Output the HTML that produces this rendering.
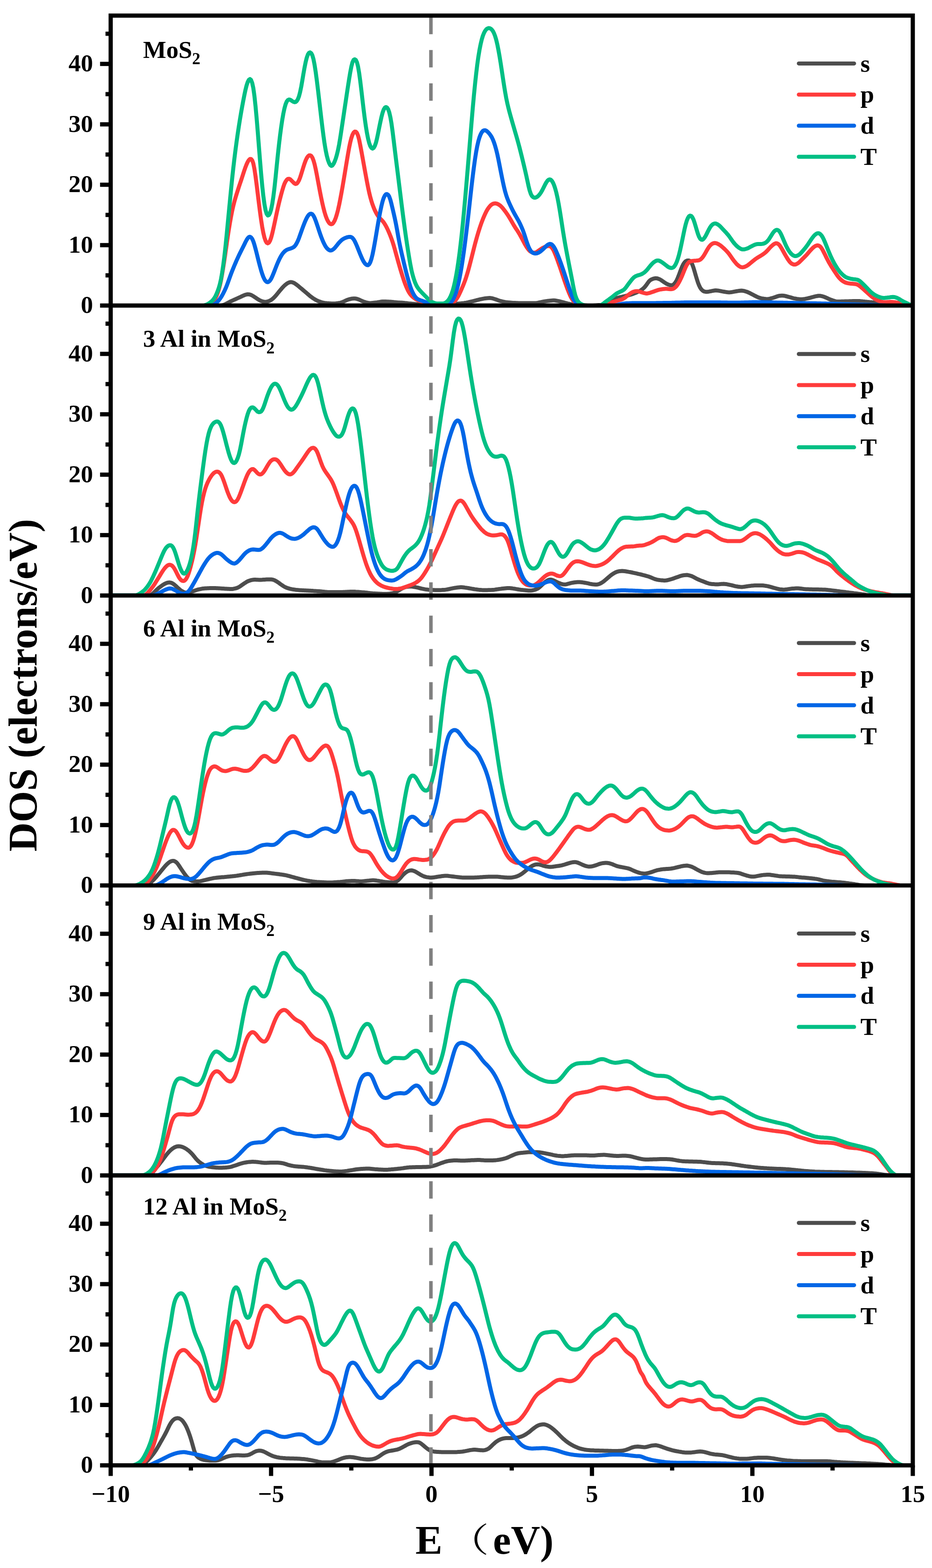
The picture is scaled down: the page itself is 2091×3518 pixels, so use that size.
<!DOCTYPE html>
<html lang="en">
<head>
<meta charset="utf-8">
<title>DOS of Al-intercalated MoS2</title>
<style>
html,body{margin:0;padding:0;background:#fff;}
body{width:2091px;height:3518px;}
svg{display:block;}
text{font-family:"Liberation Serif","Noto Serif CJK SC",serif;font-weight:bold;fill:#000;}
.tk{font-size:55px;}
.lb{font-size:55px;}
.sub{font-size:37px;}
.ax{font-size:90.7px;}
.cjk{font-family:"Noto Serif CJK SC","Liberation Serif",serif;font-weight:normal;}
.c{fill:none;stroke-linejoin:round;stroke-linecap:round;}
</style>
</head>
<body>
<svg width="2091" height="3518" viewBox="0 0 2091 3518">
<rect x="0" y="0" width="2091" height="3518" fill="#fff"/>
<defs>
<clipPath id="cp0"><rect x="248.3" y="35.0" width="1799.6" height="650.5"/></clipPath>
<clipPath id="cp1"><rect x="248.3" y="685.5" width="1799.6" height="650.5"/></clipPath>
<clipPath id="cp2"><rect x="248.3" y="1336.1" width="1799.6" height="650.5"/></clipPath>
<clipPath id="cp3"><rect x="248.3" y="1986.6" width="1799.6" height="650.5"/></clipPath>
<clipPath id="cp4"><rect x="248.3" y="2637.2" width="1799.6" height="650.5"/></clipPath>
</defs>
<g clip-path="url(#cp0)">
<path class="c" stroke="#4d4d4d" stroke-width="9.0" d="M243.3,685.5 245.8,685.5 248.3,685.5 250.8,685.5 253.3,685.5 255.8,685.5 258.3,685.5 260.8,685.5 263.3,685.5 265.8,685.5 268.3,685.5 270.8,685.5 273.3,685.5 275.8,685.5 278.3,685.5 280.8,685.5 283.3,685.5 285.8,685.5 288.3,685.5 290.8,685.5 293.3,685.5 295.8,685.5 298.3,685.5 300.8,685.5 303.3,685.5 305.8,685.5 308.3,685.5 310.8,685.5 313.3,685.5 315.8,685.5 318.3,685.5 320.8,685.5 323.3,685.5 325.8,685.5 328.3,685.5 330.8,685.5 333.3,685.5 335.8,685.5 338.3,685.5 340.8,685.5 343.3,685.5 345.8,685.5 348.3,685.5 350.8,685.5 353.3,685.5 355.8,685.5 358.3,685.5 360.8,685.5 363.3,685.5 365.8,685.5 368.3,685.5 370.8,685.5 373.3,685.5 375.8,685.5 378.3,685.5 380.8,685.5 383.3,685.5 385.8,685.5 388.3,685.5 390.8,685.5 393.3,685.5 395.8,685.5 398.3,685.5 400.8,685.5 403.3,685.5 405.8,685.5 408.3,685.5 410.8,685.5 413.3,685.5 415.8,685.5 418.3,685.5 420.8,685.5 423.3,685.5 425.8,685.5 428.3,685.5 430.8,685.5 433.3,685.5 435.8,685.5 438.3,685.5 440.8,685.5 443.3,685.5 445.8,685.5 448.3,685.5 450.8,685.5 453.3,685.5 455.8,685.5 458.3,685.5 460.8,685.5 463.3,685.5 465.8,685.5 468.3,685.5 470.8,685.5 473.3,685.5 475.8,685.5 478.3,685.5 480.8,685.5 483.3,685.5 485.8,685.5 488.3,685.5 490.8,685.5 493.3,685.5 495.8,685.3 498.3,685.0 500.8,684.4 503.3,683.5 505.8,682.4 508.3,681.1 510.8,679.8 513.3,678.4 515.8,677.1 518.3,675.8 520.8,674.7 523.3,673.5 525.8,672.4 528.3,671.3 530.8,670.2 533.3,669.0 535.8,667.9 538.3,666.8 540.8,665.6 543.3,664.4 545.8,663.2 548.3,662.2 550.8,661.3 553.3,660.7 555.8,660.3 558.3,660.4 560.8,660.9 563.3,661.8 565.8,663.0 568.3,664.5 570.8,666.1 573.3,667.8 575.8,669.5 578.3,671.2 580.8,672.7 583.3,674.1 585.8,675.2 588.3,676.1 590.8,676.8 593.3,677.2 595.8,677.3 598.3,677.0 600.8,676.4 603.3,675.5 605.8,674.4 608.3,673.0 610.8,671.1 613.3,669.0 615.8,666.6 618.3,663.8 620.8,660.8 623.3,657.7 625.8,654.6 628.3,651.6 630.8,648.7 633.3,645.8 635.8,643.1 638.3,640.6 640.8,638.5 643.3,636.6 645.8,635.0 648.3,633.8 650.8,633.1 653.3,632.9 655.8,633.4 658.3,634.3 660.8,635.6 663.3,637.2 665.8,639.1 668.3,641.1 670.8,643.1 673.3,645.2 675.8,647.2 678.3,649.3 680.8,651.5 683.3,653.6 685.8,655.7 688.3,657.9 690.8,660.0 693.3,662.2 695.8,664.3 698.3,666.2 700.8,668.0 703.3,669.7 705.8,671.3 708.3,672.7 710.8,674.1 713.3,675.2 715.8,676.2 718.3,677.1 720.8,678.0 723.3,678.7 725.8,679.3 728.3,679.7 730.8,680.0 733.3,680.3 735.8,680.4 738.3,680.6 740.8,680.7 743.3,680.9 745.8,680.9 748.3,681.0 750.8,680.9 753.3,680.8 755.8,680.6 758.3,680.2 760.8,679.8 763.3,679.3 765.8,678.7 768.3,677.8 770.8,676.7 773.3,675.5 775.8,674.3 778.3,673.2 780.8,672.3 783.3,671.5 785.8,670.9 788.3,670.3 790.8,669.9 793.3,669.7 795.8,669.7 798.3,670.0 800.8,670.6 803.3,671.4 805.8,672.3 808.3,673.5 810.8,674.7 813.3,675.8 815.8,676.7 818.3,677.5 820.8,678.3 823.3,679.0 825.8,679.5 828.3,679.8 830.8,679.9 833.3,679.8 835.8,679.6 838.3,679.3 840.8,679.0 843.3,678.7 845.8,678.4 848.3,678.0 850.8,677.6 853.3,677.2 855.8,676.8 858.3,676.6 860.8,676.5 863.3,676.6 865.8,676.6 868.3,676.7 870.8,676.8 873.3,676.9 875.8,677.1 878.3,677.3 880.8,677.5 883.3,677.8 885.8,678.1 888.3,678.3 890.8,678.5 893.3,678.7 895.8,678.8 898.3,678.9 900.8,679.1 903.3,679.3 905.8,679.5 908.3,679.8 910.8,680.0 913.3,680.3 915.8,680.6 918.3,680.9 920.8,681.1 923.3,681.3 925.8,681.6 928.3,681.8 930.8,682.0 933.3,682.2 935.8,682.4 938.3,682.5 940.8,682.7 943.3,682.8 945.8,682.9 948.3,683.0 950.8,683.0 953.3,683.0 955.8,683.0 958.3,683.0 960.8,683.0 963.3,683.0 965.8,683.0 968.3,683.0 970.8,683.0 973.3,683.0 975.8,683.0 978.3,683.0 980.8,683.0 983.3,683.0 985.8,683.0 988.3,683.0 990.8,683.0 993.3,683.0 995.8,683.0 998.3,683.0 1000.8,683.0 1003.3,683.0 1005.8,682.9 1008.3,682.8 1010.8,682.7 1013.3,682.6 1015.8,682.4 1018.3,682.2 1020.8,682.0 1023.3,681.8 1025.8,681.5 1028.3,681.3 1030.8,681.0 1033.3,680.8 1035.8,680.5 1038.3,680.2 1040.8,679.9 1043.3,679.5 1045.8,679.1 1048.3,678.6 1050.8,678.1 1053.3,677.5 1055.8,677.0 1058.3,676.4 1060.8,675.8 1063.3,675.2 1065.8,674.5 1068.3,673.9 1070.8,673.2 1073.3,672.6 1075.8,671.9 1078.3,671.4 1080.8,670.9 1083.3,670.4 1085.8,669.9 1088.3,669.5 1090.8,669.2 1093.3,668.9 1095.8,668.7 1098.3,668.6 1100.8,668.7 1103.3,669.1 1105.8,669.7 1108.3,670.5 1110.8,671.3 1113.3,672.1 1115.8,673.0 1118.3,673.9 1120.8,674.8 1123.3,675.5 1125.8,676.1 1128.3,676.7 1130.8,677.1 1133.3,677.6 1135.8,678.0 1138.3,678.3 1140.8,678.6 1143.3,678.8 1145.8,679.0 1148.3,679.2 1150.8,679.4 1153.3,679.5 1155.8,679.6 1158.3,679.7 1160.8,679.8 1163.3,679.9 1165.8,680.0 1168.3,680.0 1170.8,680.0 1173.3,680.0 1175.8,680.0 1178.3,680.0 1180.8,680.0 1183.3,680.0 1185.8,680.0 1188.3,680.0 1190.8,680.0 1193.3,680.0 1195.8,680.0 1198.3,680.0 1200.8,679.9 1203.3,679.7 1205.8,679.4 1208.3,679.0 1210.8,678.4 1213.3,677.9 1215.8,677.3 1218.3,676.8 1220.8,676.4 1223.3,676.0 1225.8,675.6 1228.3,675.3 1230.8,675.0 1233.3,674.7 1235.8,674.4 1238.3,674.2 1240.8,674.1 1243.3,674.1 1245.8,674.3 1248.3,674.7 1250.8,675.1 1253.3,675.6 1255.8,676.2 1258.3,676.8 1260.8,677.5 1263.3,678.2 1265.8,678.9 1268.3,679.6 1270.8,680.2 1273.3,680.8 1275.8,681.3 1278.3,681.9 1280.8,682.4 1283.3,682.7 1285.8,683.1 1288.3,683.3 1290.8,683.6 1293.3,683.8 1295.8,684.0 1298.3,684.3 1300.8,684.5 1303.3,684.6 1305.8,684.8 1308.3,685.0 1310.8,685.1 1313.3,685.2 1315.8,685.3 1318.3,685.4 1320.8,685.5 1323.3,685.5 1325.8,685.5 1328.3,685.5 1330.8,685.4 1333.3,685.3 1335.8,685.2 1338.3,685.0 1340.8,684.8 1343.3,684.6 1345.8,684.4 1348.3,684.2 1350.8,683.8 1353.3,683.4 1355.8,682.9 1358.3,682.2 1360.8,681.5 1363.3,680.6 1365.8,679.5 1368.3,678.0 1370.8,676.3 1373.3,674.4 1375.8,672.6 1378.3,671.0 1380.8,669.8 1383.3,668.9 1385.8,668.2 1388.3,667.6 1390.8,667.0 1393.3,666.4 1395.8,665.8 1398.3,665.2 1400.8,664.7 1403.3,664.1 1405.8,663.5 1408.3,662.9 1410.8,662.3 1413.3,661.5 1415.8,660.8 1418.3,659.9 1420.8,659.1 1423.3,658.1 1425.8,657.2 1428.3,656.1 1430.8,655.0 1433.3,653.8 1435.8,652.5 1438.3,651.0 1440.8,649.2 1443.3,647.1 1445.8,644.7 1448.3,641.8 1450.8,638.5 1453.3,634.8 1455.8,631.4 1458.3,629.0 1460.8,627.4 1463.3,626.2 1465.8,625.3 1468.3,624.6 1470.8,624.3 1473.3,624.4 1475.8,625.0 1478.3,625.9 1480.8,627.0 1483.3,628.5 1485.8,630.3 1488.3,632.0 1490.8,633.7 1493.3,635.3 1495.8,636.8 1498.3,638.1 1500.8,639.0 1503.3,639.7 1505.8,640.1 1508.3,639.9 1510.8,638.7 1513.3,636.3 1515.8,633.0 1518.3,628.6 1520.8,623.0 1523.3,616.7 1525.8,609.9 1528.3,603.2 1530.8,597.2 1533.3,592.3 1535.8,588.7 1538.3,586.3 1540.8,585.0 1543.3,584.4 1545.8,584.6 1548.3,585.7 1550.8,588.5 1553.3,593.5 1555.8,600.5 1558.3,608.8 1560.8,617.4 1563.3,625.8 1565.8,633.6 1568.3,640.1 1570.8,645.2 1573.3,648.9 1575.8,651.5 1578.3,653.2 1580.8,654.2 1583.3,654.7 1585.8,654.8 1588.3,654.5 1590.8,654.1 1593.3,653.6 1595.8,653.2 1598.3,652.7 1600.8,652.2 1603.3,651.8 1605.8,651.6 1608.3,651.7 1610.8,651.9 1613.3,652.4 1615.8,652.9 1618.3,653.4 1620.8,653.9 1623.3,654.3 1625.8,654.7 1628.3,655.1 1630.8,655.5 1633.3,655.8 1635.8,655.9 1638.3,655.8 1640.8,655.5 1643.3,655.1 1645.8,654.6 1648.3,654.1 1650.8,653.7 1653.3,653.3 1655.8,652.9 1658.3,652.5 1660.8,652.2 1663.3,652.1 1665.8,652.2 1668.3,652.6 1670.8,653.2 1673.3,654.0 1675.8,654.8 1678.3,655.8 1680.8,656.9 1683.3,658.1 1685.8,659.5 1688.3,660.8 1690.8,662.1 1693.3,663.4 1695.8,664.6 1698.3,665.9 1700.8,667.0 1703.3,668.0 1705.8,668.7 1708.3,669.3 1710.8,669.8 1713.3,670.2 1715.8,670.6 1718.3,670.8 1720.8,670.9 1723.3,670.8 1725.8,670.4 1728.3,669.9 1730.8,669.2 1733.3,668.5 1735.8,667.7 1738.3,666.9 1740.8,666.0 1743.3,665.1 1745.8,664.3 1748.3,663.7 1750.8,663.4 1753.3,663.2 1755.8,663.2 1758.3,663.4 1760.8,663.9 1763.3,664.5 1765.8,665.1 1768.3,665.8 1770.8,666.5 1773.3,667.2 1775.8,667.9 1778.3,668.7 1780.8,669.3 1783.3,669.8 1785.8,670.2 1788.3,670.6 1790.8,670.9 1793.3,671.2 1795.8,671.4 1798.3,671.4 1800.8,671.3 1803.3,671.1 1805.8,670.7 1808.3,670.2 1810.8,669.7 1813.3,669.1 1815.8,668.5 1818.3,667.9 1820.8,667.2 1823.3,666.5 1825.8,665.8 1828.3,665.2 1830.8,664.7 1833.3,664.2 1835.8,663.8 1838.3,663.7 1840.8,663.8 1843.3,664.3 1845.8,665.0 1848.3,665.8 1850.8,666.7 1853.3,667.7 1855.8,668.9 1858.3,670.1 1860.8,671.2 1863.3,672.2 1865.8,673.1 1868.3,674.0 1870.8,674.8 1873.3,675.6 1875.8,676.1 1878.3,676.4 1880.8,676.5 1883.3,676.4 1885.8,676.4 1888.3,676.3 1890.8,676.2 1893.3,676.2 1895.8,676.1 1898.3,676.0 1900.8,676.0 1903.3,675.9 1905.8,675.8 1908.3,675.8 1910.8,675.7 1913.3,675.6 1915.8,675.6 1918.3,675.6 1920.8,675.5 1923.3,675.5 1925.8,675.5 1928.3,675.6 1930.8,675.8 1933.3,675.9 1935.8,676.2 1938.3,676.4 1940.8,676.7 1943.3,676.9 1945.8,677.2 1948.3,677.4 1950.8,677.7 1953.3,677.9 1955.8,678.1 1958.3,678.4 1960.8,678.6 1963.3,678.9 1965.8,679.2 1968.3,679.4 1970.8,679.7 1973.3,679.9 1975.8,680.2 1978.3,680.4 1980.8,680.7 1983.3,681.0 1985.8,681.2 1988.3,681.5 1990.8,681.7 1993.3,682.0 1995.8,682.2 1998.3,682.4 2000.8,682.7 2003.3,682.9 2005.8,683.1 2008.3,683.4 2010.8,683.6 2013.3,683.9 2015.8,684.1 2018.3,684.3 2020.8,684.6 2023.3,684.8 2025.8,685.0 2028.3,685.1 2030.8,685.3 2033.3,685.4 2035.8,685.4 2038.3,685.5 2040.8,685.5 2043.3,685.5 2045.8,685.5 2048.3,685.5 2050.8,685.5 2053.3,685.5 2055.8,685.5"/>
<path class="c" stroke="#ff3b3b" stroke-width="9.0" d="M243.3,685.5 245.8,685.5 248.3,685.5 250.8,685.5 253.3,685.5 255.8,685.5 258.3,685.5 260.8,685.5 263.3,685.5 265.8,685.5 268.3,685.5 270.8,685.5 273.3,685.5 275.8,685.5 278.3,685.5 280.8,685.5 283.3,685.5 285.8,685.5 288.3,685.5 290.8,685.5 293.3,685.5 295.8,685.5 298.3,685.5 300.8,685.5 303.3,685.5 305.8,685.5 308.3,685.5 310.8,685.5 313.3,685.5 315.8,685.5 318.3,685.5 320.8,685.5 323.3,685.5 325.8,685.5 328.3,685.5 330.8,685.5 333.3,685.5 335.8,685.5 338.3,685.5 340.8,685.5 343.3,685.5 345.8,685.5 348.3,685.5 350.8,685.5 353.3,685.5 355.8,685.5 358.3,685.5 360.8,685.5 363.3,685.5 365.8,685.5 368.3,685.5 370.8,685.5 373.3,685.5 375.8,685.5 378.3,685.5 380.8,685.5 383.3,685.5 385.8,685.5 388.3,685.5 390.8,685.5 393.3,685.5 395.8,685.5 398.3,685.5 400.8,685.5 403.3,685.5 405.8,685.5 408.3,685.5 410.8,685.5 413.3,685.5 415.8,685.5 418.3,685.5 420.8,685.5 423.3,685.5 425.8,685.5 428.3,685.5 430.8,685.5 433.3,685.5 435.8,685.5 438.3,685.5 440.8,685.5 443.3,685.5 445.8,685.5 448.3,685.5 450.8,685.5 453.3,685.5 455.8,685.5 458.3,685.5 460.8,685.5 463.3,685.4 465.8,685.2 468.3,684.5 470.8,683.2 473.3,681.5 475.8,679.2 478.3,676.7 480.8,673.5 483.3,669.4 485.8,664.1 488.3,657.6 490.8,650.0 493.3,640.7 495.8,629.2 498.3,615.5 500.8,600.4 503.3,584.2 505.8,567.1 508.3,549.3 510.8,531.9 513.3,515.6 515.8,500.4 518.3,486.4 520.8,473.6 523.3,462.4 525.8,452.6 528.3,443.8 530.8,435.5 533.3,427.6 535.8,419.9 538.3,412.4 540.8,405.0 543.3,397.4 545.8,389.6 548.3,381.9 550.8,374.8 553.3,368.5 555.8,363.2 558.3,359.2 560.8,356.8 563.3,356.7 565.8,359.6 568.3,366.6 570.8,378.9 573.3,395.5 575.8,414.7 578.3,435.2 580.8,455.8 583.3,475.3 585.8,493.3 588.3,509.3 590.8,522.6 593.3,533.1 595.8,540.4 598.3,544.6 600.8,545.9 603.3,544.4 605.8,540.2 608.3,533.4 610.8,524.0 613.3,513.1 615.8,501.6 618.3,489.8 620.8,478.1 623.3,466.8 625.8,456.1 628.3,445.9 630.8,436.4 633.3,427.4 635.8,419.1 638.3,412.1 640.8,407.0 643.3,403.5 645.8,401.4 648.3,401.1 650.8,402.2 653.3,404.4 655.8,406.9 658.3,409.5 660.8,411.7 663.3,412.8 665.8,412.0 668.3,409.1 670.8,404.6 673.3,398.4 675.8,390.7 678.3,382.5 680.8,374.3 683.3,366.6 685.8,359.9 688.3,354.6 690.8,350.9 693.3,348.8 695.8,348.4 698.3,349.9 700.8,353.5 703.3,359.8 705.8,368.6 708.3,379.5 710.8,392.1 713.3,405.5 715.8,419.0 718.3,432.2 720.8,444.7 723.3,456.4 725.8,467.0 728.3,476.5 730.8,484.6 733.3,491.2 735.8,496.3 738.3,500.1 740.8,502.3 743.3,503.1 745.8,502.2 748.3,499.4 750.8,495.0 753.3,488.7 755.8,480.6 758.3,471.1 760.8,460.0 763.3,447.5 765.8,434.2 768.3,420.2 770.8,405.5 773.3,390.4 775.8,375.3 778.3,360.2 780.8,345.4 783.3,331.5 785.8,319.5 788.3,309.7 790.8,302.3 793.3,297.5 795.8,295.2 798.3,295.4 800.8,298.3 803.3,304.2 805.8,313.7 808.3,326.0 810.8,339.2 813.3,352.9 815.8,366.8 818.3,380.6 820.8,394.2 823.3,407.6 825.8,420.4 828.3,432.1 830.8,442.3 833.3,451.1 835.8,458.8 838.3,465.5 840.8,471.4 843.3,476.5 845.8,481.0 848.3,484.9 850.8,488.1 853.3,490.8 855.8,493.2 858.3,495.8 860.8,498.9 863.3,502.7 865.8,507.0 868.3,511.9 870.8,517.2 873.3,523.0 875.8,529.1 878.3,535.7 880.8,542.8 883.3,550.9 885.8,559.6 888.3,568.7 890.8,577.8 893.3,586.7 895.8,595.6 898.3,604.2 900.8,612.5 903.3,620.5 905.8,628.2 908.3,635.3 910.8,641.7 913.3,647.5 915.8,652.7 918.3,657.1 920.8,660.6 923.3,663.5 925.8,666.0 928.3,668.1 930.8,669.9 933.3,671.5 935.8,672.8 938.3,673.8 940.8,674.8 943.3,675.6 945.8,676.3 948.3,677.0 950.8,677.7 953.3,678.4 955.8,679.1 958.3,679.7 960.8,680.2 963.3,680.7 965.8,681.1 968.3,681.4 970.8,681.8 973.3,682.1 975.8,682.4 978.3,682.6 980.8,682.9 983.3,683.1 985.8,683.4 988.3,683.6 990.8,683.7 993.3,683.8 995.8,683.9 998.3,684.0 1000.8,683.9 1003.3,683.6 1005.8,683.2 1008.3,682.5 1010.8,681.6 1013.3,680.6 1015.8,679.3 1018.3,677.4 1020.8,675.0 1023.3,672.0 1025.8,668.4 1028.3,664.2 1030.8,659.2 1033.3,653.8 1035.8,648.1 1038.3,642.3 1040.8,636.1 1043.3,629.5 1045.8,622.2 1048.3,614.1 1050.8,605.4 1053.3,596.2 1055.8,586.7 1058.3,576.9 1060.8,566.8 1063.3,556.8 1065.8,547.2 1068.3,538.0 1070.8,529.1 1073.3,520.7 1075.8,512.8 1078.3,505.3 1080.8,498.3 1083.3,491.8 1085.8,485.8 1088.3,480.2 1090.8,475.0 1093.3,470.5 1095.8,466.7 1098.3,463.5 1100.8,460.8 1103.3,458.8 1105.8,457.4 1108.3,456.6 1110.8,456.3 1113.3,456.6 1115.8,457.4 1118.3,458.6 1120.8,460.2 1123.3,462.1 1125.8,464.6 1128.3,467.5 1130.8,470.7 1133.3,473.9 1135.8,477.4 1138.3,481.1 1140.8,484.9 1143.3,489.0 1145.8,493.1 1148.3,497.5 1150.8,501.9 1153.3,506.2 1155.8,510.2 1158.3,513.9 1160.8,517.6 1163.3,521.6 1165.8,525.8 1168.3,530.3 1170.8,535.0 1173.3,539.7 1175.8,544.4 1178.3,549.0 1180.8,553.2 1183.3,556.9 1185.8,560.2 1188.3,562.8 1190.8,564.7 1193.3,565.9 1195.8,566.7 1198.3,567.1 1200.8,566.9 1203.3,565.9 1205.8,564.2 1208.3,562.4 1210.8,560.6 1213.3,559.0 1215.8,557.4 1218.3,556.0 1220.8,554.8 1223.3,553.8 1225.8,552.9 1228.3,552.2 1230.8,551.9 1233.3,552.3 1235.8,553.6 1238.3,556.1 1240.8,559.7 1243.3,564.7 1245.8,570.7 1248.3,577.2 1250.8,583.9 1253.3,590.9 1255.8,598.0 1258.3,605.4 1260.8,612.9 1263.3,620.4 1265.8,627.9 1268.3,635.1 1270.8,642.1 1273.3,648.9 1275.8,655.2 1278.3,661.1 1280.8,666.5 1283.3,670.9 1285.8,674.4 1288.3,677.1 1290.8,679.2 1293.3,680.9 1295.8,682.4 1298.3,683.6 1300.8,684.5 1303.3,685.1 1305.8,685.4 1308.3,685.5 1310.8,685.5 1313.3,685.5 1315.8,685.5 1318.3,685.5 1320.8,685.5 1323.3,685.5 1325.8,685.5 1328.3,685.5 1330.8,685.5 1333.3,685.5 1335.8,685.5 1338.3,685.5 1340.8,685.5 1343.3,685.5 1345.8,685.5 1348.3,685.5 1350.8,685.3 1353.3,684.9 1355.8,684.3 1358.3,683.4 1360.8,682.4 1363.3,681.3 1365.8,680.4 1368.3,679.6 1370.8,678.8 1373.3,678.1 1375.8,677.4 1378.3,676.7 1380.8,676.0 1383.3,675.2 1385.8,674.5 1388.3,673.7 1390.8,673.0 1393.3,672.2 1395.8,671.3 1398.3,670.2 1400.8,668.7 1403.3,667.0 1405.8,664.9 1408.3,662.8 1410.8,660.8 1413.3,659.0 1415.8,657.4 1418.3,655.9 1420.8,654.7 1423.3,654.0 1425.8,653.5 1428.3,653.2 1430.8,653.3 1433.3,653.7 1435.8,654.5 1438.3,655.4 1440.8,656.2 1443.3,657.0 1445.8,657.7 1448.3,658.2 1450.8,658.4 1453.3,658.2 1455.8,657.7 1458.3,657.0 1460.8,656.1 1463.3,655.2 1465.8,654.4 1468.3,653.5 1470.8,652.6 1473.3,651.7 1475.8,650.9 1478.3,650.2 1480.8,649.7 1483.3,649.2 1485.8,648.8 1488.3,648.4 1490.8,648.2 1493.3,648.1 1495.8,648.1 1498.3,648.3 1500.8,648.6 1503.3,648.8 1505.8,648.8 1508.3,648.4 1510.8,647.6 1513.3,646.1 1515.8,644.1 1518.3,641.2 1520.8,637.6 1523.3,633.5 1525.8,628.7 1528.3,623.4 1530.8,617.6 1533.3,611.6 1535.8,605.4 1538.3,599.4 1540.8,594.4 1543.3,590.8 1545.8,588.2 1548.3,586.7 1550.8,585.9 1553.3,585.5 1555.8,585.3 1558.3,585.1 1560.8,584.9 1563.3,584.6 1565.8,584.4 1568.3,583.8 1570.8,582.7 1573.3,580.7 1575.8,578.0 1578.3,574.6 1580.8,570.6 1583.3,566.2 1585.8,561.8 1588.3,557.6 1590.8,553.8 1593.3,550.7 1595.8,548.4 1598.3,546.7 1600.8,545.7 1603.3,545.3 1605.8,545.5 1608.3,546.2 1610.8,547.3 1613.3,548.7 1615.8,550.3 1618.3,552.3 1620.8,554.4 1623.3,556.6 1625.8,558.9 1628.3,561.4 1630.8,564.0 1633.3,566.8 1635.8,569.9 1638.3,573.4 1640.8,577.0 1643.3,580.6 1645.8,584.0 1648.3,587.2 1650.8,590.2 1653.3,593.0 1655.8,595.2 1658.3,597.1 1660.8,598.5 1663.3,599.4 1665.8,599.7 1668.3,599.4 1670.8,598.6 1673.3,597.6 1675.8,596.3 1678.3,594.6 1680.8,592.7 1683.3,590.6 1685.8,588.5 1688.3,586.5 1690.8,584.4 1693.3,582.4 1695.8,580.6 1698.3,578.9 1700.8,577.4 1703.3,575.9 1705.8,574.4 1708.3,572.9 1710.8,571.2 1713.3,569.5 1715.8,567.6 1718.3,565.5 1720.8,563.0 1723.3,560.4 1725.8,557.5 1728.3,554.8 1730.8,552.3 1733.3,550.1 1735.8,548.2 1738.3,546.7 1740.8,545.8 1743.3,545.9 1745.8,547.2 1748.3,549.6 1750.8,552.8 1753.3,556.8 1755.8,561.2 1758.3,565.7 1760.8,570.2 1763.3,574.6 1765.8,578.8 1768.3,582.7 1770.8,586.2 1773.3,589.1 1775.8,591.2 1778.3,592.6 1780.8,593.4 1783.3,593.5 1785.8,593.0 1788.3,591.8 1790.8,590.2 1793.3,588.2 1795.8,585.8 1798.3,583.3 1800.8,580.8 1803.3,578.3 1805.8,575.8 1808.3,573.2 1810.8,570.4 1813.3,567.5 1815.8,564.6 1818.3,561.8 1820.8,559.1 1823.3,556.5 1825.8,554.3 1828.3,552.6 1830.8,551.3 1833.3,550.6 1835.8,550.7 1838.3,551.8 1840.8,553.8 1843.3,557.0 1845.8,561.2 1848.3,566.1 1850.8,571.1 1853.3,576.2 1855.8,581.2 1858.3,586.0 1860.8,590.5 1863.3,594.7 1865.8,598.8 1868.3,602.6 1870.8,606.5 1873.3,610.3 1875.8,614.1 1878.3,617.8 1880.8,621.1 1883.3,624.1 1885.8,626.6 1888.3,628.8 1890.8,630.7 1893.3,632.3 1895.8,633.6 1898.3,634.4 1900.8,635.1 1903.3,635.6 1905.8,636.0 1908.3,636.4 1910.8,636.6 1913.3,636.8 1915.8,637.0 1918.3,637.2 1920.8,637.6 1923.3,638.4 1925.8,639.7 1928.3,641.5 1930.8,643.4 1933.3,645.5 1935.8,647.6 1938.3,649.8 1940.8,652.1 1943.3,654.4 1945.8,656.6 1948.3,658.9 1950.8,661.2 1953.3,663.4 1955.8,665.4 1958.3,667.3 1960.8,669.1 1963.3,670.8 1965.8,672.3 1968.3,673.6 1970.8,674.7 1973.3,675.6 1975.8,676.4 1978.3,677.1 1980.8,677.6 1983.3,677.9 1985.8,677.9 1988.3,677.9 1990.8,677.8 1993.3,677.7 1995.8,677.6 1998.3,677.5 2000.8,677.6 2003.3,677.7 2005.8,677.9 2008.3,678.2 2010.8,678.6 2013.3,678.9 2015.8,679.3 2018.3,679.9 2020.8,680.4 2023.3,681.1 2025.8,681.7 2028.3,682.3 2030.8,682.9 2033.3,683.6 2035.8,684.2 2038.3,684.7 2040.8,685.2 2043.3,685.4 2045.8,685.5 2048.3,685.5 2050.8,685.5 2053.3,685.5 2055.8,685.5"/>
<path class="c" stroke="#0066e6" stroke-width="9.0" d="M243.3,685.5 245.8,685.5 248.3,685.5 250.8,685.5 253.3,685.5 255.8,685.5 258.3,685.5 260.8,685.5 263.3,685.5 265.8,685.5 268.3,685.5 270.8,685.5 273.3,685.5 275.8,685.5 278.3,685.5 280.8,685.5 283.3,685.5 285.8,685.5 288.3,685.5 290.8,685.5 293.3,685.5 295.8,685.5 298.3,685.5 300.8,685.5 303.3,685.5 305.8,685.5 308.3,685.5 310.8,685.5 313.3,685.5 315.8,685.5 318.3,685.5 320.8,685.5 323.3,685.5 325.8,685.5 328.3,685.5 330.8,685.5 333.3,685.5 335.8,685.5 338.3,685.5 340.8,685.5 343.3,685.5 345.8,685.5 348.3,685.5 350.8,685.5 353.3,685.5 355.8,685.5 358.3,685.5 360.8,685.5 363.3,685.5 365.8,685.5 368.3,685.5 370.8,685.5 373.3,685.5 375.8,685.5 378.3,685.5 380.8,685.5 383.3,685.5 385.8,685.5 388.3,685.5 390.8,685.5 393.3,685.5 395.8,685.5 398.3,685.5 400.8,685.5 403.3,685.5 405.8,685.5 408.3,685.5 410.8,685.5 413.3,685.5 415.8,685.5 418.3,685.5 420.8,685.5 423.3,685.5 425.8,685.5 428.3,685.5 430.8,685.5 433.3,685.5 435.8,685.5 438.3,685.5 440.8,685.5 443.3,685.5 445.8,685.5 448.3,685.5 450.8,685.5 453.3,685.5 455.8,685.5 458.3,685.5 460.8,685.5 463.3,685.5 465.8,685.5 468.3,685.5 470.8,685.5 473.3,685.4 475.8,685.2 478.3,684.4 480.8,683.1 483.3,681.3 485.8,679.1 488.3,676.6 490.8,673.9 493.3,670.8 495.8,667.1 498.3,662.9 500.8,658.3 503.3,653.3 505.8,647.9 508.3,642.0 510.8,635.4 513.3,628.5 515.8,621.5 518.3,614.6 520.8,608.1 523.3,602.0 525.8,595.9 528.3,590.1 530.8,584.3 533.3,578.8 535.8,573.4 538.3,568.2 540.8,563.2 543.3,558.3 545.8,553.3 548.3,548.2 550.8,543.0 553.3,538.3 555.8,534.4 558.3,531.9 560.8,531.2 563.3,532.6 565.8,535.9 568.3,541.5 570.8,549.2 573.3,558.2 575.8,568.0 578.3,578.1 580.8,588.1 583.3,597.7 585.8,606.6 588.3,614.6 590.8,621.4 593.3,626.7 595.8,630.4 598.3,632.5 600.8,633.1 603.3,632.0 605.8,629.4 608.3,625.5 610.8,620.3 613.3,614.3 615.8,608.0 618.3,601.5 620.8,595.2 623.3,589.1 625.8,583.6 628.3,578.5 630.8,574.0 633.3,570.1 635.8,566.9 638.3,564.3 640.8,562.2 643.3,560.6 645.8,559.5 648.3,558.7 650.8,558.0 653.3,557.1 655.8,556.1 658.3,554.8 660.8,552.7 663.3,549.6 665.8,545.4 668.3,540.2 670.8,534.1 673.3,527.1 675.8,519.9 678.3,513.0 680.8,506.2 683.3,499.8 685.8,493.9 688.3,488.8 690.8,484.5 693.3,481.4 695.8,479.7 698.3,479.4 700.8,480.8 703.3,484.0 705.8,488.9 708.3,495.3 710.8,502.4 713.3,509.9 715.8,517.6 718.3,525.0 720.8,531.9 723.3,538.2 725.8,544.1 728.3,549.1 730.8,553.4 733.3,556.8 735.8,559.3 738.3,561.0 740.8,561.9 743.3,561.8 745.8,560.7 748.3,558.9 750.8,556.5 753.3,553.6 755.8,550.4 758.3,547.2 760.8,544.3 763.3,541.7 765.8,539.3 768.3,537.3 770.8,535.7 773.3,534.4 775.8,533.4 778.3,532.5 780.8,531.9 783.3,531.5 785.8,531.4 788.3,532.1 790.8,533.8 793.3,536.8 795.8,541.0 798.3,546.2 800.8,552.0 803.3,558.2 805.8,564.5 808.3,570.8 810.8,576.6 813.3,582.1 815.8,586.8 818.3,590.6 820.8,593.2 823.3,594.8 825.8,594.9 828.3,593.0 830.8,588.3 833.3,581.0 835.8,571.0 838.3,558.7 840.8,545.0 843.3,530.4 845.8,515.4 848.3,500.7 850.8,486.7 853.3,473.7 855.8,462.0 858.3,451.9 860.8,444.1 863.3,438.9 865.8,436.0 868.3,435.4 870.8,437.1 873.3,441.2 875.8,448.2 878.3,457.7 880.8,468.2 883.3,479.0 885.8,490.1 888.3,502.1 890.8,515.4 893.3,529.6 895.8,543.2 898.3,555.6 900.8,567.0 903.3,577.8 905.8,588.4 908.3,598.8 910.8,609.0 913.3,618.6 915.8,627.5 918.3,636.0 920.8,643.7 923.3,650.5 925.8,656.2 928.3,661.0 930.8,664.9 933.3,668.0 935.8,670.2 938.3,671.7 940.8,672.8 943.3,673.8 945.8,674.6 948.3,675.4 950.8,676.3 953.3,677.3 955.8,678.2 958.3,679.1 960.8,679.9 963.3,680.6 965.8,681.1 968.3,681.6 970.8,682.0 973.3,682.4 975.8,682.8 978.3,683.2 980.8,683.4 983.3,683.7 985.8,683.8 988.3,683.9 990.8,683.9 993.3,683.8 995.8,683.6 998.3,683.2 1000.8,682.7 1003.3,682.1 1005.8,681.4 1008.3,680.4 1010.8,679.0 1013.3,676.5 1015.8,672.8 1018.3,668.1 1020.8,662.4 1023.3,655.4 1025.8,646.8 1028.3,636.8 1030.8,625.3 1033.3,612.2 1035.8,597.4 1038.3,581.1 1040.8,563.7 1043.3,545.0 1045.8,525.0 1048.3,504.1 1050.8,482.5 1053.3,460.0 1055.8,437.2 1058.3,415.0 1060.8,394.1 1063.3,374.6 1065.8,356.5 1068.3,340.6 1070.8,327.4 1073.3,316.6 1075.8,308.0 1078.3,301.6 1080.8,296.9 1083.3,293.8 1085.8,292.4 1088.3,292.2 1090.8,293.2 1093.3,295.1 1095.8,297.5 1098.3,300.4 1100.8,303.8 1103.3,307.9 1105.8,313.1 1108.3,319.5 1110.8,327.2 1113.3,336.1 1115.8,346.3 1118.3,358.1 1120.8,370.8 1123.3,383.7 1125.8,396.2 1128.3,408.3 1130.8,419.7 1133.3,429.8 1135.8,438.3 1138.3,445.4 1140.8,451.6 1143.3,457.3 1145.8,462.7 1148.3,467.9 1150.8,472.9 1153.3,477.7 1155.8,482.2 1158.3,486.6 1160.8,490.9 1163.3,495.4 1165.8,500.3 1168.3,505.5 1170.8,511.1 1173.3,517.3 1175.8,524.2 1178.3,531.9 1180.8,539.8 1183.3,547.2 1185.8,553.7 1188.3,559.0 1190.8,563.0 1193.3,565.8 1195.8,567.4 1198.3,568.3 1200.8,568.7 1203.3,568.6 1205.8,567.9 1208.3,566.8 1210.8,565.3 1213.3,563.5 1215.8,561.4 1218.3,559.1 1220.8,556.7 1223.3,554.2 1225.8,551.8 1228.3,549.7 1230.8,548.2 1233.3,547.3 1235.8,547.4 1238.3,548.8 1240.8,551.4 1243.3,554.9 1245.8,559.5 1248.3,564.9 1250.8,570.8 1253.3,577.0 1255.8,583.5 1258.3,590.3 1260.8,597.4 1263.3,604.7 1265.8,612.2 1268.3,619.8 1270.8,627.4 1273.3,635.0 1275.8,642.5 1278.3,649.9 1280.8,657.1 1283.3,663.8 1285.8,669.6 1288.3,674.0 1290.8,677.3 1293.3,679.8 1295.8,681.8 1298.3,683.2 1300.8,684.3 1303.3,685.1 1305.8,685.4 1308.3,685.5 1310.8,685.5 1313.3,685.5 1315.8,685.5 1318.3,685.5 1320.8,685.5 1323.3,685.5 1325.8,685.5 1328.3,685.5 1330.8,685.5 1333.3,685.5 1335.8,685.5 1338.3,685.5 1340.8,685.5 1343.3,685.5 1345.8,685.5 1348.3,685.5 1350.8,685.5 1353.3,685.5 1355.8,685.5 1358.3,685.5 1360.8,685.5 1363.3,685.5 1365.8,685.5 1368.3,685.5 1370.8,685.5 1373.3,685.5 1375.8,685.4 1378.3,685.2 1380.8,684.9 1383.3,684.4 1385.8,683.9 1388.3,683.2 1390.8,682.6 1393.3,682.1 1395.8,681.6 1398.3,681.2 1400.8,681.0 1403.3,680.8 1405.8,680.6 1408.3,680.5 1410.8,680.4 1413.3,680.3 1415.8,680.2 1418.3,680.1 1420.8,680.0 1423.3,680.0 1425.8,680.0 1428.3,680.0 1430.8,680.0 1433.3,680.0 1435.8,680.0 1438.3,680.0 1440.8,680.0 1443.3,680.0 1445.8,680.0 1448.3,680.0 1450.8,680.0 1453.3,680.0 1455.8,680.0 1458.3,680.0 1460.8,680.0 1463.3,679.9 1465.8,679.9 1468.3,679.9 1470.8,679.9 1473.3,679.8 1475.8,679.8 1478.3,679.8 1480.8,679.7 1483.3,679.7 1485.8,679.7 1488.3,679.6 1490.8,679.6 1493.3,679.6 1495.8,679.5 1498.3,679.5 1500.8,679.5 1503.3,679.4 1505.8,679.4 1508.3,679.3 1510.8,679.3 1513.3,679.2 1515.8,679.1 1518.3,679.1 1520.8,679.0 1523.3,678.9 1525.8,678.9 1528.3,678.8 1530.8,678.7 1533.3,678.7 1535.8,678.6 1538.3,678.6 1540.8,678.6 1543.3,678.5 1545.8,678.5 1548.3,678.5 1550.8,678.5 1553.3,678.5 1555.8,678.5 1558.3,678.5 1560.8,678.5 1563.3,678.5 1565.8,678.5 1568.3,678.5 1570.8,678.5 1573.3,678.5 1575.8,678.5 1578.3,678.5 1580.8,678.5 1583.3,678.5 1585.8,678.5 1588.3,678.5 1590.8,678.5 1593.3,678.5 1595.8,678.5 1598.3,678.5 1600.8,678.5 1603.3,678.5 1605.8,678.5 1608.3,678.5 1610.8,678.6 1613.3,678.6 1615.8,678.6 1618.3,678.7 1620.8,678.7 1623.3,678.7 1625.8,678.8 1628.3,678.8 1630.8,678.8 1633.3,678.9 1635.8,678.9 1638.3,678.9 1640.8,679.0 1643.3,679.0 1645.8,679.0 1648.3,679.0 1650.8,679.0 1653.3,679.0 1655.8,678.9 1658.3,678.9 1660.8,678.9 1663.3,678.8 1665.8,678.7 1668.3,678.7 1670.8,678.6 1673.3,678.5 1675.8,678.4 1678.3,678.4 1680.8,678.3 1683.3,678.2 1685.8,678.2 1688.3,678.1 1690.8,678.1 1693.3,678.0 1695.8,678.0 1698.3,678.0 1700.8,678.0 1703.3,678.0 1705.8,678.0 1708.3,678.1 1710.8,678.1 1713.3,678.1 1715.8,678.2 1718.3,678.2 1720.8,678.3 1723.3,678.4 1725.8,678.4 1728.3,678.5 1730.8,678.6 1733.3,678.6 1735.8,678.7 1738.3,678.7 1740.8,678.8 1743.3,678.9 1745.8,678.9 1748.3,679.0 1750.8,679.0 1753.3,679.1 1755.8,679.1 1758.3,679.2 1760.8,679.2 1763.3,679.3 1765.8,679.3 1768.3,679.4 1770.8,679.4 1773.3,679.5 1775.8,679.5 1778.3,679.6 1780.8,679.6 1783.3,679.7 1785.8,679.7 1788.3,679.8 1790.8,679.8 1793.3,679.9 1795.8,679.9 1798.3,680.0 1800.8,680.0 1803.3,680.1 1805.8,680.1 1808.3,680.2 1810.8,680.2 1813.3,680.3 1815.8,680.3 1818.3,680.4 1820.8,680.4 1823.3,680.5 1825.8,680.5 1828.3,680.6 1830.8,680.6 1833.3,680.7 1835.8,680.7 1838.3,680.8 1840.8,680.8 1843.3,680.9 1845.8,680.9 1848.3,681.0 1850.8,681.0 1853.3,681.1 1855.8,681.2 1858.3,681.2 1860.8,681.3 1863.3,681.4 1865.8,681.5 1868.3,681.5 1870.8,681.6 1873.3,681.7 1875.8,681.8 1878.3,681.8 1880.8,681.9 1883.3,682.0 1885.8,682.1 1888.3,682.2 1890.8,682.2 1893.3,682.3 1895.8,682.4 1898.3,682.5 1900.8,682.6 1903.3,682.6 1905.8,682.7 1908.3,682.8 1910.8,682.9 1913.3,682.9 1915.8,683.0 1918.3,683.1 1920.8,683.2 1923.3,683.2 1925.8,683.3 1928.3,683.4 1930.8,683.5 1933.3,683.5 1935.8,683.6 1938.3,683.7 1940.8,683.8 1943.3,683.8 1945.8,683.9 1948.3,684.0 1950.8,684.1 1953.3,684.1 1955.8,684.2 1958.3,684.3 1960.8,684.4 1963.3,684.5 1965.8,684.6 1968.3,684.7 1970.8,684.8 1973.3,684.9 1975.8,685.0 1978.3,685.1 1980.8,685.2 1983.3,685.2 1985.8,685.3 1988.3,685.4 1990.8,685.4 1993.3,685.4 1995.8,685.5 1998.3,685.5 2000.8,685.5 2003.3,685.5 2005.8,685.5 2008.3,685.5 2010.8,685.5 2013.3,685.5 2015.8,685.5 2018.3,685.5 2020.8,685.5 2023.3,685.5 2025.8,685.5 2028.3,685.5 2030.8,685.5 2033.3,685.5 2035.8,685.5 2038.3,685.5 2040.8,685.5 2043.3,685.5 2045.8,685.5 2048.3,685.5 2050.8,685.5"/>
<path class="c" stroke="#00bf84" stroke-width="9.0" d="M243.3,685.5 245.8,685.5 248.3,685.5 250.8,685.5 253.3,685.5 255.8,685.5 258.3,685.5 260.8,685.5 263.3,685.5 265.8,685.5 268.3,685.5 270.8,685.5 273.3,685.5 275.8,685.5 278.3,685.5 280.8,685.5 283.3,685.5 285.8,685.5 288.3,685.5 290.8,685.5 293.3,685.5 295.8,685.5 298.3,685.5 300.8,685.5 303.3,685.5 305.8,685.5 308.3,685.5 310.8,685.5 313.3,685.5 315.8,685.5 318.3,685.5 320.8,685.5 323.3,685.5 325.8,685.5 328.3,685.5 330.8,685.5 333.3,685.5 335.8,685.5 338.3,685.5 340.8,685.5 343.3,685.5 345.8,685.5 348.3,685.5 350.8,685.5 353.3,685.5 355.8,685.5 358.3,685.5 360.8,685.5 363.3,685.5 365.8,685.5 368.3,685.5 370.8,685.5 373.3,685.5 375.8,685.5 378.3,685.5 380.8,685.5 383.3,685.5 385.8,685.5 388.3,685.5 390.8,685.5 393.3,685.5 395.8,685.5 398.3,685.5 400.8,685.5 403.3,685.5 405.8,685.5 408.3,685.5 410.8,685.5 413.3,685.5 415.8,685.5 418.3,685.5 420.8,685.5 423.3,685.5 425.8,685.5 428.3,685.5 430.8,685.5 433.3,685.5 435.8,685.5 438.3,685.5 440.8,685.5 443.3,685.5 445.8,685.5 448.3,685.5 450.8,685.5 453.3,685.5 455.8,685.4 458.3,685.1 460.8,684.5 463.3,683.5 465.8,682.3 468.3,680.8 470.8,679.1 473.3,677.2 475.8,675.1 478.3,672.4 480.8,669.0 483.3,664.7 485.8,659.4 488.3,653.3 490.8,646.2 493.3,637.5 495.8,626.4 498.3,612.2 500.8,595.3 503.3,576.1 505.8,554.0 508.3,529.3 510.8,503.2 513.3,477.1 515.8,451.3 518.3,425.8 520.8,401.3 523.3,378.2 525.8,356.8 528.3,336.8 530.8,318.0 533.3,300.4 535.8,283.8 538.3,268.1 540.8,253.3 543.3,239.3 545.8,225.9 548.3,213.1 550.8,201.3 553.3,191.4 555.8,184.0 558.3,179.1 560.8,177.3 563.3,179.5 565.8,186.0 568.3,197.5 570.8,215.2 573.3,238.4 575.8,265.7 578.3,295.9 580.8,327.8 583.3,359.3 585.8,389.3 588.3,416.5 590.8,439.7 593.3,458.2 595.8,471.6 598.3,479.9 600.8,483.4 603.3,482.5 605.8,478.0 608.3,469.9 610.8,457.7 613.3,441.3 615.8,421.3 618.3,397.9 620.8,372.8 623.3,348.3 625.8,325.3 628.3,304.2 630.8,285.3 633.3,268.6 635.8,254.4 638.3,242.7 640.8,233.7 643.3,227.7 645.8,224.5 648.3,223.3 650.8,223.6 653.3,225.1 655.8,227.0 658.3,228.5 660.8,229.2 663.3,228.8 665.8,226.7 668.3,222.6 670.8,216.1 673.3,206.7 675.8,194.6 678.3,180.4 680.8,165.5 683.3,151.5 685.8,139.1 688.3,129.2 690.8,122.3 693.3,118.5 695.8,117.6 698.3,119.4 700.8,124.2 703.3,132.8 705.8,145.6 708.3,161.7 710.8,180.3 713.3,200.7 715.8,222.1 718.3,243.8 720.8,265.3 723.3,286.1 725.8,305.6 728.3,323.1 730.8,337.8 733.3,349.7 735.8,359.0 738.3,365.8 740.8,370.3 743.3,372.2 745.8,371.2 748.3,367.7 750.8,362.5 753.3,355.8 755.8,347.3 758.3,336.9 760.8,324.3 763.3,309.4 765.8,293.1 768.3,276.5 770.8,259.8 773.3,243.0 775.8,226.3 778.3,209.7 780.8,193.2 783.3,177.2 785.8,162.3 788.3,149.3 790.8,139.7 793.3,134.4 795.8,133.0 798.3,134.6 800.8,139.7 803.3,149.4 805.8,164.1 808.3,182.4 810.8,203.0 813.3,224.7 815.8,245.8 818.3,265.5 820.8,283.1 823.3,298.4 825.8,311.1 828.3,321.0 830.8,327.9 833.3,331.9 835.8,333.4 838.3,331.9 840.8,327.7 843.3,320.8 845.8,310.8 848.3,298.8 850.8,286.2 853.3,274.0 855.8,262.7 858.3,253.1 860.8,245.9 863.3,241.7 865.8,240.2 868.3,241.3 870.8,245.1 873.3,252.1 875.8,262.7 878.3,277.1 880.8,295.1 883.3,315.4 885.8,336.1 888.3,356.4 890.8,376.4 893.3,396.4 895.8,416.6 898.3,436.8 900.8,456.9 903.3,476.6 905.8,495.7 908.3,514.1 910.8,531.8 913.3,548.7 915.8,564.7 918.3,580.0 920.8,594.2 923.3,606.7 925.8,617.0 928.3,625.6 930.8,632.7 933.3,638.6 935.8,643.3 938.3,647.1 940.8,650.3 943.3,653.1 945.8,655.8 948.3,658.4 950.8,660.9 953.3,663.4 955.8,665.9 958.3,668.6 960.8,671.2 963.3,673.5 965.8,675.3 968.3,676.9 970.8,678.2 973.3,679.3 975.8,680.2 978.3,680.7 980.8,680.9 983.3,681.0 985.8,681.0 988.3,681.0 990.8,681.0 993.3,680.9 995.8,680.6 998.3,679.8 1000.8,678.3 1003.3,676.3 1005.8,673.6 1008.3,669.9 1010.8,665.0 1013.3,659.0 1015.8,651.6 1018.3,642.5 1020.8,631.4 1023.3,618.7 1025.8,604.2 1028.3,587.8 1030.8,569.3 1033.3,548.9 1035.8,526.7 1038.3,502.4 1040.8,476.3 1043.3,448.8 1045.8,420.3 1048.3,390.9 1050.8,360.8 1053.3,330.5 1055.8,300.4 1058.3,270.4 1060.8,241.1 1063.3,213.6 1065.8,188.4 1068.3,165.5 1070.8,144.8 1073.3,126.9 1075.8,111.9 1078.3,99.3 1080.8,88.8 1083.3,80.4 1085.8,74.1 1088.3,69.4 1090.8,66.1 1093.3,64.1 1095.8,63.1 1098.3,63.2 1100.8,64.3 1103.3,66.4 1105.8,69.7 1108.3,74.5 1110.8,81.0 1113.3,89.4 1115.8,99.9 1118.3,112.5 1120.8,126.5 1123.3,141.9 1125.8,158.3 1128.3,175.0 1130.8,191.2 1133.3,206.5 1135.8,220.4 1138.3,232.3 1140.8,242.7 1143.3,252.3 1145.8,261.4 1148.3,270.3 1150.8,279.0 1153.3,287.6 1155.8,296.2 1158.3,304.8 1160.8,313.6 1163.3,322.6 1165.8,332.0 1168.3,341.8 1170.8,351.9 1173.3,362.2 1175.8,372.6 1178.3,383.3 1180.8,394.2 1183.3,405.7 1185.8,417.3 1188.3,427.4 1190.8,434.8 1193.3,439.6 1195.8,442.2 1198.3,443.4 1200.8,443.4 1203.3,442.6 1205.8,441.1 1208.3,438.9 1210.8,436.0 1213.3,432.5 1215.8,428.3 1218.3,423.5 1220.8,418.5 1223.3,413.5 1225.8,409.0 1228.3,405.5 1230.8,403.3 1233.3,402.4 1235.8,403.3 1238.3,405.9 1240.8,410.1 1243.3,416.0 1245.8,423.6 1248.3,432.9 1250.8,444.0 1253.3,457.0 1255.8,471.4 1258.3,487.1 1260.8,503.5 1263.3,519.8 1265.8,535.1 1268.3,549.4 1270.8,563.0 1273.3,576.2 1275.8,589.2 1278.3,601.8 1280.8,614.4 1283.3,627.2 1285.8,640.5 1288.3,653.0 1290.8,663.0 1293.3,669.9 1295.8,674.6 1298.3,678.0 1300.8,680.2 1303.3,681.8 1305.8,683.1 1308.3,684.1 1310.8,684.8 1313.3,685.3 1315.8,685.4 1318.3,685.5 1320.8,685.5 1323.3,685.5 1325.8,685.5 1328.3,685.5 1330.8,685.5 1333.3,685.5 1335.8,685.5 1338.3,685.5 1340.8,685.5 1343.3,685.5 1345.8,685.2 1348.3,684.5 1350.8,683.2 1353.3,681.4 1355.8,679.4 1358.3,677.5 1360.8,675.7 1363.3,673.9 1365.8,672.1 1368.3,670.2 1370.8,668.4 1373.3,666.4 1375.8,664.4 1378.3,662.4 1380.8,660.5 1383.3,658.7 1385.8,657.2 1388.3,655.9 1390.8,654.7 1393.3,653.6 1395.8,652.4 1398.3,650.9 1400.8,648.9 1403.3,646.2 1405.8,642.9 1408.3,639.4 1410.8,636.0 1413.3,632.7 1415.8,629.5 1418.3,626.4 1420.8,623.7 1423.3,621.5 1425.8,619.9 1428.3,618.7 1430.8,617.9 1433.3,617.2 1435.8,616.5 1438.3,615.6 1440.8,614.4 1443.3,612.9 1445.8,611.1 1448.3,608.9 1450.8,606.4 1453.3,603.5 1455.8,600.3 1458.3,597.2 1460.8,594.3 1463.3,591.6 1465.8,589.2 1468.3,587.3 1470.8,585.8 1473.3,584.8 1475.8,584.4 1478.3,584.8 1480.8,585.8 1483.3,587.2 1485.8,588.8 1488.3,590.6 1490.8,592.5 1493.3,594.5 1495.8,596.4 1498.3,598.3 1500.8,599.8 1503.3,600.8 1505.8,601.2 1508.3,601.0 1510.8,599.8 1513.3,597.2 1515.8,593.1 1518.3,587.7 1520.8,580.6 1523.3,571.9 1525.8,561.8 1528.3,550.4 1530.8,538.3 1533.3,526.1 1535.8,514.2 1538.3,503.7 1540.8,495.2 1543.3,489.1 1545.8,485.2 1548.3,483.8 1550.8,484.5 1553.3,487.5 1555.8,492.6 1558.3,499.7 1560.8,508.0 1563.3,516.6 1565.8,524.6 1568.3,531.1 1570.8,535.5 1573.3,537.7 1575.8,537.9 1578.3,536.3 1580.8,533.1 1583.3,529.0 1585.8,524.1 1588.3,519.0 1590.8,514.2 1593.3,509.8 1595.8,506.3 1598.3,503.9 1600.8,502.3 1603.3,501.5 1605.8,501.6 1608.3,502.5 1610.8,503.8 1613.3,505.6 1615.8,507.8 1618.3,510.5 1620.8,513.2 1623.3,515.8 1625.8,518.5 1628.3,521.1 1630.8,523.9 1633.3,526.8 1635.8,530.0 1638.3,533.5 1640.8,537.1 1643.3,540.7 1645.8,544.0 1648.3,547.0 1650.8,549.7 1653.3,552.2 1655.8,554.3 1658.3,556.2 1660.8,557.7 1663.3,558.9 1665.8,559.6 1668.3,559.6 1670.8,559.2 1673.3,558.5 1675.8,557.7 1678.3,556.7 1680.8,555.4 1683.3,554.0 1685.8,552.7 1688.3,551.4 1690.8,550.2 1693.3,549.1 1695.8,548.3 1698.3,547.7 1700.8,547.5 1703.3,547.5 1705.8,547.5 1708.3,547.4 1710.8,547.1 1713.3,546.5 1715.8,545.5 1718.3,544.1 1720.8,542.1 1723.3,539.3 1725.8,535.8 1728.3,531.9 1730.8,527.8 1733.3,523.8 1735.8,520.4 1738.3,517.8 1740.8,516.2 1743.3,515.7 1745.8,516.5 1748.3,518.8 1750.8,522.6 1753.3,527.6 1755.8,533.3 1758.3,539.2 1760.8,545.1 1763.3,550.8 1765.8,555.8 1768.3,560.3 1770.8,564.1 1773.3,567.4 1775.8,570.1 1778.3,572.2 1780.8,573.7 1783.3,574.5 1785.8,574.5 1788.3,573.8 1790.8,572.6 1793.3,571.0 1795.8,568.8 1798.3,566.1 1800.8,563.3 1803.3,560.4 1805.8,557.4 1808.3,554.2 1810.8,550.8 1813.3,547.3 1815.8,543.5 1818.3,539.7 1820.8,536.1 1823.3,532.7 1825.8,529.5 1828.3,526.9 1830.8,524.9 1833.3,523.6 1835.8,523.2 1838.3,523.9 1840.8,525.7 1843.3,528.5 1845.8,532.5 1848.3,537.6 1850.8,543.4 1853.3,549.5 1855.8,555.7 1858.3,562.1 1860.8,568.1 1863.3,573.9 1865.8,579.2 1868.3,584.4 1870.8,589.2 1873.3,593.7 1875.8,597.8 1878.3,601.7 1880.8,605.3 1883.3,608.6 1885.8,611.6 1888.3,614.2 1890.8,616.6 1893.3,618.7 1895.8,620.6 1898.3,622.0 1900.8,623.1 1903.3,624.0 1905.8,624.7 1908.3,625.3 1910.8,625.8 1913.3,626.2 1915.8,626.5 1918.3,626.7 1920.8,627.1 1923.3,627.6 1925.8,628.5 1928.3,630.1 1930.8,632.1 1933.3,634.4 1935.8,636.7 1938.3,639.2 1940.8,641.7 1943.3,644.3 1945.8,646.9 1948.3,649.5 1950.8,652.1 1953.3,654.6 1955.8,656.8 1958.3,658.7 1960.8,660.5 1963.3,662.1 1965.8,663.4 1968.3,664.6 1970.8,665.7 1973.3,666.6 1975.8,667.4 1978.3,668.0 1980.8,668.3 1983.3,668.4 1985.8,668.3 1988.3,668.1 1990.8,667.8 1993.3,667.5 1995.8,667.2 1998.3,666.8 2000.8,666.4 2003.3,666.2 2005.8,666.4 2008.3,666.9 2010.8,667.8 2013.3,668.8 2015.8,670.0 2018.3,671.4 2020.8,673.0 2023.3,674.5 2025.8,675.9 2028.3,677.2 2030.8,678.4 2033.3,679.5 2035.8,680.7 2038.3,682.0 2040.8,683.3 2043.3,684.5 2045.8,685.2 2048.3,685.4 2050.8,685.5 2053.3,685.5 2055.8,685.5"/>
</g>
<g clip-path="url(#cp1)">
<path class="c" stroke="#4d4d4d" stroke-width="9.0" d="M243.3,1336.1 245.8,1336.1 248.3,1336.1 250.8,1336.1 253.3,1336.1 255.8,1336.1 258.3,1336.1 260.8,1336.1 263.3,1336.1 265.8,1336.1 268.3,1336.1 270.8,1336.1 273.3,1336.1 275.8,1336.1 278.3,1336.1 280.8,1336.1 283.3,1336.1 285.8,1336.1 288.3,1336.1 290.8,1336.1 293.3,1336.1 295.8,1336.1 298.3,1336.1 300.8,1336.1 303.3,1336.1 305.8,1336.1 308.3,1336.1 310.8,1336.1 313.3,1336.1 315.8,1336.1 318.3,1336.1 320.8,1336.1 323.3,1336.1 325.8,1336.0 328.3,1336.0 330.8,1336.0 333.3,1335.9 335.8,1335.6 338.3,1334.8 340.8,1333.3 343.3,1331.3 345.8,1329.0 348.3,1326.4 350.8,1323.9 353.3,1321.6 355.8,1319.4 358.3,1317.5 360.8,1315.6 363.3,1313.8 365.8,1312.1 368.3,1310.6 370.8,1309.3 373.3,1308.2 375.8,1307.4 378.3,1306.9 380.8,1306.8 383.3,1307.3 385.8,1308.3 388.3,1309.7 390.8,1311.5 393.3,1313.6 395.8,1315.9 398.3,1318.2 400.8,1320.5 403.3,1322.7 405.8,1324.7 408.3,1326.3 410.8,1327.7 413.3,1328.8 415.8,1329.5 418.3,1329.8 420.8,1329.6 423.3,1329.2 425.8,1328.6 428.3,1327.9 430.8,1327.2 433.3,1326.5 435.8,1325.6 438.3,1324.7 440.8,1323.8 443.3,1323.0 445.8,1322.4 448.3,1321.8 450.8,1321.3 453.3,1320.8 455.8,1320.4 458.3,1320.2 460.8,1320.0 463.3,1319.9 465.8,1319.8 468.3,1319.7 470.8,1319.6 473.3,1319.6 475.8,1319.5 478.3,1319.5 480.8,1319.5 483.3,1319.6 485.8,1319.7 488.3,1319.8 490.8,1319.9 493.3,1320.1 495.8,1320.2 498.3,1320.4 500.8,1320.5 503.3,1320.7 505.8,1320.9 508.3,1321.0 510.8,1321.2 513.3,1321.3 515.8,1321.4 518.3,1321.4 520.8,1321.4 523.3,1321.2 525.8,1320.7 528.3,1320.2 530.8,1319.4 533.3,1318.5 535.8,1317.3 538.3,1315.7 540.8,1314.0 543.3,1312.2 545.8,1310.5 548.3,1308.8 550.8,1307.2 553.3,1305.6 555.8,1304.3 558.3,1303.3 560.8,1302.4 563.3,1301.7 565.8,1301.1 568.3,1300.7 570.8,1300.6 573.3,1300.6 575.8,1300.7 578.3,1300.8 580.8,1300.9 583.3,1300.9 585.8,1300.9 588.3,1300.8 590.8,1300.6 593.3,1300.4 595.8,1300.2 598.3,1300.1 600.8,1300.0 603.3,1300.0 605.8,1300.0 608.3,1300.1 610.8,1300.3 613.3,1300.9 615.8,1301.9 618.3,1303.1 620.8,1304.6 623.3,1306.2 625.8,1307.9 628.3,1309.8 630.8,1311.6 633.3,1313.3 635.8,1315.0 638.3,1316.5 640.8,1317.7 643.3,1318.8 645.8,1319.7 648.3,1320.4 650.8,1321.1 653.3,1321.6 655.8,1322.1 658.3,1322.5 660.8,1322.9 663.3,1323.3 665.8,1323.6 668.3,1323.8 670.8,1324.0 673.3,1324.2 675.8,1324.3 678.3,1324.5 680.8,1324.6 683.3,1324.7 685.8,1324.8 688.3,1324.9 690.8,1325.0 693.3,1325.2 695.8,1325.3 698.3,1325.5 700.8,1325.6 703.3,1325.8 705.8,1325.9 708.3,1326.1 710.8,1326.2 713.3,1326.4 715.8,1326.6 718.3,1326.8 720.8,1327.0 723.3,1327.3 725.8,1327.5 728.3,1327.8 730.8,1328.0 733.3,1328.2 735.8,1328.4 738.3,1328.4 740.8,1328.5 743.3,1328.5 745.8,1328.5 748.3,1328.5 750.8,1328.5 753.3,1328.5 755.8,1328.5 758.3,1328.5 760.8,1328.5 763.3,1328.5 765.8,1328.5 768.3,1328.4 770.8,1328.3 773.3,1328.2 775.8,1328.1 778.3,1328.0 780.8,1327.8 783.3,1327.7 785.8,1327.6 788.3,1327.5 790.8,1327.5 793.3,1327.6 795.8,1327.6 798.3,1327.8 800.8,1327.9 803.3,1328.1 805.8,1328.3 808.3,1328.5 810.8,1328.7 813.3,1328.9 815.8,1329.1 818.3,1329.3 820.8,1329.6 823.3,1329.8 825.8,1330.1 828.3,1330.4 830.8,1330.7 833.3,1330.9 835.8,1331.2 838.3,1331.4 840.8,1331.5 843.3,1331.7 845.8,1331.8 848.3,1332.0 850.8,1332.1 853.3,1332.2 855.8,1332.3 858.3,1332.4 860.8,1332.4 863.3,1332.5 865.8,1332.5 868.3,1332.4 870.8,1332.2 873.3,1332.0 875.8,1331.7 878.3,1331.3 880.8,1330.8 883.3,1330.3 885.8,1329.5 888.3,1328.4 890.8,1327.0 893.3,1325.5 895.8,1323.9 898.3,1322.4 900.8,1320.9 903.3,1319.7 905.8,1318.6 908.3,1317.6 910.8,1316.9 913.3,1316.5 915.8,1316.3 918.3,1316.1 920.8,1316.1 923.3,1316.1 925.8,1316.3 928.3,1316.7 930.8,1317.1 933.3,1317.7 935.8,1318.2 938.3,1318.7 940.8,1319.4 943.3,1320.0 945.8,1320.6 948.3,1321.1 950.8,1321.6 953.3,1322.1 955.8,1322.5 958.3,1322.8 960.8,1323.1 963.3,1323.4 965.8,1323.5 968.3,1323.6 970.8,1323.7 973.3,1323.8 975.8,1323.9 978.3,1323.9 980.8,1324.0 983.3,1324.0 985.8,1324.0 988.3,1323.9 990.8,1323.8 993.3,1323.6 995.8,1323.4 998.3,1323.2 1000.8,1322.9 1003.3,1322.5 1005.8,1322.0 1008.3,1321.5 1010.8,1320.9 1013.3,1320.4 1015.8,1319.9 1018.3,1319.4 1020.8,1319.0 1023.3,1318.6 1025.8,1318.2 1028.3,1317.9 1030.8,1317.7 1033.3,1317.6 1035.8,1317.6 1038.3,1317.7 1040.8,1318.0 1043.3,1318.4 1045.8,1318.7 1048.3,1319.1 1050.8,1319.5 1053.3,1320.0 1055.8,1320.4 1058.3,1320.9 1060.8,1321.3 1063.3,1321.7 1065.8,1322.1 1068.3,1322.4 1070.8,1322.8 1073.3,1323.1 1075.8,1323.4 1078.3,1323.6 1080.8,1323.8 1083.3,1323.9 1085.8,1324.0 1088.3,1324.0 1090.8,1323.9 1093.3,1323.9 1095.8,1323.8 1098.3,1323.8 1100.8,1323.7 1103.3,1323.6 1105.8,1323.4 1108.3,1323.2 1110.8,1322.9 1113.3,1322.5 1115.8,1322.1 1118.3,1321.8 1120.8,1321.4 1123.3,1321.1 1125.8,1320.7 1128.3,1320.4 1130.8,1320.2 1133.3,1320.0 1135.8,1319.8 1138.3,1319.6 1140.8,1319.6 1143.3,1319.6 1145.8,1319.7 1148.3,1320.0 1150.8,1320.4 1153.3,1320.7 1155.8,1321.1 1158.3,1321.6 1160.8,1322.0 1163.3,1322.5 1165.8,1322.9 1168.3,1323.3 1170.8,1323.6 1173.3,1323.8 1175.8,1324.1 1178.3,1324.3 1180.8,1324.6 1183.3,1324.7 1185.8,1324.9 1188.3,1324.9 1190.8,1324.9 1193.3,1324.7 1195.8,1324.3 1198.3,1323.7 1200.8,1322.9 1203.3,1322.0 1205.8,1320.9 1208.3,1319.3 1210.8,1317.3 1213.3,1315.0 1215.8,1312.6 1218.3,1310.3 1220.8,1307.9 1223.3,1305.7 1225.8,1303.8 1228.3,1302.3 1230.8,1301.2 1233.3,1300.5 1235.8,1300.4 1238.3,1300.9 1240.8,1301.8 1243.3,1302.9 1245.8,1304.1 1248.3,1305.4 1250.8,1306.6 1253.3,1307.8 1255.8,1308.8 1258.3,1309.8 1260.8,1310.5 1263.3,1311.0 1265.8,1311.3 1268.3,1311.3 1270.8,1310.9 1273.3,1310.2 1275.8,1309.5 1278.3,1308.8 1280.8,1308.2 1283.3,1307.7 1285.8,1307.2 1288.3,1306.8 1290.8,1306.5 1293.3,1306.3 1295.8,1306.1 1298.3,1306.1 1300.8,1306.1 1303.3,1306.2 1305.8,1306.5 1308.3,1306.9 1310.8,1307.3 1313.3,1307.7 1315.8,1308.2 1318.3,1308.7 1320.8,1309.2 1323.3,1309.8 1325.8,1310.3 1328.3,1310.7 1330.8,1311.0 1333.3,1311.2 1335.8,1311.4 1338.3,1311.4 1340.8,1311.2 1343.3,1310.6 1345.8,1309.6 1348.3,1308.4 1350.8,1306.9 1353.3,1305.2 1355.8,1303.2 1358.3,1301.1 1360.8,1299.0 1363.3,1296.8 1365.8,1294.7 1368.3,1292.6 1370.8,1290.6 1373.3,1288.7 1375.8,1287.1 1378.3,1285.6 1380.8,1284.2 1383.3,1283.2 1385.8,1282.4 1388.3,1281.8 1390.8,1281.4 1393.3,1281.2 1395.8,1281.1 1398.3,1281.2 1400.8,1281.5 1403.3,1281.8 1405.8,1282.2 1408.3,1282.6 1410.8,1283.1 1413.3,1283.5 1415.8,1284.0 1418.3,1284.5 1420.8,1285.1 1423.3,1285.6 1425.8,1286.2 1428.3,1286.7 1430.8,1287.3 1433.3,1287.9 1435.8,1288.4 1438.3,1289.0 1440.8,1289.6 1443.3,1290.3 1445.8,1290.9 1448.3,1291.6 1450.8,1292.3 1453.3,1293.0 1455.8,1293.8 1458.3,1294.7 1460.8,1295.7 1463.3,1296.8 1465.8,1297.9 1468.3,1298.9 1470.8,1299.7 1473.3,1300.3 1475.8,1300.8 1478.3,1301.3 1480.8,1301.6 1483.3,1301.9 1485.8,1302.1 1488.3,1302.3 1490.8,1302.4 1493.3,1302.3 1495.8,1302.0 1498.3,1301.5 1500.8,1300.8 1503.3,1300.2 1505.8,1299.5 1508.3,1298.7 1510.8,1297.9 1513.3,1297.0 1515.8,1296.1 1518.3,1295.2 1520.8,1294.4 1523.3,1293.5 1525.8,1292.6 1528.3,1291.8 1530.8,1291.2 1533.3,1290.8 1535.8,1290.4 1538.3,1290.2 1540.8,1290.1 1543.3,1290.3 1545.8,1290.8 1548.3,1291.5 1550.8,1292.3 1553.3,1293.3 1555.8,1294.5 1558.3,1295.9 1560.8,1297.3 1563.3,1298.6 1565.8,1299.8 1568.3,1300.8 1570.8,1301.9 1573.3,1302.9 1575.8,1303.8 1578.3,1304.8 1580.8,1305.7 1583.3,1306.7 1585.8,1307.7 1588.3,1308.5 1590.8,1309.3 1593.3,1309.8 1595.8,1310.2 1598.3,1310.4 1600.8,1310.6 1603.3,1310.8 1605.8,1310.9 1608.3,1311.0 1610.8,1310.9 1613.3,1310.8 1615.8,1310.6 1618.3,1310.3 1620.8,1310.2 1623.3,1310.1 1625.8,1310.2 1628.3,1310.4 1630.8,1310.8 1633.3,1311.3 1635.8,1311.8 1638.3,1312.4 1640.8,1312.9 1643.3,1313.5 1645.8,1314.2 1648.3,1314.8 1650.8,1315.4 1653.3,1315.8 1655.8,1316.2 1658.3,1316.6 1660.8,1316.8 1663.3,1316.9 1665.8,1316.9 1668.3,1316.6 1670.8,1316.3 1673.3,1315.9 1675.8,1315.5 1678.3,1315.1 1680.8,1314.8 1683.3,1314.5 1685.8,1314.1 1688.3,1313.9 1690.8,1313.7 1693.3,1313.6 1695.8,1313.5 1698.3,1313.5 1700.8,1313.5 1703.3,1313.5 1705.8,1313.5 1708.3,1313.5 1710.8,1313.6 1713.3,1313.8 1715.8,1314.1 1718.3,1314.5 1720.8,1314.9 1723.3,1315.4 1725.8,1316.0 1728.3,1316.7 1730.8,1317.4 1733.3,1318.1 1735.8,1318.8 1738.3,1319.5 1740.8,1320.2 1743.3,1320.8 1745.8,1321.4 1748.3,1322.0 1750.8,1322.4 1753.3,1322.6 1755.8,1322.8 1758.3,1322.9 1760.8,1322.8 1763.3,1322.6 1765.8,1322.3 1768.3,1321.8 1770.8,1321.5 1773.3,1321.1 1775.8,1320.8 1778.3,1320.6 1780.8,1320.4 1783.3,1320.2 1785.8,1320.1 1788.3,1320.1 1790.8,1320.1 1793.3,1320.3 1795.8,1320.5 1798.3,1320.8 1800.8,1321.1 1803.3,1321.5 1805.8,1321.7 1808.3,1321.9 1810.8,1322.1 1813.3,1322.1 1815.8,1322.2 1818.3,1322.3 1820.8,1322.3 1823.3,1322.4 1825.8,1322.4 1828.3,1322.5 1830.8,1322.5 1833.3,1322.6 1835.8,1322.6 1838.3,1322.7 1840.8,1322.8 1843.3,1322.8 1845.8,1322.9 1848.3,1323.0 1850.8,1323.1 1853.3,1323.3 1855.8,1323.5 1858.3,1323.8 1860.8,1324.0 1863.3,1324.3 1865.8,1324.6 1868.3,1324.9 1870.8,1325.2 1873.3,1325.5 1875.8,1325.8 1878.3,1326.1 1880.8,1326.4 1883.3,1326.8 1885.8,1327.1 1888.3,1327.4 1890.8,1327.7 1893.3,1328.0 1895.8,1328.3 1898.3,1328.7 1900.8,1329.0 1903.3,1329.3 1905.8,1329.6 1908.3,1329.9 1910.8,1330.2 1913.3,1330.5 1915.8,1330.9 1918.3,1331.2 1920.8,1331.5 1923.3,1331.8 1925.8,1332.1 1928.3,1332.4 1930.8,1332.7 1933.3,1333.1 1935.8,1333.4 1938.3,1333.8 1940.8,1334.2 1943.3,1334.6 1945.8,1334.9 1948.3,1335.2 1950.8,1335.5 1953.3,1335.7 1955.8,1335.9 1958.3,1336.0 1960.8,1336.0 1963.3,1336.0 1965.8,1336.0 1968.3,1336.0 1970.8,1336.1 1973.3,1336.1 1975.8,1336.1 1978.3,1336.1 1980.8,1336.1 1983.3,1336.1 1985.8,1336.1 1988.3,1336.1 1990.8,1336.1 1993.3,1336.1 1995.8,1336.1 1998.3,1336.1 2000.8,1336.1 2003.3,1336.1 2005.8,1336.1 2008.3,1336.1 2010.8,1336.1 2013.3,1336.1 2015.8,1336.1 2018.3,1336.1 2020.8,1336.1 2023.3,1336.1 2025.8,1336.1 2028.3,1336.1 2030.8,1336.1 2033.3,1336.1 2035.8,1336.1 2038.3,1336.1 2040.8,1336.1 2043.3,1336.1 2045.8,1336.1 2048.3,1336.1 2050.8,1336.1"/>
<path class="c" stroke="#ff3b3b" stroke-width="9.0" d="M243.3,1336.1 245.8,1336.1 248.3,1336.1 250.8,1336.1 253.3,1336.1 255.8,1336.1 258.3,1336.1 260.8,1336.1 263.3,1336.1 265.8,1336.1 268.3,1336.1 270.8,1336.1 273.3,1336.1 275.8,1336.1 278.3,1336.1 280.8,1336.1 283.3,1336.1 285.8,1336.1 288.3,1336.1 290.8,1336.1 293.3,1336.1 295.8,1336.1 298.3,1336.1 300.8,1336.1 303.3,1336.1 305.8,1336.1 308.3,1336.1 310.8,1336.1 313.3,1336.0 315.8,1336.0 318.3,1336.0 320.8,1335.9 323.3,1335.6 325.8,1334.7 328.3,1333.0 330.8,1330.7 333.3,1328.0 335.8,1325.1 338.3,1322.0 340.8,1318.9 343.3,1315.6 345.8,1312.0 348.3,1308.2 350.8,1304.2 353.3,1300.2 355.8,1296.2 358.3,1292.1 360.8,1287.9 363.3,1283.9 365.8,1280.0 368.3,1276.5 370.8,1273.4 373.3,1270.8 375.8,1268.8 378.3,1267.5 380.8,1267.1 383.3,1267.6 385.8,1269.0 388.3,1271.5 390.8,1275.0 393.3,1279.4 395.8,1284.3 398.3,1289.4 400.8,1294.2 403.3,1298.1 405.8,1301.0 408.3,1302.8 410.8,1303.5 413.3,1303.0 415.8,1301.2 418.3,1297.8 420.8,1292.9 423.3,1286.2 425.8,1278.1 428.3,1269.0 430.8,1259.0 433.3,1247.9 435.8,1235.5 438.3,1221.7 440.8,1206.2 443.3,1189.7 445.8,1172.9 448.3,1156.2 450.8,1140.3 453.3,1126.2 455.8,1114.3 458.3,1104.2 460.8,1095.6 463.3,1088.5 465.8,1082.5 468.3,1077.4 470.8,1072.9 473.3,1069.0 475.8,1065.5 478.3,1062.7 480.8,1060.5 483.3,1059.0 485.8,1058.2 488.3,1058.2 490.8,1059.2 493.3,1061.3 495.8,1064.5 498.3,1069.4 500.8,1075.6 503.3,1082.5 505.8,1089.9 508.3,1097.3 510.8,1104.4 513.3,1110.7 515.8,1116.3 518.3,1120.7 520.8,1123.9 523.3,1125.9 525.8,1126.7 528.3,1126.1 530.8,1124.0 533.3,1120.5 535.8,1115.5 538.3,1109.4 540.8,1102.8 543.3,1095.9 545.8,1088.9 548.3,1082.0 550.8,1075.4 553.3,1069.2 555.8,1063.7 558.3,1059.2 560.8,1055.8 563.3,1053.5 565.8,1052.4 568.3,1052.6 570.8,1054.2 573.3,1056.8 575.8,1059.6 578.3,1062.1 580.8,1063.8 583.3,1064.5 585.8,1064.1 588.3,1062.5 590.8,1059.9 593.3,1056.4 595.8,1052.3 598.3,1048.0 600.8,1043.8 603.3,1039.8 605.8,1036.2 608.3,1033.6 610.8,1031.8 613.3,1030.8 615.8,1030.4 618.3,1030.8 620.8,1031.8 623.3,1033.7 625.8,1036.5 628.3,1040.0 630.8,1043.8 633.3,1047.7 635.8,1051.5 638.3,1055.1 640.8,1058.2 643.3,1060.7 645.8,1062.7 648.3,1064.0 650.8,1064.4 653.3,1063.8 655.8,1062.2 658.3,1059.9 660.8,1057.0 663.3,1053.6 665.8,1050.0 668.3,1046.5 670.8,1043.0 673.3,1039.5 675.8,1036.0 678.3,1032.4 680.8,1028.7 683.3,1025.0 685.8,1021.2 688.3,1017.5 690.8,1013.9 693.3,1010.6 695.8,1007.9 698.3,1005.9 700.8,1004.9 703.3,1004.7 705.8,1005.8 708.3,1008.3 710.8,1012.4 713.3,1018.1 715.8,1025.0 718.3,1032.2 720.8,1039.2 723.3,1045.6 725.8,1050.9 728.3,1055.3 730.8,1059.1 733.3,1062.6 735.8,1066.1 738.3,1069.7 740.8,1073.3 743.3,1077.4 745.8,1082.1 748.3,1087.6 750.8,1093.9 753.3,1100.5 755.8,1107.3 758.3,1114.3 760.8,1121.3 763.3,1127.9 765.8,1134.1 768.3,1139.7 770.8,1144.8 773.3,1149.4 775.8,1153.4 778.3,1156.8 780.8,1159.9 783.3,1162.9 785.8,1166.1 788.3,1169.5 790.8,1173.1 793.3,1177.3 795.8,1182.5 798.3,1188.9 800.8,1196.3 803.3,1204.4 805.8,1212.8 808.3,1221.5 810.8,1230.3 813.3,1239.1 815.8,1247.5 818.3,1255.5 820.8,1263.2 823.3,1270.2 825.8,1276.6 828.3,1282.3 830.8,1287.5 833.3,1292.0 835.8,1295.9 838.3,1299.4 840.8,1302.4 843.3,1305.1 845.8,1307.5 848.3,1309.5 850.8,1311.2 853.3,1312.7 855.8,1314.1 858.3,1315.2 860.8,1316.2 863.3,1317.1 865.8,1317.9 868.3,1318.5 870.8,1319.1 873.3,1319.7 875.8,1320.1 878.3,1320.5 880.8,1320.9 883.3,1321.2 885.8,1321.4 888.3,1321.5 890.8,1321.4 893.3,1321.2 895.8,1320.8 898.3,1320.3 900.8,1319.8 903.3,1319.1 905.8,1318.3 908.3,1317.5 910.8,1316.6 913.3,1315.6 915.8,1314.7 918.3,1313.8 920.8,1312.9 923.3,1311.9 925.8,1310.9 928.3,1309.8 930.8,1308.5 933.3,1307.0 935.8,1305.4 938.3,1303.5 940.8,1301.4 943.3,1298.9 945.8,1296.1 948.3,1292.7 950.8,1289.0 953.3,1285.2 955.8,1281.1 958.3,1277.0 960.8,1272.6 963.3,1268.0 965.8,1263.2 968.3,1258.2 970.8,1253.0 973.3,1247.5 975.8,1241.9 978.3,1236.3 980.8,1230.8 983.3,1225.3 985.8,1219.9 988.3,1214.4 990.8,1208.8 993.3,1203.0 995.8,1196.9 998.3,1190.6 1000.8,1184.3 1003.3,1178.0 1005.8,1171.7 1008.3,1165.4 1010.8,1159.2 1013.3,1153.1 1015.8,1147.0 1018.3,1141.2 1020.8,1136.0 1023.3,1131.5 1025.8,1127.8 1028.3,1125.1 1030.8,1123.6 1033.3,1123.2 1035.8,1123.9 1038.3,1125.8 1040.8,1128.7 1043.3,1132.5 1045.8,1136.9 1048.3,1141.4 1050.8,1145.8 1053.3,1150.3 1055.8,1154.6 1058.3,1158.6 1060.8,1162.4 1063.3,1166.0 1065.8,1169.4 1068.3,1172.8 1070.8,1176.0 1073.3,1179.3 1075.8,1182.5 1078.3,1185.5 1080.8,1188.2 1083.3,1190.6 1085.8,1192.9 1088.3,1194.9 1090.8,1196.7 1093.3,1198.1 1095.8,1199.1 1098.3,1199.9 1100.8,1200.6 1103.3,1201.0 1105.8,1201.3 1108.3,1201.3 1110.8,1201.1 1113.3,1200.8 1115.8,1200.3 1118.3,1199.8 1120.8,1199.3 1123.3,1198.9 1125.8,1198.9 1128.3,1199.7 1130.8,1201.3 1133.3,1203.8 1135.8,1207.2 1138.3,1211.9 1140.8,1218.1 1143.3,1225.8 1145.8,1234.3 1148.3,1242.9 1150.8,1251.6 1153.3,1260.0 1155.8,1268.1 1158.3,1275.8 1160.8,1282.8 1163.3,1288.9 1165.8,1294.2 1168.3,1298.7 1170.8,1302.5 1173.3,1305.6 1175.8,1308.1 1178.3,1310.1 1180.8,1311.6 1183.3,1312.5 1185.8,1313.1 1188.3,1313.5 1190.8,1313.7 1193.3,1313.8 1195.8,1313.6 1198.3,1312.9 1200.8,1311.7 1203.3,1310.1 1205.8,1308.3 1208.3,1306.3 1210.8,1304.0 1213.3,1301.6 1215.8,1299.2 1218.3,1296.8 1220.8,1294.5 1223.3,1292.4 1225.8,1290.7 1228.3,1289.3 1230.8,1288.2 1233.3,1287.4 1235.8,1286.9 1238.3,1286.9 1240.8,1287.4 1243.3,1288.3 1245.8,1289.5 1248.3,1290.7 1250.8,1291.7 1253.3,1292.4 1255.8,1292.7 1258.3,1292.5 1260.8,1291.3 1263.3,1289.2 1265.8,1286.4 1268.3,1283.3 1270.8,1279.9 1273.3,1276.4 1275.8,1273.0 1278.3,1269.7 1280.8,1266.8 1283.3,1264.3 1285.8,1262.3 1288.3,1260.9 1290.8,1259.9 1293.3,1259.4 1295.8,1259.2 1298.3,1259.4 1300.8,1259.9 1303.3,1260.6 1305.8,1261.3 1308.3,1262.2 1310.8,1263.2 1313.3,1264.3 1315.8,1265.3 1318.3,1266.2 1320.8,1267.1 1323.3,1267.9 1325.8,1268.6 1328.3,1269.1 1330.8,1269.5 1333.3,1269.8 1335.8,1269.9 1338.3,1269.7 1340.8,1269.3 1343.3,1268.7 1345.8,1268.0 1348.3,1267.1 1350.8,1266.1 1353.3,1264.9 1355.8,1263.6 1358.3,1262.0 1360.8,1260.3 1363.3,1258.4 1365.8,1256.3 1368.3,1254.0 1370.8,1251.6 1373.3,1249.2 1375.8,1246.7 1378.3,1244.1 1380.8,1241.6 1383.3,1239.1 1385.8,1236.9 1388.3,1234.7 1390.8,1232.8 1393.3,1231.1 1395.8,1229.7 1398.3,1228.5 1400.8,1227.6 1403.3,1226.9 1405.8,1226.5 1408.3,1226.4 1410.8,1226.3 1413.3,1226.2 1415.8,1226.1 1418.3,1226.0 1420.8,1225.9 1423.3,1225.6 1425.8,1225.2 1428.3,1224.8 1430.8,1224.4 1433.3,1224.2 1435.8,1224.0 1438.3,1224.0 1440.8,1223.8 1443.3,1223.4 1445.8,1222.8 1448.3,1222.0 1450.8,1221.1 1453.3,1220.2 1455.8,1219.3 1458.3,1218.2 1460.8,1217.0 1463.3,1215.7 1465.8,1214.3 1468.3,1212.8 1470.8,1211.2 1473.3,1209.5 1475.8,1208.1 1478.3,1206.9 1480.8,1206.1 1483.3,1205.6 1485.8,1205.3 1488.3,1205.2 1490.8,1205.6 1493.3,1206.3 1495.8,1207.3 1498.3,1208.4 1500.8,1209.7 1503.3,1211.0 1505.8,1212.1 1508.3,1212.9 1510.8,1213.4 1513.3,1213.7 1515.8,1213.6 1518.3,1212.9 1520.8,1211.8 1523.3,1210.3 1525.8,1208.6 1528.3,1206.7 1530.8,1204.8 1533.3,1203.1 1535.8,1201.8 1538.3,1200.8 1540.8,1200.3 1543.3,1200.3 1545.8,1200.5 1548.3,1200.9 1550.8,1201.4 1553.3,1201.8 1555.8,1202.1 1558.3,1202.3 1560.8,1202.1 1563.3,1201.4 1565.8,1200.4 1568.3,1199.2 1570.8,1197.8 1573.3,1196.2 1575.8,1194.7 1578.3,1193.5 1580.8,1192.8 1583.3,1192.3 1585.8,1192.2 1588.3,1192.5 1590.8,1193.2 1593.3,1194.4 1595.8,1195.7 1598.3,1197.2 1600.8,1198.9 1603.3,1200.8 1605.8,1202.7 1608.3,1204.5 1610.8,1206.1 1613.3,1207.6 1615.8,1209.0 1618.3,1210.2 1620.8,1211.2 1623.3,1212.0 1625.8,1212.7 1628.3,1213.2 1630.8,1213.7 1633.3,1213.9 1635.8,1214.0 1638.3,1214.0 1640.8,1214.0 1643.3,1214.0 1645.8,1214.0 1648.3,1214.0 1650.8,1214.0 1653.3,1214.0 1655.8,1214.0 1658.3,1214.0 1660.8,1213.9 1663.3,1213.4 1665.8,1212.4 1668.3,1211.0 1670.8,1209.4 1673.3,1207.6 1675.8,1205.6 1678.3,1203.5 1680.8,1201.6 1683.3,1199.9 1685.8,1198.5 1688.3,1197.4 1690.8,1196.7 1693.3,1196.3 1695.8,1196.3 1698.3,1196.6 1700.8,1197.4 1703.3,1198.3 1705.8,1199.5 1708.3,1201.0 1710.8,1202.7 1713.3,1204.5 1715.8,1206.4 1718.3,1208.5 1720.8,1210.7 1723.3,1213.0 1725.8,1215.4 1728.3,1218.0 1730.8,1220.8 1733.3,1223.7 1735.8,1226.5 1738.3,1229.2 1740.8,1231.6 1743.3,1233.9 1745.8,1236.0 1748.3,1237.9 1750.8,1239.5 1753.3,1240.9 1755.8,1242.2 1758.3,1243.2 1760.8,1243.7 1763.3,1243.9 1765.8,1244.0 1768.3,1243.9 1770.8,1243.7 1773.3,1243.2 1775.8,1242.5 1778.3,1241.7 1780.8,1240.9 1783.3,1240.0 1785.8,1239.2 1788.3,1238.7 1790.8,1238.6 1793.3,1238.6 1795.8,1238.8 1798.3,1239.0 1800.8,1239.5 1803.3,1240.2 1805.8,1241.1 1808.3,1242.2 1810.8,1243.4 1813.3,1244.6 1815.8,1245.9 1818.3,1247.3 1820.8,1248.6 1823.3,1249.9 1825.8,1251.1 1828.3,1252.3 1830.8,1253.5 1833.3,1254.7 1835.8,1255.7 1838.3,1256.7 1840.8,1257.7 1843.3,1258.7 1845.8,1259.7 1848.3,1260.7 1850.8,1261.8 1853.3,1262.9 1855.8,1264.0 1858.3,1265.3 1860.8,1266.6 1863.3,1268.2 1865.8,1270.1 1868.3,1272.3 1870.8,1274.9 1873.3,1277.5 1875.8,1280.2 1878.3,1282.7 1880.8,1285.1 1883.3,1287.3 1885.8,1289.4 1888.3,1291.4 1890.8,1293.5 1893.3,1295.4 1895.8,1297.4 1898.3,1299.3 1900.8,1301.2 1903.3,1303.0 1905.8,1304.8 1908.3,1306.5 1910.8,1308.2 1913.3,1309.8 1915.8,1311.3 1918.3,1312.8 1920.8,1314.3 1923.3,1315.6 1925.8,1316.9 1928.3,1318.1 1930.8,1319.2 1933.3,1320.3 1935.8,1321.3 1938.3,1322.2 1940.8,1323.0 1943.3,1323.8 1945.8,1324.4 1948.3,1325.1 1950.8,1325.7 1953.3,1326.3 1955.8,1326.8 1958.3,1327.3 1960.8,1327.9 1963.3,1328.4 1965.8,1328.8 1968.3,1329.3 1970.8,1329.7 1973.3,1330.2 1975.8,1330.6 1978.3,1331.0 1980.8,1331.5 1983.3,1331.9 1985.8,1332.3 1988.3,1332.8 1990.8,1333.4 1993.3,1333.9 1995.8,1334.4 1998.3,1334.9 2000.8,1335.3 2003.3,1335.7 2005.8,1335.9 2008.3,1336.0 2010.8,1336.1 2013.3,1336.1 2015.8,1336.1 2018.3,1336.1 2020.8,1336.1 2023.3,1336.1 2025.8,1336.1 2028.3,1336.1 2030.8,1336.1 2033.3,1336.1 2035.8,1336.1 2038.3,1336.1 2040.8,1336.1 2043.3,1336.1 2045.8,1336.1 2048.3,1336.1 2050.8,1336.1"/>
<path class="c" stroke="#0066e6" stroke-width="9.0" d="M243.3,1336.1 245.8,1336.1 248.3,1336.1 250.8,1336.1 253.3,1336.1 255.8,1336.1 258.3,1336.1 260.8,1336.1 263.3,1336.1 265.8,1336.1 268.3,1336.1 270.8,1336.1 273.3,1336.1 275.8,1336.1 278.3,1336.1 280.8,1336.1 283.3,1336.1 285.8,1336.1 288.3,1336.1 290.8,1336.1 293.3,1336.1 295.8,1336.1 298.3,1336.1 300.8,1336.1 303.3,1336.1 305.8,1336.1 308.3,1336.1 310.8,1336.1 313.3,1336.1 315.8,1336.1 318.3,1336.1 320.8,1336.1 323.3,1336.1 325.8,1336.1 328.3,1336.1 330.8,1336.1 333.3,1336.0 335.8,1336.0 338.3,1336.0 340.8,1336.0 343.3,1335.8 345.8,1335.4 348.3,1334.6 350.8,1333.6 353.3,1332.4 355.8,1331.1 358.3,1329.8 360.8,1328.6 363.3,1327.2 365.8,1325.8 368.3,1324.5 370.8,1323.3 373.3,1322.3 375.8,1321.4 378.3,1320.7 380.8,1320.3 383.3,1320.4 385.8,1320.9 388.3,1321.9 390.8,1323.1 393.3,1324.5 395.8,1326.0 398.3,1327.6 400.8,1329.0 403.3,1330.2 405.8,1331.1 408.3,1331.8 410.8,1332.2 413.3,1332.1 415.8,1331.5 418.3,1330.3 420.8,1328.6 423.3,1326.3 425.8,1323.3 428.3,1319.6 430.8,1315.4 433.3,1311.1 435.8,1306.8 438.3,1302.3 440.8,1297.7 443.3,1293.1 445.8,1288.5 448.3,1283.9 450.8,1279.3 453.3,1274.8 455.8,1270.4 458.3,1266.3 460.8,1262.4 463.3,1258.6 465.8,1255.1 468.3,1252.0 470.8,1249.4 473.3,1247.1 475.8,1245.2 478.3,1243.5 480.8,1242.2 483.3,1241.2 485.8,1240.5 488.3,1240.4 490.8,1240.9 493.3,1241.8 495.8,1243.2 498.3,1245.1 500.8,1247.4 503.3,1249.8 505.8,1252.2 508.3,1254.5 510.8,1256.6 513.3,1258.6 515.8,1260.4 518.3,1261.9 520.8,1263.2 523.3,1264.1 525.8,1264.4 528.3,1263.7 530.8,1262.2 533.3,1260.1 535.8,1257.7 538.3,1254.9 540.8,1252.0 543.3,1249.1 545.8,1246.1 548.3,1243.3 550.8,1240.7 553.3,1238.6 555.8,1236.8 558.3,1235.3 560.8,1234.2 563.3,1233.4 565.8,1232.9 568.3,1232.7 570.8,1232.9 573.3,1233.2 575.8,1233.5 578.3,1233.8 580.8,1233.8 583.3,1233.4 585.8,1232.2 588.3,1230.4 590.8,1228.1 593.3,1225.5 595.8,1222.6 598.3,1219.6 600.8,1216.4 603.3,1213.2 605.8,1210.0 608.3,1207.0 610.8,1204.4 613.3,1202.2 615.8,1200.2 618.3,1198.6 620.8,1197.2 623.3,1196.2 625.8,1195.5 628.3,1195.4 630.8,1195.9 633.3,1196.8 635.8,1198.0 638.3,1199.5 640.8,1201.2 643.3,1202.9 645.8,1204.4 648.3,1205.8 650.8,1207.0 653.3,1207.9 655.8,1208.5 658.3,1208.8 660.8,1208.9 663.3,1208.7 665.8,1208.1 668.3,1207.2 670.8,1206.0 673.3,1204.6 675.8,1203.0 678.3,1201.2 680.8,1199.3 683.3,1197.1 685.8,1194.8 688.3,1192.5 690.8,1190.3 693.3,1188.1 695.8,1186.1 698.3,1184.6 700.8,1183.5 703.3,1183.0 705.8,1183.2 708.3,1184.3 710.8,1186.3 713.3,1189.2 715.8,1192.9 718.3,1197.1 720.8,1201.2 723.3,1205.2 725.8,1209.0 728.3,1212.6 730.8,1215.9 733.3,1218.8 735.8,1221.5 738.3,1223.6 740.8,1225.2 743.3,1226.3 745.8,1226.9 748.3,1226.6 750.8,1224.9 753.3,1222.0 755.8,1217.8 758.3,1212.2 760.8,1204.9 763.3,1195.9 765.8,1185.2 768.3,1173.4 770.8,1161.3 773.3,1149.3 775.8,1137.8 778.3,1127.0 780.8,1117.1 783.3,1108.3 785.8,1101.2 788.3,1095.8 790.8,1092.1 793.3,1090.3 795.8,1089.9 798.3,1091.4 800.8,1094.9 803.3,1100.8 805.8,1109.0 808.3,1118.8 810.8,1129.9 813.3,1141.8 815.8,1154.0 818.3,1166.5 820.8,1179.1 823.3,1191.6 825.8,1203.8 828.3,1215.7 830.8,1227.2 833.3,1237.8 835.8,1247.4 838.3,1256.0 840.8,1263.7 843.3,1270.5 845.8,1276.5 848.3,1281.7 850.8,1286.3 853.3,1290.0 855.8,1293.0 858.3,1295.5 860.8,1297.5 863.3,1299.1 865.8,1300.3 868.3,1301.1 870.8,1301.6 873.3,1302.0 875.8,1302.2 878.3,1302.4 880.8,1302.3 883.3,1301.9 885.8,1301.0 888.3,1299.9 890.8,1298.5 893.3,1296.9 895.8,1295.3 898.3,1293.6 900.8,1291.9 903.3,1290.0 905.8,1287.9 908.3,1285.8 910.8,1283.8 913.3,1282.2 915.8,1280.7 918.3,1279.4 920.8,1278.2 923.3,1276.9 925.8,1275.5 928.3,1273.9 930.8,1272.2 933.3,1270.3 935.8,1268.0 938.3,1265.4 940.8,1262.3 943.3,1258.7 945.8,1254.6 948.3,1249.8 950.8,1244.3 953.3,1237.9 955.8,1230.7 958.3,1222.6 960.8,1213.2 963.3,1202.5 965.8,1190.6 968.3,1177.8 970.8,1163.8 973.3,1148.8 975.8,1133.5 978.3,1118.6 980.8,1104.1 983.3,1090.1 985.8,1076.7 988.3,1063.9 990.8,1051.8 993.3,1040.3 995.8,1029.4 998.3,1019.0 1000.8,1009.1 1003.3,999.7 1005.8,990.8 1008.3,982.4 1010.8,974.5 1013.3,967.0 1015.8,960.1 1018.3,953.7 1020.8,948.5 1023.3,945.2 1025.8,943.6 1028.3,943.8 1030.8,946.0 1033.3,950.6 1035.8,958.0 1038.3,968.0 1040.8,980.5 1043.3,994.7 1045.8,1009.2 1048.3,1023.1 1050.8,1036.1 1053.3,1048.0 1055.8,1058.8 1058.3,1068.5 1060.8,1077.3 1063.3,1085.3 1065.8,1092.8 1068.3,1100.1 1070.8,1107.6 1073.3,1115.3 1075.8,1123.0 1078.3,1130.1 1080.8,1136.6 1083.3,1142.3 1085.8,1147.4 1088.3,1152.0 1090.8,1156.0 1093.3,1159.7 1095.8,1162.9 1098.3,1165.7 1100.8,1168.0 1103.3,1170.1 1105.8,1171.8 1108.3,1173.1 1110.8,1174.1 1113.3,1174.9 1115.8,1175.4 1118.3,1175.8 1120.8,1175.9 1123.3,1175.8 1125.8,1175.7 1128.3,1176.0 1130.8,1177.0 1133.3,1178.8 1135.8,1181.7 1138.3,1185.8 1140.8,1191.2 1143.3,1197.8 1145.8,1205.4 1148.3,1214.0 1150.8,1223.4 1153.3,1233.2 1155.8,1243.1 1158.3,1252.5 1160.8,1261.3 1163.3,1269.5 1165.8,1277.2 1168.3,1284.4 1170.8,1290.7 1173.3,1296.0 1175.8,1300.3 1178.3,1303.8 1180.8,1306.5 1183.3,1308.7 1185.8,1310.4 1188.3,1311.7 1190.8,1312.6 1193.3,1313.2 1195.8,1313.6 1198.3,1313.8 1200.8,1313.9 1203.3,1313.7 1205.8,1313.3 1208.3,1312.8 1210.8,1312.2 1213.3,1311.3 1215.8,1310.3 1218.3,1309.2 1220.8,1308.2 1223.3,1307.1 1225.8,1306.1 1228.3,1305.3 1230.8,1304.7 1233.3,1304.3 1235.8,1304.5 1238.3,1305.2 1240.8,1306.6 1243.3,1308.4 1245.8,1310.7 1248.3,1313.2 1250.8,1315.5 1253.3,1317.5 1255.8,1319.2 1258.3,1320.6 1260.8,1321.7 1263.3,1322.5 1265.8,1323.2 1268.3,1323.7 1270.8,1324.0 1273.3,1324.3 1275.8,1324.6 1278.3,1324.7 1280.8,1324.9 1283.3,1325.0 1285.8,1325.0 1288.3,1325.0 1290.8,1325.0 1293.3,1325.0 1295.8,1325.0 1298.3,1325.0 1300.8,1325.0 1303.3,1325.1 1305.8,1325.2 1308.3,1325.3 1310.8,1325.5 1313.3,1325.7 1315.8,1325.9 1318.3,1326.1 1320.8,1326.2 1323.3,1326.4 1325.8,1326.5 1328.3,1326.7 1330.8,1326.8 1333.3,1326.9 1335.8,1327.1 1338.3,1327.2 1340.8,1327.3 1343.3,1327.4 1345.8,1327.4 1348.3,1327.5 1350.8,1327.5 1353.3,1327.4 1355.8,1327.3 1358.3,1327.2 1360.8,1327.1 1363.3,1326.9 1365.8,1326.7 1368.3,1326.5 1370.8,1326.3 1373.3,1326.1 1375.8,1325.9 1378.3,1325.7 1380.8,1325.5 1383.3,1325.3 1385.8,1325.0 1388.3,1324.8 1390.8,1324.7 1393.3,1324.6 1395.8,1324.5 1398.3,1324.5 1400.8,1324.6 1403.3,1324.6 1405.8,1324.7 1408.3,1324.8 1410.8,1324.9 1413.3,1324.9 1415.8,1325.0 1418.3,1325.1 1420.8,1325.2 1423.3,1325.3 1425.8,1325.4 1428.3,1325.5 1430.8,1325.6 1433.3,1325.7 1435.8,1325.8 1438.3,1325.9 1440.8,1326.1 1443.3,1326.2 1445.8,1326.4 1448.3,1326.4 1450.8,1326.5 1453.3,1326.4 1455.8,1326.4 1458.3,1326.3 1460.8,1326.2 1463.3,1326.0 1465.8,1325.9 1468.3,1325.8 1470.8,1325.7 1473.3,1325.6 1475.8,1325.5 1478.3,1325.5 1480.8,1325.5 1483.3,1325.6 1485.8,1325.6 1488.3,1325.7 1490.8,1325.8 1493.3,1326.0 1495.8,1326.1 1498.3,1326.2 1500.8,1326.3 1503.3,1326.4 1505.8,1326.5 1508.3,1326.5 1510.8,1326.5 1513.3,1326.4 1515.8,1326.4 1518.3,1326.3 1520.8,1326.2 1523.3,1326.0 1525.8,1325.9 1528.3,1325.8 1530.8,1325.7 1533.3,1325.6 1535.8,1325.5 1538.3,1325.5 1540.8,1325.5 1543.3,1325.5 1545.8,1325.5 1548.3,1325.5 1550.8,1325.5 1553.3,1325.5 1555.8,1325.5 1558.3,1325.5 1560.8,1325.5 1563.3,1325.5 1565.8,1325.5 1568.3,1325.6 1570.8,1325.6 1573.3,1325.7 1575.8,1325.8 1578.3,1325.9 1580.8,1326.1 1583.3,1326.2 1585.8,1326.3 1588.3,1326.5 1590.8,1326.6 1593.3,1326.8 1595.8,1327.0 1598.3,1327.2 1600.8,1327.4 1603.3,1327.7 1605.8,1327.9 1608.3,1328.1 1610.8,1328.4 1613.3,1328.6 1615.8,1328.8 1618.3,1328.9 1620.8,1329.1 1623.3,1329.3 1625.8,1329.4 1628.3,1329.6 1630.8,1329.7 1633.3,1329.8 1635.8,1330.0 1638.3,1330.1 1640.8,1330.2 1643.3,1330.3 1645.8,1330.4 1648.3,1330.5 1650.8,1330.5 1653.3,1330.6 1655.8,1330.7 1658.3,1330.7 1660.8,1330.8 1663.3,1330.9 1665.8,1330.9 1668.3,1331.0 1670.8,1331.0 1673.3,1331.0 1675.8,1331.1 1678.3,1331.1 1680.8,1331.2 1683.3,1331.2 1685.8,1331.3 1688.3,1331.3 1690.8,1331.3 1693.3,1331.4 1695.8,1331.4 1698.3,1331.5 1700.8,1331.5 1703.3,1331.6 1705.8,1331.6 1708.3,1331.7 1710.8,1331.7 1713.3,1331.8 1715.8,1331.8 1718.3,1331.9 1720.8,1331.9 1723.3,1332.0 1725.8,1332.0 1728.3,1332.1 1730.8,1332.1 1733.3,1332.2 1735.8,1332.2 1738.3,1332.3 1740.8,1332.3 1743.3,1332.4 1745.8,1332.4 1748.3,1332.5 1750.8,1332.5 1753.3,1332.6 1755.8,1332.6 1758.3,1332.7 1760.8,1332.7 1763.3,1332.8 1765.8,1332.8 1768.3,1332.9 1770.8,1332.9 1773.3,1333.0 1775.8,1333.0 1778.3,1333.1 1780.8,1333.1 1783.3,1333.2 1785.8,1333.2 1788.3,1333.3 1790.8,1333.3 1793.3,1333.4 1795.8,1333.4 1798.3,1333.5 1800.8,1333.5 1803.3,1333.6 1805.8,1333.6 1808.3,1333.7 1810.8,1333.7 1813.3,1333.8 1815.8,1333.8 1818.3,1333.9 1820.8,1333.9 1823.3,1334.0 1825.8,1334.0 1828.3,1334.1 1830.8,1334.1 1833.3,1334.2 1835.8,1334.2 1838.3,1334.3 1840.8,1334.3 1843.3,1334.4 1845.8,1334.4 1848.3,1334.5 1850.8,1334.5 1853.3,1334.6 1855.8,1334.7 1858.3,1334.7 1860.8,1334.8 1863.3,1334.9 1865.8,1335.0 1868.3,1335.0 1870.8,1335.1 1873.3,1335.2 1875.8,1335.3 1878.3,1335.3 1880.8,1335.4 1883.3,1335.5 1885.8,1335.6 1888.3,1335.7 1890.8,1335.7 1893.3,1335.8 1895.8,1335.9 1898.3,1336.0 1900.8,1336.1 1903.3,1336.1 1905.8,1336.2 1908.3,1336.3 1910.8,1336.4 1913.3,1336.5 1915.8,1336.6 1918.3,1336.7 1920.8,1336.8 1923.3,1336.9 1925.8,1337.0 1928.3,1337.1 1930.8,1337.2 1933.3,1337.2 1935.8,1337.3 1938.3,1337.4 1940.8,1337.4 1943.3,1337.5 1945.8,1337.5 1948.3,1337.5 1950.8,1337.4 1953.3,1337.4 1955.8,1337.2 1958.3,1337.0 1960.8,1336.8 1963.3,1336.6 1965.8,1336.5 1968.3,1336.3 1970.8,1336.2 1973.3,1336.1 1975.8,1336.1 1978.3,1336.1 1980.8,1336.1 1983.3,1336.1 1985.8,1336.1 1988.3,1336.1 1990.8,1336.1 1993.3,1336.1 1995.8,1336.1 1998.3,1336.1 2000.8,1336.1 2003.3,1336.1 2005.8,1336.1 2008.3,1336.1 2010.8,1336.1 2013.3,1336.1 2015.8,1336.1 2018.3,1336.1 2020.8,1336.1 2023.3,1336.1 2025.8,1336.1 2028.3,1336.1 2030.8,1336.1 2033.3,1336.1 2035.8,1336.1 2038.3,1336.1 2040.8,1336.1 2043.3,1336.1 2045.8,1336.1 2048.3,1336.1 2050.8,1336.1"/>
<path class="c" stroke="#00bf84" stroke-width="9.0" d="M243.3,1336.1 245.8,1336.1 248.3,1336.1 250.8,1336.1 253.3,1336.1 255.8,1336.1 258.3,1336.1 260.8,1336.1 263.3,1336.1 265.8,1336.1 268.3,1336.1 270.8,1336.1 273.3,1336.1 275.8,1336.1 278.3,1336.1 280.8,1336.1 283.3,1336.1 285.8,1336.1 288.3,1336.1 290.8,1336.1 293.3,1336.0 295.8,1336.0 298.3,1336.0 300.8,1336.0 303.3,1335.8 305.8,1335.3 308.3,1334.5 310.8,1333.4 313.3,1332.0 315.8,1330.4 318.3,1328.6 320.8,1326.7 323.3,1324.6 325.8,1322.0 328.3,1319.1 330.8,1315.9 333.3,1312.4 335.8,1308.5 338.3,1304.2 340.8,1299.3 343.3,1294.1 345.8,1288.7 348.3,1283.1 350.8,1277.3 353.3,1271.3 355.8,1265.2 358.3,1259.1 360.8,1253.0 363.3,1247.0 365.8,1241.2 368.3,1236.0 370.8,1231.7 373.3,1228.2 375.8,1225.7 378.3,1224.0 380.8,1223.2 383.3,1223.4 385.8,1225.0 388.3,1228.2 390.8,1233.3 393.3,1240.0 395.8,1247.8 398.3,1256.1 400.8,1264.3 403.3,1271.8 405.8,1278.1 408.3,1283.0 410.8,1286.1 413.3,1287.2 415.8,1286.1 418.3,1283.0 420.8,1278.4 423.3,1272.3 425.8,1264.7 428.3,1255.3 430.8,1243.7 433.3,1229.8 435.8,1213.2 438.3,1193.4 440.8,1170.8 443.3,1147.5 445.8,1125.4 448.3,1104.6 450.8,1084.7 453.3,1065.4 455.8,1046.3 458.3,1027.9 460.8,1010.8 463.3,995.7 465.8,982.7 468.3,972.0 470.8,963.9 473.3,957.9 475.8,953.4 478.3,950.2 480.8,948.0 483.3,946.5 485.8,945.7 488.3,945.8 490.8,947.2 493.3,950.0 495.8,954.7 498.3,961.4 500.8,969.6 503.3,978.7 505.8,988.4 508.3,998.3 510.8,1007.7 513.3,1016.7 515.8,1024.6 518.3,1031.1 520.8,1035.8 523.3,1038.4 525.8,1038.9 528.3,1037.2 530.8,1033.5 533.3,1027.8 535.8,1020.2 538.3,1010.2 540.8,998.0 543.3,984.6 545.8,971.4 548.3,958.9 550.8,947.6 553.3,937.5 555.8,928.8 558.3,922.0 560.8,917.4 563.3,914.8 565.8,913.9 568.3,914.5 570.8,916.2 573.3,918.8 575.8,921.6 578.3,923.8 580.8,924.7 583.3,924.6 585.8,923.3 588.3,920.0 590.8,914.8 593.3,908.1 595.8,900.5 598.3,892.9 600.8,885.8 603.3,879.3 605.8,873.7 608.3,868.8 610.8,865.0 613.3,862.4 615.8,861.0 618.3,860.9 620.8,862.2 623.3,864.8 625.8,868.6 628.3,873.7 630.8,879.6 633.3,885.8 635.8,892.2 638.3,898.3 640.8,904.0 643.3,909.0 645.8,913.2 648.3,916.3 650.8,918.3 653.3,919.2 655.8,918.8 658.3,917.3 660.8,914.9 663.3,911.6 665.8,907.6 668.3,903.2 670.8,898.5 673.3,893.7 675.8,888.7 678.3,883.5 680.8,878.1 683.3,872.5 685.8,866.8 688.3,861.2 690.8,855.9 693.3,851.0 695.8,846.8 698.3,843.7 700.8,841.7 703.3,841.0 705.8,842.1 708.3,845.2 710.8,850.8 713.3,858.9 715.8,869.0 718.3,880.2 720.8,891.8 723.3,903.2 725.8,913.8 728.3,923.4 730.8,931.8 733.3,939.1 735.8,945.4 738.3,951.2 740.8,956.5 743.3,961.4 745.8,965.9 748.3,969.9 750.8,973.4 753.3,976.5 755.8,978.6 758.3,979.6 760.8,979.7 763.3,978.9 765.8,976.7 768.3,972.8 770.8,967.0 773.3,959.4 775.8,950.7 778.3,941.8 780.8,933.4 783.3,926.3 785.8,921.0 788.3,917.6 790.8,916.2 793.3,917.0 795.8,920.4 798.3,927.1 800.8,937.5 803.3,951.2 805.8,967.8 808.3,986.7 810.8,1007.0 813.3,1028.2 815.8,1050.0 818.3,1072.0 820.8,1094.0 823.3,1115.4 825.8,1135.8 828.3,1155.1 830.8,1173.0 833.3,1189.2 835.8,1203.8 838.3,1216.5 840.8,1227.2 843.3,1236.2 845.8,1243.9 848.3,1250.6 850.8,1256.5 853.3,1261.7 855.8,1266.3 858.3,1270.1 860.8,1272.9 863.3,1275.1 865.8,1276.9 868.3,1278.2 870.8,1279.1 873.3,1279.9 875.8,1280.4 878.3,1280.8 880.8,1280.7 883.3,1280.3 885.8,1279.5 888.3,1278.2 890.8,1276.0 893.3,1272.6 895.8,1268.2 898.3,1263.6 900.8,1259.1 903.3,1254.6 905.8,1250.4 908.3,1246.5 910.8,1243.0 913.3,1239.8 915.8,1236.9 918.3,1234.5 920.8,1232.4 923.3,1230.6 925.8,1228.7 928.3,1226.7 930.8,1224.6 933.3,1222.1 935.8,1219.3 938.3,1216.0 940.8,1211.9 943.3,1207.1 945.8,1201.5 948.3,1195.2 950.8,1188.0 953.3,1179.8 955.8,1170.4 958.3,1159.7 960.8,1147.4 963.3,1132.7 965.8,1115.2 968.3,1095.8 970.8,1075.7 973.3,1055.6 975.8,1035.4 978.3,1015.3 980.8,995.8 983.3,977.0 985.8,959.0 988.3,941.6 990.8,924.9 993.3,909.0 995.8,893.8 998.3,878.9 1000.8,864.2 1003.3,849.6 1005.8,835.1 1008.3,820.0 1010.8,803.3 1013.3,784.4 1015.8,764.5 1018.3,746.3 1020.8,732.1 1023.3,722.5 1025.8,717.1 1028.3,714.8 1030.8,715.1 1033.3,718.1 1035.8,723.9 1038.3,733.0 1040.8,744.9 1043.3,758.8 1045.8,774.2 1048.3,790.4 1050.8,807.0 1053.3,823.6 1055.8,839.7 1058.3,855.1 1060.8,870.0 1063.3,884.2 1065.8,897.9 1068.3,911.1 1070.8,923.7 1073.3,935.7 1075.8,947.3 1078.3,958.3 1080.8,968.8 1083.3,978.4 1085.8,987.0 1088.3,994.4 1090.8,1000.8 1093.3,1006.3 1095.8,1011.0 1098.3,1014.9 1100.8,1018.2 1103.3,1020.8 1105.8,1022.8 1108.3,1023.9 1110.8,1024.5 1113.3,1024.8 1115.8,1024.6 1118.3,1024.0 1120.8,1023.2 1123.3,1022.5 1125.8,1022.3 1128.3,1022.8 1130.8,1024.4 1133.3,1027.5 1135.8,1032.5 1138.3,1039.7 1140.8,1048.8 1143.3,1059.4 1145.8,1071.7 1148.3,1085.7 1150.8,1101.4 1153.3,1118.3 1155.8,1135.4 1158.3,1152.4 1160.8,1168.8 1163.3,1184.1 1165.8,1198.3 1168.3,1211.3 1170.8,1223.2 1173.3,1234.0 1175.8,1243.6 1178.3,1251.7 1180.8,1258.5 1183.3,1263.9 1185.8,1268.2 1188.3,1271.3 1190.8,1273.6 1193.3,1274.9 1195.8,1275.6 1198.3,1275.5 1200.8,1274.8 1203.3,1273.4 1205.8,1271.1 1208.3,1267.7 1210.8,1263.2 1213.3,1257.7 1215.8,1251.4 1218.3,1244.7 1220.8,1238.1 1223.3,1231.8 1225.8,1226.3 1228.3,1221.8 1230.8,1218.6 1233.3,1216.6 1235.8,1215.8 1238.3,1216.6 1240.8,1218.8 1243.3,1222.3 1245.8,1226.7 1248.3,1231.6 1250.8,1236.4 1253.3,1240.9 1255.8,1244.6 1258.3,1247.2 1260.8,1248.8 1263.3,1249.3 1265.8,1248.5 1268.3,1246.5 1270.8,1243.6 1273.3,1239.8 1275.8,1235.5 1278.3,1231.0 1280.8,1226.6 1283.3,1222.7 1285.8,1219.7 1288.3,1217.5 1290.8,1216.0 1293.3,1214.9 1295.8,1214.4 1298.3,1214.5 1300.8,1215.3 1303.3,1216.5 1305.8,1218.1 1308.3,1219.8 1310.8,1221.7 1313.3,1223.7 1315.8,1225.7 1318.3,1227.7 1320.8,1229.7 1323.3,1231.4 1325.8,1232.7 1328.3,1233.6 1330.8,1234.3 1333.3,1234.7 1335.8,1234.7 1338.3,1234.3 1340.8,1233.4 1343.3,1232.3 1345.8,1230.8 1348.3,1229.0 1350.8,1226.8 1353.3,1224.2 1355.8,1221.3 1358.3,1218.0 1360.8,1214.2 1363.3,1210.2 1365.8,1206.1 1368.3,1201.8 1370.8,1197.5 1373.3,1193.0 1375.8,1188.5 1378.3,1184.0 1380.8,1179.5 1383.3,1175.3 1385.8,1171.6 1388.3,1168.3 1390.8,1165.7 1393.3,1163.9 1395.8,1162.7 1398.3,1161.9 1400.8,1161.6 1403.3,1161.5 1405.8,1161.5 1408.3,1161.5 1410.8,1161.6 1413.3,1161.8 1415.8,1162.2 1418.3,1162.6 1420.8,1163.0 1423.3,1163.3 1425.8,1163.4 1428.3,1163.4 1430.8,1163.4 1433.3,1163.3 1435.8,1163.2 1438.3,1163.1 1440.8,1162.9 1443.3,1162.7 1445.8,1162.4 1448.3,1162.1 1450.8,1161.9 1453.3,1161.7 1455.8,1161.6 1458.3,1161.4 1460.8,1161.3 1463.3,1161.0 1465.8,1160.6 1468.3,1160.0 1470.8,1159.2 1473.3,1158.5 1475.8,1157.7 1478.3,1157.1 1480.8,1156.4 1483.3,1156.0 1485.8,1155.8 1488.3,1156.0 1490.8,1156.7 1493.3,1157.6 1495.8,1158.7 1498.3,1159.7 1500.8,1160.7 1503.3,1161.6 1505.8,1162.2 1508.3,1162.6 1510.8,1162.8 1513.3,1162.6 1515.8,1161.7 1518.3,1160.1 1520.8,1158.0 1523.3,1155.5 1525.8,1152.7 1528.3,1149.9 1530.8,1147.3 1533.3,1145.0 1535.8,1143.2 1538.3,1141.9 1540.8,1141.1 1543.3,1140.9 1545.8,1141.4 1548.3,1142.4 1550.8,1143.7 1553.3,1145.0 1555.8,1146.4 1558.3,1147.6 1560.8,1148.6 1563.3,1149.3 1565.8,1149.7 1568.3,1149.9 1570.8,1149.8 1573.3,1149.6 1575.8,1149.3 1578.3,1149.2 1580.8,1149.4 1583.3,1150.0 1585.8,1150.9 1588.3,1152.2 1590.8,1154.0 1593.3,1156.1 1595.8,1158.4 1598.3,1160.6 1600.8,1162.8 1603.3,1164.9 1605.8,1166.9 1608.3,1168.7 1610.8,1170.4 1613.3,1172.0 1615.8,1173.4 1618.3,1174.6 1620.8,1175.6 1623.3,1176.5 1625.8,1177.3 1628.3,1178.1 1630.8,1178.8 1633.3,1179.5 1635.8,1180.2 1638.3,1180.9 1640.8,1181.6 1643.3,1182.3 1645.8,1183.2 1648.3,1184.1 1650.8,1184.9 1653.3,1185.7 1655.8,1186.4 1658.3,1187.0 1660.8,1187.2 1663.3,1186.8 1665.8,1185.8 1668.3,1184.3 1670.8,1182.5 1673.3,1180.4 1675.8,1178.0 1678.3,1175.7 1680.8,1173.4 1683.3,1171.3 1685.8,1169.7 1688.3,1168.6 1690.8,1168.0 1693.3,1167.7 1695.8,1167.8 1698.3,1168.2 1700.8,1168.9 1703.3,1169.8 1705.8,1170.9 1708.3,1172.2 1710.8,1173.8 1713.3,1175.6 1715.8,1177.6 1718.3,1179.9 1720.8,1182.5 1723.3,1185.3 1725.8,1188.4 1728.3,1191.8 1730.8,1195.4 1733.3,1199.0 1735.8,1202.7 1738.3,1206.3 1740.8,1209.8 1743.3,1213.0 1745.8,1215.8 1748.3,1218.3 1750.8,1220.3 1753.3,1221.9 1755.8,1223.1 1758.3,1223.9 1760.8,1224.5 1763.3,1224.8 1765.8,1224.7 1768.3,1224.2 1770.8,1223.5 1773.3,1222.7 1775.8,1221.8 1778.3,1220.8 1780.8,1219.9 1783.3,1219.3 1785.8,1218.9 1788.3,1218.7 1790.8,1218.6 1793.3,1218.6 1795.8,1218.8 1798.3,1219.3 1800.8,1220.0 1803.3,1220.8 1805.8,1221.7 1808.3,1222.7 1810.8,1223.7 1813.3,1224.9 1815.8,1226.2 1818.3,1227.6 1820.8,1229.1 1823.3,1230.6 1825.8,1232.2 1828.3,1233.5 1830.8,1234.7 1833.3,1235.8 1835.8,1236.7 1838.3,1237.7 1840.8,1238.7 1843.3,1239.7 1845.8,1240.9 1848.3,1242.3 1850.8,1243.7 1853.3,1245.3 1855.8,1247.1 1858.3,1249.1 1860.8,1251.4 1863.3,1253.9 1865.8,1256.5 1868.3,1259.3 1870.8,1262.1 1873.3,1265.1 1875.8,1268.2 1878.3,1271.2 1880.8,1274.1 1883.3,1276.9 1885.8,1279.5 1888.3,1282.0 1890.8,1284.5 1893.3,1286.8 1895.8,1289.1 1898.3,1291.2 1900.8,1293.3 1903.3,1295.4 1905.8,1297.4 1908.3,1299.5 1910.8,1301.6 1913.3,1303.7 1915.8,1305.9 1918.3,1308.0 1920.8,1310.1 1923.3,1311.9 1925.8,1313.6 1928.3,1315.2 1930.8,1316.7 1933.3,1318.0 1935.8,1319.4 1938.3,1320.6 1940.8,1321.9 1943.3,1323.1 1945.8,1324.2 1948.3,1325.3 1950.8,1326.3 1953.3,1327.2 1955.8,1328.0 1958.3,1328.8 1960.8,1329.5 1963.3,1330.2 1965.8,1330.8 1968.3,1331.3 1970.8,1331.9 1973.3,1332.4 1975.8,1332.8 1978.3,1333.3 1980.8,1333.8 1983.3,1334.2 1985.8,1334.7 1988.3,1335.1 1990.8,1335.4 1993.3,1335.7 1995.8,1335.8 1998.3,1336.0 2000.8,1336.0 2003.3,1336.0 2005.8,1336.0 2008.3,1336.0 2010.8,1336.1 2013.3,1336.1 2015.8,1336.1 2018.3,1336.1 2020.8,1336.1 2023.3,1336.1 2025.8,1336.1 2028.3,1336.1 2030.8,1336.1 2033.3,1336.1 2035.8,1336.1 2038.3,1336.1 2040.8,1336.1 2043.3,1336.1 2045.8,1336.1 2048.3,1336.1 2050.8,1336.1"/>
</g>
<g clip-path="url(#cp2)">
<path class="c" stroke="#4d4d4d" stroke-width="9.0" d="M243.3,1986.6 245.8,1986.6 248.3,1986.6 250.8,1986.6 253.3,1986.6 255.8,1986.6 258.3,1986.6 260.8,1986.6 263.3,1986.6 265.8,1986.6 268.3,1986.6 270.8,1986.6 273.3,1986.6 275.8,1986.6 278.3,1986.6 280.8,1986.6 283.3,1986.6 285.8,1986.6 288.3,1986.6 290.8,1986.6 293.3,1986.6 295.8,1986.6 298.3,1986.6 300.8,1986.6 303.3,1986.6 305.8,1986.6 308.3,1986.6 310.8,1986.6 313.3,1986.6 315.8,1986.6 318.3,1986.6 320.8,1986.6 323.3,1986.5 325.8,1986.5 328.3,1986.2 330.8,1985.4 333.3,1984.0 335.8,1982.2 338.3,1980.0 340.8,1977.6 343.3,1975.1 345.8,1972.7 348.3,1970.0 350.8,1967.2 353.3,1964.2 355.8,1961.2 358.3,1958.1 360.8,1955.0 363.3,1951.9 365.8,1948.8 368.3,1945.8 370.8,1942.9 373.3,1940.2 375.8,1937.8 378.3,1935.6 380.8,1933.8 383.3,1932.6 385.8,1931.7 388.3,1931.4 390.8,1931.8 393.3,1933.0 395.8,1934.8 398.3,1937.5 400.8,1941.0 403.3,1944.8 405.8,1948.6 408.3,1952.4 410.8,1956.0 413.3,1959.6 415.8,1963.0 418.3,1966.3 420.8,1969.1 423.3,1971.5 425.8,1973.5 428.3,1975.2 430.8,1976.3 433.3,1976.9 435.8,1977.2 438.3,1977.3 440.8,1977.4 443.3,1977.5 445.8,1977.4 448.3,1977.1 450.8,1976.7 453.3,1976.2 455.8,1975.5 458.3,1974.9 460.8,1974.3 463.3,1973.7 465.8,1973.1 468.3,1972.5 470.8,1971.9 473.3,1971.3 475.8,1970.8 478.3,1970.3 480.8,1969.9 483.3,1969.6 485.8,1969.3 488.3,1969.0 490.8,1968.8 493.3,1968.6 495.8,1968.3 498.3,1968.1 500.8,1967.9 503.3,1967.7 505.8,1967.4 508.3,1967.2 510.8,1966.9 513.3,1966.7 515.8,1966.5 518.3,1966.2 520.8,1966.0 523.3,1965.7 525.8,1965.5 528.3,1965.2 530.8,1964.9 533.3,1964.5 535.8,1964.1 538.3,1963.7 540.8,1963.3 543.3,1962.9 545.8,1962.4 548.3,1962.0 550.8,1961.6 553.3,1961.2 555.8,1960.9 558.3,1960.6 560.8,1960.3 563.3,1960.0 565.8,1959.7 568.3,1959.4 570.8,1959.2 573.3,1959.0 575.8,1958.8 578.3,1958.6 580.8,1958.5 583.3,1958.3 585.8,1958.2 588.3,1958.1 590.8,1958.1 593.3,1958.0 595.8,1958.0 598.3,1958.1 600.8,1958.3 603.3,1958.5 605.8,1958.8 608.3,1959.1 610.8,1959.5 613.3,1959.8 615.8,1960.1 618.3,1960.4 620.8,1960.7 623.3,1961.0 625.8,1961.3 628.3,1961.7 630.8,1962.0 633.3,1962.4 635.8,1962.8 638.3,1963.2 640.8,1963.7 643.3,1964.2 645.8,1964.8 648.3,1965.4 650.8,1966.1 653.3,1966.8 655.8,1967.5 658.3,1968.2 660.8,1968.9 663.3,1969.6 665.8,1970.2 668.3,1970.9 670.8,1971.5 673.3,1972.2 675.8,1972.8 678.3,1973.5 680.8,1974.1 683.3,1974.7 685.8,1975.2 688.3,1975.7 690.8,1976.1 693.3,1976.5 695.8,1976.9 698.3,1977.2 700.8,1977.6 703.3,1977.9 705.8,1978.2 708.3,1978.4 710.8,1978.7 713.3,1978.9 715.8,1979.0 718.3,1979.2 720.8,1979.3 723.3,1979.5 725.8,1979.6 728.3,1979.7 730.8,1979.8 733.3,1979.9 735.8,1979.9 738.3,1980.0 740.8,1980.0 743.3,1979.9 745.8,1979.9 748.3,1979.7 750.8,1979.6 753.3,1979.5 755.8,1979.3 758.3,1979.1 760.8,1978.9 763.3,1978.7 765.8,1978.4 768.3,1978.2 770.8,1977.9 773.3,1977.6 775.8,1977.3 778.3,1977.1 780.8,1977.0 783.3,1976.8 785.8,1976.7 788.3,1976.6 790.8,1976.6 793.3,1976.5 795.8,1976.6 798.3,1976.7 800.8,1976.9 803.3,1977.1 805.8,1977.3 808.3,1977.4 810.8,1977.4 813.3,1977.3 815.8,1977.1 818.3,1976.8 820.8,1976.5 823.3,1976.2 825.8,1975.9 828.3,1975.7 830.8,1975.4 833.3,1975.2 835.8,1975.1 838.3,1975.1 840.8,1975.2 843.3,1975.5 845.8,1975.9 848.3,1976.2 850.8,1976.6 853.3,1977.1 855.8,1977.5 858.3,1978.0 860.8,1978.4 863.3,1978.8 865.8,1979.0 868.3,1979.2 870.8,1979.4 873.3,1979.6 875.8,1979.7 878.3,1979.8 880.8,1979.9 883.3,1979.8 885.8,1979.4 888.3,1978.3 890.8,1976.8 893.3,1974.8 895.8,1972.5 898.3,1969.8 900.8,1966.8 903.3,1964.0 905.8,1961.4 908.3,1959.1 910.8,1957.2 913.3,1955.5 915.8,1954.3 918.3,1953.4 920.8,1952.9 923.3,1952.8 925.8,1953.2 928.3,1954.0 930.8,1955.0 933.3,1956.3 935.8,1957.8 938.3,1959.4 940.8,1960.9 943.3,1962.4 945.8,1963.7 948.3,1965.0 950.8,1966.1 953.3,1966.9 955.8,1967.6 958.3,1968.1 960.8,1968.4 963.3,1968.7 965.8,1968.9 968.3,1968.9 970.8,1968.7 973.3,1968.5 975.8,1968.1 978.3,1967.7 980.8,1967.3 983.3,1966.9 985.8,1966.5 988.3,1966.2 990.8,1965.8 993.3,1965.5 995.8,1965.2 998.3,1965.1 1000.8,1965.1 1003.3,1965.1 1005.8,1965.3 1008.3,1965.6 1010.8,1965.9 1013.3,1966.2 1015.8,1966.5 1018.3,1966.8 1020.8,1967.1 1023.3,1967.4 1025.8,1967.7 1028.3,1968.0 1030.8,1968.3 1033.3,1968.6 1035.8,1968.8 1038.3,1968.9 1040.8,1969.0 1043.3,1969.0 1045.8,1969.0 1048.3,1969.0 1050.8,1969.0 1053.3,1969.0 1055.8,1969.0 1058.3,1969.0 1060.8,1969.0 1063.3,1968.9 1065.8,1968.8 1068.3,1968.7 1070.8,1968.6 1073.3,1968.4 1075.8,1968.3 1078.3,1968.1 1080.8,1968.0 1083.3,1967.8 1085.8,1967.6 1088.3,1967.5 1090.8,1967.3 1093.3,1967.2 1095.8,1967.1 1098.3,1967.0 1100.8,1967.0 1103.3,1967.0 1105.8,1967.0 1108.3,1967.0 1110.8,1967.0 1113.3,1967.0 1115.8,1967.1 1118.3,1967.2 1120.8,1967.5 1123.3,1967.8 1125.8,1968.1 1128.3,1968.3 1130.8,1968.5 1133.3,1968.7 1135.8,1968.8 1138.3,1968.9 1140.8,1968.9 1143.3,1969.0 1145.8,1968.9 1148.3,1968.7 1150.8,1968.4 1153.3,1967.9 1155.8,1967.4 1158.3,1966.7 1160.8,1965.8 1163.3,1964.7 1165.8,1963.4 1168.3,1962.0 1170.8,1960.4 1173.3,1958.6 1175.8,1956.6 1178.3,1954.5 1180.8,1952.4 1183.3,1950.4 1185.8,1948.4 1188.3,1946.5 1190.8,1944.7 1193.3,1943.1 1195.8,1941.8 1198.3,1940.7 1200.8,1939.9 1203.3,1939.4 1205.8,1939.2 1208.3,1939.4 1210.8,1939.9 1213.3,1940.5 1215.8,1941.3 1218.3,1942.1 1220.8,1942.8 1223.3,1943.5 1225.8,1944.1 1228.3,1944.4 1230.8,1944.7 1233.3,1944.9 1235.8,1944.9 1238.3,1944.8 1240.8,1944.5 1243.3,1944.1 1245.8,1943.8 1248.3,1943.4 1250.8,1943.0 1253.3,1942.7 1255.8,1942.3 1258.3,1941.8 1260.8,1941.3 1263.3,1940.7 1265.8,1940.0 1268.3,1939.2 1270.8,1938.4 1273.3,1937.6 1275.8,1936.8 1278.3,1936.1 1280.8,1935.4 1283.3,1934.9 1285.8,1934.5 1288.3,1934.2 1290.8,1934.2 1293.3,1934.6 1295.8,1935.3 1298.3,1936.3 1300.8,1937.4 1303.3,1938.5 1305.8,1939.7 1308.3,1940.8 1310.8,1941.8 1313.3,1942.7 1315.8,1943.4 1318.3,1943.9 1320.8,1944.3 1323.3,1944.3 1325.8,1944.1 1328.3,1943.7 1330.8,1943.1 1333.3,1942.4 1335.8,1941.7 1338.3,1940.8 1340.8,1939.9 1343.3,1938.9 1345.8,1938.1 1348.3,1937.4 1350.8,1936.9 1353.3,1936.4 1355.8,1936.2 1358.3,1936.0 1360.8,1936.0 1363.3,1936.2 1365.8,1936.6 1368.3,1937.2 1370.8,1938.0 1373.3,1938.8 1375.8,1939.8 1378.3,1940.9 1380.8,1941.9 1383.3,1942.9 1385.8,1943.6 1388.3,1944.2 1390.8,1944.8 1393.3,1945.2 1395.8,1945.7 1398.3,1946.1 1400.8,1946.6 1403.3,1947.1 1405.8,1947.6 1408.3,1948.1 1410.8,1948.8 1413.3,1949.7 1415.8,1950.8 1418.3,1952.0 1420.8,1953.1 1423.3,1954.3 1425.8,1955.3 1428.3,1956.2 1430.8,1957.1 1433.3,1957.9 1435.8,1958.6 1438.3,1959.1 1440.8,1959.5 1443.3,1959.8 1445.8,1959.9 1448.3,1959.8 1450.8,1959.5 1453.3,1959.0 1455.8,1958.3 1458.3,1957.7 1460.8,1956.9 1463.3,1956.1 1465.8,1955.2 1468.3,1954.3 1470.8,1953.5 1473.3,1952.7 1475.8,1952.1 1478.3,1951.6 1480.8,1951.2 1483.3,1950.7 1485.8,1950.4 1488.3,1950.1 1490.8,1949.9 1493.3,1949.7 1495.8,1949.5 1498.3,1949.4 1500.8,1949.2 1503.3,1949.0 1505.8,1948.7 1508.3,1948.3 1510.8,1947.8 1513.3,1947.3 1515.8,1946.7 1518.3,1946.1 1520.8,1945.5 1523.3,1944.9 1525.8,1944.3 1528.3,1943.7 1530.8,1943.2 1533.3,1942.8 1535.8,1942.4 1538.3,1942.2 1540.8,1942.1 1543.3,1942.3 1545.8,1942.8 1548.3,1943.5 1550.8,1944.3 1553.3,1945.3 1555.8,1946.5 1558.3,1947.8 1560.8,1949.2 1563.3,1950.6 1565.8,1952.0 1568.3,1953.3 1570.8,1954.6 1573.3,1955.7 1575.8,1956.7 1578.3,1957.5 1580.8,1958.1 1583.3,1958.6 1585.8,1958.9 1588.3,1958.9 1590.8,1958.9 1593.3,1958.8 1595.8,1958.7 1598.3,1958.5 1600.8,1958.3 1603.3,1958.1 1605.8,1957.7 1608.3,1957.4 1610.8,1957.2 1613.3,1957.1 1615.8,1957.0 1618.3,1957.0 1620.8,1957.0 1623.3,1957.0 1625.8,1957.0 1628.3,1957.0 1630.8,1957.0 1633.3,1957.1 1635.8,1957.1 1638.3,1957.2 1640.8,1957.4 1643.3,1957.5 1645.8,1957.6 1648.3,1957.8 1650.8,1957.9 1653.3,1958.2 1655.8,1958.5 1658.3,1959.0 1660.8,1959.6 1663.3,1960.5 1665.8,1961.4 1668.3,1962.2 1670.8,1963.0 1673.3,1963.8 1675.8,1964.6 1678.3,1965.2 1680.8,1965.8 1683.3,1966.3 1685.8,1966.7 1688.3,1966.8 1690.8,1966.8 1693.3,1966.5 1695.8,1966.1 1698.3,1965.6 1700.8,1965.1 1703.3,1964.7 1705.8,1964.2 1708.3,1963.8 1710.8,1963.4 1713.3,1963.1 1715.8,1962.9 1718.3,1962.7 1720.8,1962.6 1723.3,1962.6 1725.8,1962.6 1728.3,1962.8 1730.8,1963.2 1733.3,1963.5 1735.8,1963.9 1738.3,1964.3 1740.8,1964.6 1743.3,1965.0 1745.8,1965.4 1748.3,1965.7 1750.8,1965.9 1753.3,1966.1 1755.8,1966.2 1758.3,1966.3 1760.8,1966.3 1763.3,1966.4 1765.8,1966.5 1768.3,1966.6 1770.8,1966.6 1773.3,1966.7 1775.8,1966.8 1778.3,1966.9 1780.8,1967.0 1783.3,1967.1 1785.8,1967.4 1788.3,1967.6 1790.8,1967.9 1793.3,1968.2 1795.8,1968.4 1798.3,1968.7 1800.8,1968.9 1803.3,1969.1 1805.8,1969.3 1808.3,1969.5 1810.8,1969.7 1813.3,1969.9 1815.8,1970.2 1818.3,1970.4 1820.8,1970.7 1823.3,1971.0 1825.8,1971.2 1828.3,1971.6 1830.8,1971.9 1833.3,1972.4 1835.8,1972.9 1838.3,1973.5 1840.8,1974.1 1843.3,1974.7 1845.8,1975.3 1848.3,1975.8 1850.8,1976.3 1853.3,1976.6 1855.8,1977.0 1858.3,1977.3 1860.8,1977.6 1863.3,1977.9 1865.8,1978.2 1868.3,1978.4 1870.8,1978.6 1873.3,1978.8 1875.8,1979.0 1878.3,1979.2 1880.8,1979.4 1883.3,1979.5 1885.8,1979.7 1888.3,1980.0 1890.8,1980.2 1893.3,1980.5 1895.8,1980.8 1898.3,1981.1 1900.8,1981.4 1903.3,1981.7 1905.8,1982.1 1908.3,1982.4 1910.8,1982.8 1913.3,1983.1 1915.8,1983.5 1918.3,1984.0 1920.8,1984.4 1923.3,1984.8 1925.8,1985.2 1928.3,1985.6 1930.8,1985.9 1933.3,1986.2 1935.8,1986.3 1938.3,1986.5 1940.8,1986.5 1943.3,1986.5 1945.8,1986.6 1948.3,1986.6 1950.8,1986.6 1953.3,1986.6 1955.8,1986.6 1958.3,1986.6 1960.8,1986.6 1963.3,1986.6 1965.8,1986.6 1968.3,1986.6 1970.8,1986.6 1973.3,1986.6 1975.8,1986.6 1978.3,1986.6 1980.8,1986.6 1983.3,1986.6 1985.8,1986.6 1988.3,1986.6 1990.8,1986.6 1993.3,1986.6 1995.8,1986.6 1998.3,1986.6 2000.8,1986.6 2003.3,1986.6 2005.8,1986.6 2008.3,1986.6 2010.8,1986.6 2013.3,1986.6 2015.8,1986.6 2018.3,1986.6 2020.8,1986.6 2023.3,1986.6 2025.8,1986.6 2028.3,1986.6 2030.8,1986.6 2033.3,1986.6 2035.8,1986.6 2038.3,1986.6 2040.8,1986.6 2043.3,1986.6 2045.8,1986.6 2048.3,1986.6 2050.8,1986.6"/>
<path class="c" stroke="#ff3b3b" stroke-width="9.0" d="M243.3,1986.6 245.8,1986.6 248.3,1986.6 250.8,1986.6 253.3,1986.6 255.8,1986.6 258.3,1986.6 260.8,1986.6 263.3,1986.6 265.8,1986.6 268.3,1986.6 270.8,1986.6 273.3,1986.6 275.8,1986.6 278.3,1986.6 280.8,1986.6 283.3,1986.6 285.8,1986.6 288.3,1986.6 290.8,1986.6 293.3,1986.6 295.8,1986.6 298.3,1986.6 300.8,1986.6 303.3,1986.6 305.8,1986.6 308.3,1986.6 310.8,1986.6 313.3,1986.6 315.8,1986.5 318.3,1986.4 320.8,1986.1 323.3,1985.3 325.8,1983.7 328.3,1981.6 330.8,1979.0 333.3,1976.1 335.8,1973.0 338.3,1969.8 340.8,1966.2 343.3,1962.0 345.8,1957.4 348.3,1952.4 350.8,1947.1 353.3,1941.3 355.8,1934.9 358.3,1928.0 360.8,1920.7 363.3,1913.4 365.8,1906.2 368.3,1899.1 370.8,1892.1 373.3,1885.5 375.8,1879.3 378.3,1873.8 380.8,1869.1 383.3,1865.6 385.8,1863.1 388.3,1861.9 390.8,1862.2 393.3,1863.8 395.8,1866.6 398.3,1870.5 400.8,1875.2 403.3,1880.0 405.8,1884.8 408.3,1889.3 410.8,1893.3 413.3,1896.6 415.8,1899.1 418.3,1900.9 420.8,1901.8 423.3,1901.9 425.8,1900.7 428.3,1898.0 430.8,1893.5 433.3,1887.2 435.8,1879.1 438.3,1869.4 440.8,1858.0 443.3,1845.3 445.8,1831.9 448.3,1818.0 450.8,1803.9 453.3,1790.3 455.8,1777.7 458.3,1766.1 460.8,1755.7 463.3,1746.5 465.8,1738.6 468.3,1732.1 470.8,1727.1 473.3,1723.7 475.8,1721.4 478.3,1720.1 480.8,1719.5 483.3,1719.7 485.8,1720.7 488.3,1722.3 490.8,1724.0 493.3,1725.8 495.8,1727.4 498.3,1728.7 500.8,1729.4 503.3,1729.8 505.8,1729.9 508.3,1729.7 510.8,1729.1 513.3,1728.2 515.8,1727.2 518.3,1726.3 520.8,1725.5 523.3,1724.9 525.8,1724.7 528.3,1724.8 530.8,1725.2 533.3,1725.7 535.8,1726.3 538.3,1727.0 540.8,1727.9 543.3,1728.6 545.8,1729.2 548.3,1729.4 550.8,1729.5 553.3,1729.4 555.8,1729.1 558.3,1728.3 560.8,1727.0 563.3,1725.2 565.8,1723.1 568.3,1720.6 570.8,1717.9 573.3,1715.0 575.8,1711.9 578.3,1708.7 580.8,1705.6 583.3,1702.7 585.8,1700.0 588.3,1697.9 590.8,1696.5 593.3,1696.0 595.8,1696.4 598.3,1697.6 600.8,1699.4 603.3,1701.6 605.8,1704.0 608.3,1706.2 610.8,1707.9 613.3,1709.0 615.8,1709.4 618.3,1708.8 620.8,1707.1 623.3,1704.6 625.8,1701.0 628.3,1696.6 630.8,1691.6 633.3,1686.2 635.8,1680.6 638.3,1675.2 640.8,1670.1 643.3,1665.5 645.8,1661.3 648.3,1657.7 650.8,1654.7 653.3,1652.7 655.8,1651.7 658.3,1651.8 660.8,1653.1 663.3,1655.7 665.8,1659.6 668.3,1664.7 670.8,1670.3 673.3,1676.0 675.8,1681.6 678.3,1686.9 680.8,1691.7 683.3,1696.0 685.8,1699.6 688.3,1702.4 690.8,1704.3 693.3,1705.3 695.8,1705.2 698.3,1704.2 700.8,1702.6 703.3,1700.2 705.8,1697.3 708.3,1694.2 710.8,1691.0 713.3,1687.9 715.8,1684.9 718.3,1682.0 720.8,1679.3 723.3,1676.8 725.8,1674.8 728.3,1673.4 730.8,1672.7 733.3,1673.1 735.8,1674.8 738.3,1678.2 740.8,1683.1 743.3,1689.7 745.8,1697.4 748.3,1705.8 750.8,1714.5 753.3,1724.0 755.8,1734.2 758.3,1745.5 760.8,1758.1 763.3,1771.4 765.8,1784.5 768.3,1797.0 770.8,1809.0 773.3,1820.5 775.8,1831.6 778.3,1842.3 780.8,1852.7 783.3,1862.6 785.8,1872.1 788.3,1880.7 790.8,1887.8 793.3,1893.4 795.8,1897.8 798.3,1901.3 800.8,1904.0 803.3,1906.1 805.8,1907.7 808.3,1908.8 810.8,1909.4 813.3,1909.7 815.8,1909.8 818.3,1909.9 820.8,1910.2 823.3,1910.7 825.8,1911.6 828.3,1913.1 830.8,1915.5 833.3,1918.7 835.8,1922.4 838.3,1926.6 840.8,1931.0 843.3,1935.5 845.8,1939.6 848.3,1943.5 850.8,1947.2 853.3,1950.7 855.8,1953.9 858.3,1956.8 860.8,1959.4 863.3,1961.8 865.8,1964.0 868.3,1965.8 870.8,1967.4 873.3,1968.7 875.8,1969.8 878.3,1970.6 880.8,1970.9 883.3,1970.9 885.8,1970.4 888.3,1969.3 890.8,1967.4 893.3,1964.8 895.8,1961.6 898.3,1957.8 900.8,1953.8 903.3,1949.7 905.8,1945.7 908.3,1941.8 910.8,1938.3 913.3,1935.4 915.8,1933.0 918.3,1931.0 920.8,1929.5 923.3,1928.4 925.8,1927.7 928.3,1927.3 930.8,1927.2 933.3,1927.4 935.8,1927.8 938.3,1928.2 940.8,1928.6 943.3,1928.9 945.8,1929.2 948.3,1929.4 950.8,1929.4 953.3,1929.3 955.8,1929.1 958.3,1928.7 960.8,1928.0 963.3,1926.7 965.8,1924.9 968.3,1922.6 970.8,1919.9 973.3,1916.7 975.8,1913.0 978.3,1908.8 980.8,1904.1 983.3,1898.9 985.8,1893.2 988.3,1887.5 990.8,1881.9 993.3,1876.6 995.8,1871.5 998.3,1866.7 1000.8,1862.2 1003.3,1857.9 1005.8,1854.0 1008.3,1850.7 1010.8,1848.0 1013.3,1845.8 1015.8,1844.1 1018.3,1842.8 1020.8,1842.0 1023.3,1841.5 1025.8,1841.3 1028.3,1841.1 1030.8,1841.0 1033.3,1841.0 1035.8,1841.0 1038.3,1841.0 1040.8,1840.9 1043.3,1840.6 1045.8,1839.9 1048.3,1838.6 1050.8,1837.1 1053.3,1835.4 1055.8,1833.6 1058.3,1831.7 1060.8,1829.8 1063.3,1827.9 1065.8,1826.1 1068.3,1824.5 1070.8,1823.0 1073.3,1821.8 1075.8,1820.9 1078.3,1820.4 1080.8,1820.7 1083.3,1821.6 1085.8,1823.1 1088.3,1825.1 1090.8,1827.7 1093.3,1830.9 1095.8,1834.4 1098.3,1838.2 1100.8,1842.1 1103.3,1846.4 1105.8,1851.0 1108.3,1855.8 1110.8,1861.0 1113.3,1866.5 1115.8,1872.3 1118.3,1878.0 1120.8,1883.7 1123.3,1889.4 1125.8,1895.0 1128.3,1900.6 1130.8,1906.1 1133.3,1911.4 1135.8,1916.2 1138.3,1920.2 1140.8,1923.6 1143.3,1926.5 1145.8,1928.9 1148.3,1930.9 1150.8,1932.5 1153.3,1933.8 1155.8,1934.9 1158.3,1935.6 1160.8,1935.9 1163.3,1936.0 1165.8,1936.0 1168.3,1936.0 1170.8,1935.9 1173.3,1935.7 1175.8,1935.2 1178.3,1934.3 1180.8,1933.2 1183.3,1932.1 1185.8,1930.8 1188.3,1929.5 1190.8,1928.3 1193.3,1927.4 1195.8,1926.7 1198.3,1926.3 1200.8,1926.3 1203.3,1926.6 1205.8,1927.4 1208.3,1928.4 1210.8,1929.6 1213.3,1931.1 1215.8,1932.5 1218.3,1933.6 1220.8,1934.3 1223.3,1934.6 1225.8,1934.5 1228.3,1933.6 1230.8,1932.1 1233.3,1930.2 1235.8,1927.8 1238.3,1925.0 1240.8,1922.1 1243.3,1919.0 1245.8,1915.8 1248.3,1912.6 1250.8,1909.2 1253.3,1905.8 1255.8,1902.4 1258.3,1898.9 1260.8,1895.4 1263.3,1891.9 1265.8,1888.4 1268.3,1884.8 1270.8,1881.3 1273.3,1877.7 1275.8,1874.2 1278.3,1870.8 1280.8,1867.4 1283.3,1864.2 1285.8,1861.1 1288.3,1858.6 1290.8,1856.8 1293.3,1855.7 1295.8,1855.0 1298.3,1854.9 1300.8,1855.4 1303.3,1856.3 1305.8,1857.3 1308.3,1858.4 1310.8,1859.5 1313.3,1860.4 1315.8,1861.1 1318.3,1861.5 1320.8,1861.8 1323.3,1861.6 1325.8,1860.9 1328.3,1859.6 1330.8,1858.1 1333.3,1856.3 1335.8,1854.4 1338.3,1852.2 1340.8,1849.9 1343.3,1847.6 1345.8,1845.3 1348.3,1842.9 1350.8,1840.6 1353.3,1838.4 1355.8,1836.4 1358.3,1834.5 1360.8,1832.9 1363.3,1831.4 1365.8,1830.2 1368.3,1829.4 1370.8,1828.9 1373.3,1828.8 1375.8,1829.1 1378.3,1829.9 1380.8,1831.1 1383.3,1832.5 1385.8,1834.1 1388.3,1835.7 1390.8,1837.4 1393.3,1838.9 1395.8,1840.3 1398.3,1841.5 1400.8,1842.3 1403.3,1842.7 1405.8,1842.6 1408.3,1841.9 1410.8,1840.4 1413.3,1838.4 1415.8,1836.1 1418.3,1833.6 1420.8,1830.8 1423.3,1827.9 1425.8,1825.1 1428.3,1822.3 1430.8,1819.8 1433.3,1817.8 1435.8,1816.3 1438.3,1815.3 1440.8,1814.9 1443.3,1815.3 1445.8,1816.4 1448.3,1818.2 1450.8,1820.6 1453.3,1823.6 1455.8,1827.2 1458.3,1830.9 1460.8,1834.7 1463.3,1838.5 1465.8,1842.2 1468.3,1845.8 1470.8,1849.0 1473.3,1851.7 1475.8,1854.2 1478.3,1856.3 1480.8,1858.1 1483.3,1859.5 1485.8,1860.6 1488.3,1861.6 1490.8,1862.3 1493.3,1862.8 1495.8,1863.1 1498.3,1863.3 1500.8,1863.4 1503.3,1863.2 1505.8,1862.8 1508.3,1862.1 1510.8,1861.2 1513.3,1860.2 1515.8,1858.9 1518.3,1857.4 1520.8,1855.8 1523.3,1853.9 1525.8,1851.8 1528.3,1849.5 1530.8,1846.9 1533.3,1844.3 1535.8,1841.7 1538.3,1839.2 1540.8,1836.8 1543.3,1834.7 1545.8,1833.1 1548.3,1832.1 1550.8,1831.5 1553.3,1831.4 1555.8,1831.8 1558.3,1832.8 1560.8,1834.1 1563.3,1835.7 1565.8,1837.5 1568.3,1839.5 1570.8,1841.4 1573.3,1843.2 1575.8,1845.0 1578.3,1846.6 1580.8,1848.2 1583.3,1849.6 1585.8,1850.8 1588.3,1852.0 1590.8,1853.0 1593.3,1853.9 1595.8,1854.8 1598.3,1855.5 1600.8,1856.1 1603.3,1856.6 1605.8,1856.8 1608.3,1856.9 1610.8,1856.8 1613.3,1856.6 1615.8,1856.3 1618.3,1856.1 1620.8,1855.8 1623.3,1855.5 1625.8,1855.2 1628.3,1855.1 1630.8,1855.1 1633.3,1855.3 1635.8,1855.6 1638.3,1855.8 1640.8,1855.9 1643.3,1855.9 1645.8,1855.7 1648.3,1855.4 1650.8,1855.1 1653.3,1854.7 1655.8,1854.4 1658.3,1854.4 1660.8,1855.3 1663.3,1857.1 1665.8,1859.8 1668.3,1863.3 1670.8,1867.3 1673.3,1871.4 1675.8,1875.3 1678.3,1879.1 1680.8,1882.4 1683.3,1885.3 1685.8,1887.7 1688.3,1889.3 1690.8,1890.2 1693.3,1890.7 1695.8,1890.8 1698.3,1890.4 1700.8,1889.6 1703.3,1888.4 1705.8,1886.8 1708.3,1884.9 1710.8,1882.7 1713.3,1880.7 1715.8,1878.9 1718.3,1877.3 1720.8,1876.0 1723.3,1875.1 1725.8,1874.5 1728.3,1874.3 1730.8,1874.6 1733.3,1875.5 1735.8,1876.7 1738.3,1878.1 1740.8,1879.7 1743.3,1881.4 1745.8,1883.0 1748.3,1884.5 1750.8,1885.7 1753.3,1886.6 1755.8,1887.1 1758.3,1887.3 1760.8,1887.3 1763.3,1887.0 1765.8,1886.4 1768.3,1885.8 1770.8,1885.2 1773.3,1884.8 1775.8,1884.5 1778.3,1884.2 1780.8,1884.1 1783.3,1884.2 1785.8,1884.6 1788.3,1885.2 1790.8,1885.8 1793.3,1886.6 1795.8,1887.6 1798.3,1888.6 1800.8,1889.7 1803.3,1890.7 1805.8,1891.7 1808.3,1892.6 1810.8,1893.5 1813.3,1894.3 1815.8,1895.1 1818.3,1895.8 1820.8,1896.3 1823.3,1896.8 1825.8,1897.1 1828.3,1897.5 1830.8,1897.9 1833.3,1898.4 1835.8,1899.0 1838.3,1899.7 1840.8,1900.5 1843.3,1901.4 1845.8,1902.3 1848.3,1903.2 1850.8,1904.2 1853.3,1905.3 1855.8,1906.3 1858.3,1907.2 1860.8,1908.0 1863.3,1908.8 1865.8,1909.5 1868.3,1910.2 1870.8,1910.8 1873.3,1911.4 1875.8,1912.1 1878.3,1912.7 1880.8,1913.2 1883.3,1913.8 1885.8,1914.4 1888.3,1914.9 1890.8,1915.4 1893.3,1916.1 1895.8,1917.0 1898.3,1918.4 1900.8,1920.4 1903.3,1923.0 1905.8,1925.8 1908.3,1928.7 1910.8,1931.4 1913.3,1934.1 1915.8,1936.8 1918.3,1939.6 1920.8,1942.2 1923.3,1944.9 1925.8,1947.5 1928.3,1950.0 1930.8,1952.5 1933.3,1954.8 1935.8,1957.1 1938.3,1959.2 1940.8,1961.3 1943.3,1963.2 1945.8,1965.0 1948.3,1966.6 1950.8,1968.1 1953.3,1969.5 1955.8,1970.8 1958.3,1972.0 1960.8,1973.2 1963.3,1974.2 1965.8,1975.2 1968.3,1976.2 1970.8,1977.1 1973.3,1977.9 1975.8,1978.7 1978.3,1979.3 1980.8,1979.8 1983.3,1980.3 1985.8,1980.7 1988.3,1981.0 1990.8,1981.4 1993.3,1981.7 1995.8,1982.0 1998.3,1982.4 2000.8,1982.8 2003.3,1983.3 2005.8,1983.8 2008.3,1984.4 2010.8,1984.9 2013.3,1985.4 2015.8,1985.8 2018.3,1986.2 2020.8,1986.4 2023.3,1986.6 2025.8,1986.6 2028.3,1986.6 2030.8,1986.6 2033.3,1986.6 2035.8,1986.6 2038.3,1986.6 2040.8,1986.6 2043.3,1986.6 2045.8,1986.6 2048.3,1986.6 2050.8,1986.6"/>
<path class="c" stroke="#0066e6" stroke-width="9.0" d="M243.3,1986.6 245.8,1986.6 248.3,1986.6 250.8,1986.6 253.3,1986.6 255.8,1986.6 258.3,1986.6 260.8,1986.6 263.3,1986.6 265.8,1986.6 268.3,1986.6 270.8,1986.6 273.3,1986.6 275.8,1986.6 278.3,1986.6 280.8,1986.6 283.3,1986.6 285.8,1986.6 288.3,1986.6 290.8,1986.6 293.3,1986.6 295.8,1986.6 298.3,1986.6 300.8,1986.6 303.3,1986.6 305.8,1986.6 308.3,1986.6 310.8,1986.6 313.3,1986.6 315.8,1986.6 318.3,1986.6 320.8,1986.6 323.3,1986.6 325.8,1986.6 328.3,1986.6 330.8,1986.6 333.3,1986.6 335.8,1986.6 338.3,1986.6 340.8,1986.6 343.3,1986.5 345.8,1986.5 348.3,1986.3 350.8,1985.8 353.3,1985.0 355.8,1983.8 358.3,1982.5 360.8,1981.0 363.3,1979.5 365.8,1977.9 368.3,1976.3 370.8,1974.5 373.3,1972.7 375.8,1971.1 378.3,1969.7 380.8,1968.4 383.3,1967.4 385.8,1966.5 388.3,1966.0 390.8,1965.7 393.3,1965.7 395.8,1966.0 398.3,1966.5 400.8,1967.1 403.3,1967.7 405.8,1968.4 408.3,1969.2 410.8,1969.9 413.3,1970.6 415.8,1971.1 418.3,1971.5 420.8,1971.9 423.3,1972.2 425.8,1972.3 428.3,1972.2 430.8,1971.7 433.3,1970.7 435.8,1969.4 438.3,1967.7 440.8,1965.6 443.3,1963.1 445.8,1960.4 448.3,1957.5 450.8,1954.6 453.3,1951.6 455.8,1948.5 458.3,1945.5 460.8,1942.6 463.3,1939.8 465.8,1937.2 468.3,1934.6 470.8,1932.5 473.3,1930.6 475.8,1929.1 478.3,1927.8 480.8,1926.7 483.3,1925.9 485.8,1925.3 488.3,1924.8 490.8,1924.3 493.3,1923.8 495.8,1923.2 498.3,1922.3 500.8,1921.3 503.3,1920.2 505.8,1919.2 508.3,1918.2 510.8,1917.3 513.3,1916.3 515.8,1915.5 518.3,1914.9 520.8,1914.5 523.3,1914.2 525.8,1914.0 528.3,1913.9 530.8,1913.7 533.3,1913.6 535.8,1913.5 538.3,1913.3 540.8,1913.2 543.3,1913.0 545.8,1912.8 548.3,1912.6 550.8,1912.3 553.3,1911.9 555.8,1911.4 558.3,1910.7 560.8,1909.9 563.3,1909.1 565.8,1908.0 568.3,1906.7 570.8,1905.2 573.3,1903.6 575.8,1902.0 578.3,1900.7 580.8,1899.4 583.3,1898.3 585.8,1897.3 588.3,1896.5 590.8,1895.9 593.3,1895.6 595.8,1895.3 598.3,1895.1 600.8,1895.1 603.3,1895.2 605.8,1895.5 608.3,1895.7 610.8,1895.8 613.3,1895.6 615.8,1894.9 618.3,1893.7 620.8,1892.1 623.3,1890.2 625.8,1888.0 628.3,1885.4 630.8,1882.8 633.3,1880.2 635.8,1877.8 638.3,1875.5 640.8,1873.4 643.3,1871.7 645.8,1870.2 648.3,1869.0 650.8,1868.1 653.3,1867.4 655.8,1866.9 658.3,1866.7 660.8,1866.8 663.3,1867.3 665.8,1868.0 668.3,1868.8 670.8,1869.7 673.3,1870.8 675.8,1871.8 678.3,1872.9 680.8,1873.9 683.3,1874.9 685.8,1875.6 688.3,1875.9 690.8,1876.0 693.3,1875.9 695.8,1875.4 698.3,1874.6 700.8,1873.4 703.3,1872.0 705.8,1870.5 708.3,1868.8 710.8,1867.1 713.3,1865.5 715.8,1863.8 718.3,1862.2 720.8,1860.9 723.3,1859.9 725.8,1859.3 728.3,1858.8 730.8,1858.7 733.3,1858.9 735.8,1859.5 738.3,1860.4 740.8,1861.7 743.3,1863.3 745.8,1864.8 748.3,1866.0 750.8,1866.5 753.3,1866.1 755.8,1864.4 758.3,1861.2 760.8,1856.4 763.3,1849.5 765.8,1840.8 768.3,1830.4 770.8,1819.2 773.3,1808.4 775.8,1799.0 778.3,1791.3 780.8,1785.3 783.3,1781.2 785.8,1778.9 788.3,1778.5 790.8,1779.9 793.3,1783.3 795.8,1788.6 798.3,1795.4 800.8,1802.4 803.3,1808.9 805.8,1814.3 808.3,1818.4 810.8,1821.1 813.3,1822.5 815.8,1823.0 818.3,1822.5 820.8,1821.7 823.3,1820.7 825.8,1819.7 828.3,1819.2 830.8,1819.4 833.3,1821.0 835.8,1824.2 838.3,1829.3 840.8,1836.0 843.3,1843.7 845.8,1851.9 848.3,1860.2 850.8,1868.4 853.3,1876.2 855.8,1883.8 858.3,1891.1 860.8,1898.2 863.3,1905.1 865.8,1911.6 868.3,1917.2 870.8,1921.9 873.3,1925.6 875.8,1928.3 878.3,1929.9 880.8,1930.4 883.3,1929.6 885.8,1927.4 888.3,1923.7 890.8,1918.2 893.3,1911.0 895.8,1902.7 898.3,1893.5 900.8,1883.7 903.3,1873.9 905.8,1864.6 908.3,1855.9 910.8,1848.5 913.3,1842.7 915.8,1838.4 918.3,1835.4 920.8,1833.6 923.3,1832.6 925.8,1832.5 928.3,1833.1 930.8,1834.6 933.3,1836.5 935.8,1838.9 938.3,1841.5 940.8,1844.2 943.3,1846.6 945.8,1848.6 948.3,1850.1 950.8,1850.8 953.3,1850.9 955.8,1850.6 958.3,1849.5 960.8,1847.2 963.3,1844.1 965.8,1839.9 968.3,1834.5 970.8,1828.0 973.3,1820.5 975.8,1812.0 978.3,1802.2 980.8,1791.0 983.3,1778.0 985.8,1762.9 988.3,1746.3 990.8,1729.5 993.3,1713.3 995.8,1698.0 998.3,1683.7 1000.8,1671.0 1003.3,1660.5 1005.8,1652.7 1008.3,1647.0 1010.8,1643.2 1013.3,1640.6 1015.8,1639.0 1018.3,1638.1 1020.8,1637.9 1023.3,1638.6 1025.8,1640.0 1028.3,1642.2 1030.8,1645.1 1033.3,1648.5 1035.8,1652.0 1038.3,1655.4 1040.8,1658.8 1043.3,1662.1 1045.8,1665.5 1048.3,1668.8 1050.8,1671.6 1053.3,1674.0 1055.8,1676.1 1058.3,1678.1 1060.8,1680.1 1063.3,1682.1 1065.8,1684.4 1068.3,1687.0 1070.8,1690.0 1073.3,1693.7 1075.8,1698.0 1078.3,1703.0 1080.8,1708.2 1083.3,1713.6 1085.8,1719.2 1088.3,1725.2 1090.8,1731.8 1093.3,1739.3 1095.8,1747.6 1098.3,1756.8 1100.8,1766.8 1103.3,1777.5 1105.8,1788.8 1108.3,1799.9 1110.8,1810.7 1113.3,1821.1 1115.8,1831.1 1118.3,1840.8 1120.8,1850.0 1123.3,1858.8 1125.8,1867.0 1128.3,1874.4 1130.8,1881.2 1133.3,1887.5 1135.8,1893.2 1138.3,1898.4 1140.8,1903.2 1143.3,1907.6 1145.8,1911.8 1148.3,1915.7 1150.8,1919.6 1153.3,1923.2 1155.8,1926.6 1158.3,1929.6 1160.8,1932.2 1163.3,1934.5 1165.8,1936.6 1168.3,1938.5 1170.8,1940.3 1173.3,1942.0 1175.8,1943.6 1178.3,1945.1 1180.8,1946.6 1183.3,1947.9 1185.8,1949.2 1188.3,1950.3 1190.8,1951.3 1193.3,1952.1 1195.8,1953.0 1198.3,1953.8 1200.8,1954.6 1203.3,1955.4 1205.8,1956.3 1208.3,1957.3 1210.8,1958.3 1213.3,1959.3 1215.8,1960.4 1218.3,1961.3 1220.8,1962.3 1223.3,1963.2 1225.8,1964.2 1228.3,1965.1 1230.8,1965.9 1233.3,1966.6 1235.8,1967.1 1238.3,1967.6 1240.8,1968.1 1243.3,1968.4 1245.8,1968.7 1248.3,1968.9 1250.8,1969.0 1253.3,1968.9 1255.8,1968.9 1258.3,1968.8 1260.8,1968.7 1263.3,1968.6 1265.8,1968.4 1268.3,1968.2 1270.8,1968.0 1273.3,1967.7 1275.8,1967.4 1278.3,1967.2 1280.8,1966.9 1283.3,1966.7 1285.8,1966.4 1288.3,1966.2 1290.8,1966.1 1293.3,1966.1 1295.8,1966.2 1298.3,1966.5 1300.8,1966.9 1303.3,1967.2 1305.8,1967.6 1308.3,1968.0 1310.8,1968.4 1313.3,1968.8 1315.8,1969.1 1318.3,1969.3 1320.8,1969.5 1323.3,1969.6 1325.8,1969.7 1328.3,1969.8 1330.8,1969.9 1333.3,1969.9 1335.8,1970.0 1338.3,1970.0 1340.8,1970.0 1343.3,1970.0 1345.8,1970.0 1348.3,1970.0 1350.8,1970.0 1353.3,1970.0 1355.8,1970.0 1358.3,1970.0 1360.8,1970.0 1363.3,1970.1 1365.8,1970.2 1368.3,1970.3 1370.8,1970.4 1373.3,1970.6 1375.8,1970.7 1378.3,1970.9 1380.8,1971.0 1383.3,1971.2 1385.8,1971.4 1388.3,1971.5 1390.8,1971.7 1393.3,1971.8 1395.8,1971.9 1398.3,1972.0 1400.8,1972.0 1403.3,1971.9 1405.8,1971.8 1408.3,1971.7 1410.8,1971.6 1413.3,1971.4 1415.8,1971.3 1418.3,1971.1 1420.8,1971.0 1423.3,1970.9 1425.8,1970.8 1428.3,1970.7 1430.8,1970.7 1433.3,1970.5 1435.8,1970.4 1438.3,1970.0 1440.8,1969.3 1443.3,1968.8 1445.8,1968.6 1448.3,1968.7 1450.8,1968.8 1453.3,1969.0 1455.8,1969.3 1458.3,1969.7 1460.8,1970.2 1463.3,1970.7 1465.8,1971.3 1468.3,1971.8 1470.8,1972.3 1473.3,1972.7 1475.8,1973.1 1478.3,1973.5 1480.8,1973.8 1483.3,1974.2 1485.8,1974.5 1488.3,1974.9 1490.8,1975.3 1493.3,1975.8 1495.8,1976.2 1498.3,1976.7 1500.8,1977.2 1503.3,1977.5 1505.8,1977.8 1508.3,1977.9 1510.8,1978.0 1513.3,1977.9 1515.8,1977.9 1518.3,1977.8 1520.8,1977.8 1523.3,1977.7 1525.8,1977.6 1528.3,1977.5 1530.8,1977.4 1533.3,1977.4 1535.8,1977.3 1538.3,1977.2 1540.8,1977.1 1543.3,1977.1 1545.8,1977.0 1548.3,1977.0 1550.8,1977.1 1553.3,1977.2 1555.8,1977.3 1558.3,1977.5 1560.8,1977.7 1563.3,1978.0 1565.8,1978.2 1568.3,1978.4 1570.8,1978.6 1573.3,1978.8 1575.8,1979.0 1578.3,1979.2 1580.8,1979.4 1583.3,1979.6 1585.8,1979.8 1588.3,1980.0 1590.8,1980.1 1593.3,1980.3 1595.8,1980.4 1598.3,1980.5 1600.8,1980.7 1603.3,1980.8 1605.8,1980.9 1608.3,1981.0 1610.8,1981.0 1613.3,1981.1 1615.8,1981.1 1618.3,1981.2 1620.8,1981.2 1623.3,1981.3 1625.8,1981.3 1628.3,1981.3 1630.8,1981.4 1633.3,1981.4 1635.8,1981.5 1638.3,1981.5 1640.8,1981.5 1643.3,1981.6 1645.8,1981.6 1648.3,1981.7 1650.8,1981.7 1653.3,1981.7 1655.8,1981.8 1658.3,1981.8 1660.8,1981.9 1663.3,1981.9 1665.8,1981.9 1668.3,1982.0 1670.8,1982.0 1673.3,1982.1 1675.8,1982.1 1678.3,1982.2 1680.8,1982.2 1683.3,1982.3 1685.8,1982.3 1688.3,1982.3 1690.8,1982.4 1693.3,1982.4 1695.8,1982.5 1698.3,1982.5 1700.8,1982.5 1703.3,1982.6 1705.8,1982.6 1708.3,1982.6 1710.8,1982.6 1713.3,1982.7 1715.8,1982.7 1718.3,1982.7 1720.8,1982.7 1723.3,1982.7 1725.8,1982.8 1728.3,1982.8 1730.8,1982.8 1733.3,1982.8 1735.8,1982.9 1738.3,1982.9 1740.8,1982.9 1743.3,1982.9 1745.8,1983.0 1748.3,1983.0 1750.8,1983.0 1753.3,1983.1 1755.8,1983.1 1758.3,1983.1 1760.8,1983.2 1763.3,1983.2 1765.8,1983.3 1768.3,1983.3 1770.8,1983.4 1773.3,1983.4 1775.8,1983.5 1778.3,1983.6 1780.8,1983.6 1783.3,1983.7 1785.8,1983.7 1788.3,1983.8 1790.8,1983.8 1793.3,1983.9 1795.8,1983.9 1798.3,1984.0 1800.8,1984.0 1803.3,1984.1 1805.8,1984.1 1808.3,1984.2 1810.8,1984.2 1813.3,1984.3 1815.8,1984.3 1818.3,1984.4 1820.8,1984.4 1823.3,1984.5 1825.8,1984.5 1828.3,1984.6 1830.8,1984.6 1833.3,1984.7 1835.8,1984.7 1838.3,1984.8 1840.8,1984.8 1843.3,1984.9 1845.8,1984.9 1848.3,1985.0 1850.8,1985.0 1853.3,1985.1 1855.8,1985.2 1858.3,1985.2 1860.8,1985.3 1863.3,1985.4 1865.8,1985.4 1868.3,1985.5 1870.8,1985.6 1873.3,1985.7 1875.8,1985.7 1878.3,1985.8 1880.8,1985.9 1883.3,1986.0 1885.8,1986.1 1888.3,1986.1 1890.8,1986.2 1893.3,1986.3 1895.8,1986.4 1898.3,1986.5 1900.8,1986.6 1903.3,1986.7 1905.8,1986.8 1908.3,1986.9 1910.8,1987.0 1913.3,1987.1 1915.8,1987.3 1918.3,1987.4 1920.8,1987.5 1923.3,1987.7 1925.8,1987.8 1928.3,1987.9 1930.8,1988.0 1933.3,1988.1 1935.8,1988.2 1938.3,1988.3 1940.8,1988.4 1943.3,1988.4 1945.8,1988.5 1948.3,1988.5 1950.8,1988.4 1953.3,1988.3 1955.8,1988.1 1958.3,1987.9 1960.8,1987.6 1963.3,1987.4 1965.8,1987.1 1968.3,1986.9 1970.8,1986.7 1973.3,1986.7 1975.8,1986.6 1978.3,1986.6 1980.8,1986.6 1983.3,1986.6 1985.8,1986.6 1988.3,1986.6 1990.8,1986.6 1993.3,1986.6 1995.8,1986.6 1998.3,1986.6 2000.8,1986.6 2003.3,1986.6 2005.8,1986.6 2008.3,1986.6 2010.8,1986.6 2013.3,1986.6 2015.8,1986.6 2018.3,1986.6 2020.8,1986.6 2023.3,1986.6 2025.8,1986.6 2028.3,1986.6 2030.8,1986.6 2033.3,1986.6 2035.8,1986.6 2038.3,1986.6 2040.8,1986.6 2043.3,1986.6 2045.8,1986.6 2048.3,1986.6 2050.8,1986.6"/>
<path class="c" stroke="#00bf84" stroke-width="9.0" d="M243.3,1986.6 245.8,1986.6 248.3,1986.6 250.8,1986.6 253.3,1986.6 255.8,1986.6 258.3,1986.6 260.8,1986.6 263.3,1986.6 265.8,1986.6 268.3,1986.6 270.8,1986.6 273.3,1986.6 275.8,1986.6 278.3,1986.6 280.8,1986.6 283.3,1986.6 285.8,1986.6 288.3,1986.6 290.8,1986.6 293.3,1986.6 295.8,1986.6 298.3,1986.5 300.8,1986.5 303.3,1986.3 305.8,1985.9 308.3,1985.3 310.8,1984.3 313.3,1983.1 315.8,1981.7 318.3,1980.2 320.8,1978.5 323.3,1976.7 325.8,1974.5 328.3,1972.0 330.8,1969.1 333.3,1965.8 335.8,1962.2 338.3,1958.0 340.8,1953.2 343.3,1947.5 345.8,1941.0 348.3,1933.9 350.8,1926.2 353.3,1917.9 355.8,1908.8 358.3,1899.0 360.8,1888.7 363.3,1878.2 365.8,1867.8 368.3,1857.5 370.8,1847.1 373.3,1836.5 375.8,1825.3 378.3,1814.1 380.8,1804.1 383.3,1796.5 385.8,1791.6 388.3,1789.0 390.8,1788.6 393.3,1790.0 395.8,1793.4 398.3,1798.8 400.8,1806.0 403.3,1814.4 405.8,1823.7 408.3,1833.1 410.8,1842.0 413.3,1850.2 415.8,1857.4 418.3,1863.2 420.8,1867.2 423.3,1869.5 425.8,1870.2 428.3,1869.2 430.8,1866.5 433.3,1861.7 435.8,1853.9 438.3,1843.2 440.8,1829.8 443.3,1814.2 445.8,1797.3 448.3,1780.1 450.8,1762.8 453.3,1746.0 455.8,1729.9 458.3,1714.6 460.8,1700.5 463.3,1687.9 465.8,1676.8 468.3,1667.3 470.8,1659.6 473.3,1653.7 475.8,1649.6 478.3,1646.9 480.8,1645.4 483.3,1644.9 485.8,1645.1 488.3,1645.6 490.8,1646.4 493.3,1647.2 495.8,1647.9 498.3,1648.0 500.8,1647.3 503.3,1645.9 505.8,1644.2 508.3,1642.1 510.8,1639.9 513.3,1637.7 515.8,1635.9 518.3,1634.3 520.8,1633.2 523.3,1632.6 525.8,1632.3 528.3,1632.1 530.8,1632.1 533.3,1632.1 535.8,1632.2 538.3,1632.5 540.8,1632.7 543.3,1632.8 545.8,1632.8 548.3,1632.4 550.8,1631.7 553.3,1630.7 555.8,1629.4 558.3,1627.6 560.8,1625.4 563.3,1622.8 565.8,1619.6 568.3,1615.8 570.8,1611.4 573.3,1606.7 575.8,1601.9 578.3,1597.0 580.8,1592.1 583.3,1587.4 585.8,1583.1 588.3,1579.5 590.8,1577.0 593.3,1575.9 595.8,1576.1 598.3,1577.5 600.8,1579.8 603.3,1582.8 605.8,1586.1 608.3,1589.1 610.8,1591.3 613.3,1592.6 615.8,1592.7 618.3,1591.6 620.8,1589.5 623.3,1586.0 625.8,1581.1 628.3,1574.9 630.8,1567.9 633.3,1560.0 635.8,1551.7 638.3,1543.5 640.8,1535.7 643.3,1528.4 645.8,1522.2 648.3,1517.1 650.8,1513.5 653.3,1511.5 655.8,1510.8 658.3,1511.4 660.8,1513.6 663.3,1517.3 665.8,1522.7 668.3,1529.2 670.8,1536.2 673.3,1543.5 675.8,1550.9 678.3,1558.2 680.8,1565.3 683.3,1571.7 685.8,1577.1 688.3,1581.3 690.8,1584.0 693.3,1585.3 695.8,1585.2 698.3,1584.0 700.8,1581.7 703.3,1578.4 705.8,1574.2 708.3,1569.4 710.8,1564.5 713.3,1559.5 715.8,1554.6 718.3,1549.8 720.8,1545.2 723.3,1541.0 725.8,1537.9 728.3,1536.2 730.8,1535.7 733.3,1536.5 735.8,1538.7 738.3,1542.6 740.8,1548.6 743.3,1556.8 745.8,1566.9 748.3,1578.2 750.8,1589.6 753.3,1600.4 755.8,1610.0 758.3,1618.2 760.8,1624.7 763.3,1629.5 765.8,1632.4 768.3,1633.9 770.8,1634.6 773.3,1635.2 775.8,1636.0 778.3,1637.6 780.8,1641.0 783.3,1646.7 785.8,1654.3 788.3,1663.5 790.8,1673.9 793.3,1685.1 795.8,1696.9 798.3,1708.2 800.8,1718.1 803.3,1726.2 805.8,1732.1 808.3,1735.7 810.8,1737.4 813.3,1737.9 815.8,1737.4 818.3,1736.1 820.8,1734.8 823.3,1733.6 825.8,1732.8 828.3,1732.7 830.8,1733.8 833.3,1736.7 835.8,1741.7 838.3,1749.2 840.8,1759.0 843.3,1770.5 845.8,1783.2 848.3,1796.6 850.8,1810.1 853.3,1823.3 855.8,1836.0 858.3,1847.9 860.8,1858.9 863.3,1868.9 865.8,1877.9 868.3,1885.8 870.8,1892.5 873.3,1898.1 875.8,1902.3 878.3,1904.9 880.8,1906.1 883.3,1905.9 885.8,1903.9 888.3,1899.4 890.8,1891.3 893.3,1879.8 895.8,1866.2 898.3,1851.6 900.8,1836.4 903.3,1821.0 905.8,1805.7 908.3,1791.0 910.8,1777.4 913.3,1765.2 915.8,1755.2 918.3,1748.0 920.8,1743.4 923.3,1740.9 925.8,1740.1 928.3,1740.5 930.8,1742.4 933.3,1745.3 935.8,1749.1 938.3,1753.4 940.8,1757.9 943.3,1762.3 945.8,1766.3 948.3,1769.7 950.8,1772.1 953.3,1773.5 955.8,1773.9 958.3,1773.2 960.8,1771.2 963.3,1767.7 965.8,1762.1 968.3,1754.5 970.8,1745.4 973.3,1734.9 975.8,1722.7 978.3,1708.6 980.8,1692.1 983.3,1672.7 985.8,1651.0 988.3,1628.5 990.8,1606.3 993.3,1584.8 995.8,1564.5 998.3,1545.9 1000.8,1529.0 1003.3,1513.9 1005.8,1500.9 1008.3,1490.7 1010.8,1483.4 1013.3,1478.9 1015.8,1476.3 1018.3,1474.9 1020.8,1474.6 1023.3,1475.4 1025.8,1477.2 1028.3,1479.8 1030.8,1483.3 1033.3,1487.2 1035.8,1491.2 1038.3,1495.1 1040.8,1498.6 1043.3,1501.6 1045.8,1504.1 1048.3,1505.9 1050.8,1506.8 1053.3,1507.3 1055.8,1507.4 1058.3,1507.2 1060.8,1506.8 1063.3,1506.4 1065.8,1506.3 1068.3,1506.6 1070.8,1507.5 1073.3,1509.5 1075.8,1512.7 1078.3,1517.0 1080.8,1522.3 1083.3,1528.6 1085.8,1535.4 1088.3,1542.7 1090.8,1550.4 1093.3,1559.0 1095.8,1569.1 1098.3,1581.4 1100.8,1595.8 1103.3,1611.6 1105.8,1627.9 1108.3,1644.5 1110.8,1661.3 1113.3,1678.1 1115.8,1694.8 1118.3,1711.2 1120.8,1727.1 1123.3,1742.3 1125.8,1756.6 1128.3,1769.7 1130.8,1781.7 1133.3,1792.7 1135.8,1802.9 1138.3,1812.4 1140.8,1820.7 1143.3,1827.8 1145.8,1833.8 1148.3,1838.9 1150.8,1843.1 1153.3,1846.6 1155.8,1849.5 1158.3,1851.9 1160.8,1853.9 1163.3,1855.6 1165.8,1856.9 1168.3,1857.9 1170.8,1858.5 1173.3,1858.8 1175.8,1858.8 1178.3,1858.5 1180.8,1857.6 1183.3,1856.1 1185.8,1854.3 1188.3,1852.2 1190.8,1850.0 1193.3,1847.9 1195.8,1846.2 1198.3,1844.9 1200.8,1844.4 1203.3,1844.7 1205.8,1846.0 1208.3,1848.2 1210.8,1851.4 1213.3,1855.4 1215.8,1859.4 1218.3,1863.2 1220.8,1866.5 1223.3,1869.0 1225.8,1870.7 1228.3,1871.7 1230.8,1872.1 1233.3,1871.6 1235.8,1870.5 1238.3,1868.8 1240.8,1866.6 1243.3,1863.8 1245.8,1860.7 1248.3,1857.6 1250.8,1854.5 1253.3,1851.4 1255.8,1848.2 1258.3,1844.9 1260.8,1841.4 1263.3,1837.8 1265.8,1833.7 1268.3,1828.9 1270.8,1823.2 1273.3,1816.9 1275.8,1810.4 1278.3,1804.0 1280.8,1797.8 1283.3,1792.3 1285.8,1787.9 1288.3,1784.7 1290.8,1782.6 1293.3,1781.7 1295.8,1781.8 1298.3,1783.0 1300.8,1785.2 1303.3,1788.1 1305.8,1791.5 1308.3,1794.9 1310.8,1797.9 1313.3,1800.3 1315.8,1802.0 1318.3,1802.9 1320.8,1803.2 1323.3,1802.9 1325.8,1801.7 1328.3,1799.9 1330.8,1797.5 1333.3,1794.7 1335.8,1791.5 1338.3,1788.3 1340.8,1785.2 1343.3,1782.2 1345.8,1779.5 1348.3,1776.8 1350.8,1774.2 1353.3,1771.7 1355.8,1769.4 1358.3,1767.4 1360.8,1765.7 1363.3,1764.3 1365.8,1763.2 1368.3,1762.5 1370.8,1762.4 1373.3,1762.9 1375.8,1764.1 1378.3,1765.9 1380.8,1768.2 1383.3,1770.9 1385.8,1774.0 1388.3,1777.0 1390.8,1780.1 1393.3,1783.1 1395.8,1785.5 1398.3,1787.4 1400.8,1788.7 1403.3,1789.4 1405.8,1789.7 1408.3,1789.3 1410.8,1788.5 1413.3,1787.2 1415.8,1785.6 1418.3,1783.7 1420.8,1781.5 1423.3,1779.2 1425.8,1776.9 1428.3,1774.7 1430.8,1772.8 1433.3,1771.3 1435.8,1770.2 1438.3,1769.5 1440.8,1769.4 1443.3,1769.9 1445.8,1771.2 1448.3,1773.1 1450.8,1775.6 1453.3,1778.5 1455.8,1781.7 1458.3,1785.0 1460.8,1788.1 1463.3,1791.1 1465.8,1794.0 1468.3,1796.7 1470.8,1799.2 1473.3,1801.5 1475.8,1803.7 1478.3,1805.6 1480.8,1807.4 1483.3,1809.0 1485.8,1810.5 1488.3,1811.8 1490.8,1812.9 1493.3,1813.7 1495.8,1814.1 1498.3,1814.3 1500.8,1814.4 1503.3,1814.1 1505.8,1813.4 1508.3,1812.5 1510.8,1811.3 1513.3,1809.8 1515.8,1808.1 1518.3,1806.1 1520.8,1803.9 1523.3,1801.6 1525.8,1799.1 1528.3,1796.4 1530.8,1793.5 1533.3,1790.6 1535.8,1787.8 1538.3,1784.9 1540.8,1782.3 1543.3,1780.0 1545.8,1778.5 1548.3,1777.6 1550.8,1777.5 1553.3,1778.2 1555.8,1779.6 1558.3,1781.6 1560.8,1784.3 1563.3,1787.6 1565.8,1791.3 1568.3,1794.9 1570.8,1798.3 1573.3,1801.5 1575.8,1804.7 1578.3,1807.6 1580.8,1810.2 1583.3,1812.6 1585.8,1814.7 1588.3,1816.7 1590.8,1818.3 1593.3,1819.6 1595.8,1820.5 1598.3,1821.1 1600.8,1821.6 1603.3,1821.9 1605.8,1821.9 1608.3,1821.7 1610.8,1821.4 1613.3,1821.0 1615.8,1820.6 1618.3,1820.1 1620.8,1819.7 1623.3,1819.7 1625.8,1820.0 1628.3,1820.4 1630.8,1820.9 1633.3,1821.3 1635.8,1821.8 1638.3,1822.1 1640.8,1822.3 1643.3,1822.2 1645.8,1821.7 1648.3,1821.2 1650.8,1820.7 1653.3,1820.4 1655.8,1820.4 1658.3,1821.2 1660.8,1823.1 1663.3,1825.9 1665.8,1829.8 1668.3,1834.5 1670.8,1839.5 1673.3,1844.3 1675.8,1848.9 1678.3,1853.1 1680.8,1856.9 1683.3,1860.2 1685.8,1862.9 1688.3,1864.8 1690.8,1865.9 1693.3,1866.5 1695.8,1866.6 1698.3,1865.9 1700.8,1864.7 1703.3,1863.0 1705.8,1860.9 1708.3,1858.4 1710.8,1855.8 1713.3,1853.5 1715.8,1851.4 1718.3,1849.7 1720.8,1848.3 1723.3,1847.4 1725.8,1846.9 1728.3,1847.1 1730.8,1848.0 1733.3,1849.2 1735.8,1850.8 1738.3,1852.6 1740.8,1854.5 1743.3,1856.4 1745.8,1858.1 1748.3,1859.7 1750.8,1861.0 1753.3,1861.9 1755.8,1862.5 1758.3,1862.8 1760.8,1862.7 1763.3,1862.3 1765.8,1861.7 1768.3,1861.2 1770.8,1860.8 1773.3,1860.5 1775.8,1860.3 1778.3,1860.1 1780.8,1860.2 1783.3,1860.5 1785.8,1861.1 1788.3,1861.8 1790.8,1862.7 1793.3,1863.7 1795.8,1864.8 1798.3,1866.0 1800.8,1867.2 1803.3,1868.4 1805.8,1869.6 1808.3,1870.8 1810.8,1872.0 1813.3,1873.1 1815.8,1874.2 1818.3,1875.1 1820.8,1876.0 1823.3,1876.7 1825.8,1877.5 1828.3,1878.4 1830.8,1879.3 1833.3,1880.4 1835.8,1881.5 1838.3,1882.8 1840.8,1884.2 1843.3,1885.6 1845.8,1887.1 1848.3,1888.6 1850.8,1890.2 1853.3,1891.7 1855.8,1893.1 1858.3,1894.3 1860.8,1895.4 1863.3,1896.4 1865.8,1897.4 1868.3,1898.2 1870.8,1899.0 1873.3,1899.7 1875.8,1900.3 1878.3,1901.0 1880.8,1901.9 1883.3,1902.9 1885.8,1904.3 1888.3,1905.9 1890.8,1907.6 1893.3,1909.5 1895.8,1911.6 1898.3,1913.8 1900.8,1916.2 1903.3,1918.7 1905.8,1921.3 1908.3,1924.0 1910.8,1926.7 1913.3,1929.5 1915.8,1932.4 1918.3,1935.2 1920.8,1938.0 1923.3,1940.9 1925.8,1943.7 1928.3,1946.5 1930.8,1949.2 1933.3,1951.8 1935.8,1954.4 1938.3,1956.8 1940.8,1959.1 1943.3,1961.3 1945.8,1963.4 1948.3,1965.4 1950.8,1967.2 1953.3,1968.9 1955.8,1970.5 1958.3,1971.9 1960.8,1973.3 1963.3,1974.5 1965.8,1975.6 1968.3,1976.7 1970.8,1977.7 1973.3,1978.7 1975.8,1979.6 1978.3,1980.4 1980.8,1981.3 1983.3,1982.0 1985.8,1982.7 1988.3,1983.3 1990.8,1983.9 1993.3,1984.4 1995.8,1984.9 1998.3,1985.3 2000.8,1985.7 2003.3,1986.1 2005.8,1986.3 2008.3,1986.4 2010.8,1986.5 2013.3,1986.5 2015.8,1986.6 2018.3,1986.6 2020.8,1986.6 2023.3,1986.6 2025.8,1986.6 2028.3,1986.6 2030.8,1986.6 2033.3,1986.6 2035.8,1986.6 2038.3,1986.6 2040.8,1986.6 2043.3,1986.6 2045.8,1986.6 2048.3,1986.6 2050.8,1986.6"/>
</g>
<g clip-path="url(#cp3)">
<path class="c" stroke="#4d4d4d" stroke-width="9.0" d="M243.3,2637.2 245.8,2637.2 248.3,2637.2 250.8,2637.2 253.3,2637.2 255.8,2637.2 258.3,2637.2 260.8,2637.2 263.3,2637.2 265.8,2637.2 268.3,2637.2 270.8,2637.2 273.3,2637.2 275.8,2637.2 278.3,2637.2 280.8,2637.2 283.3,2637.2 285.8,2637.2 288.3,2637.2 290.8,2637.2 293.3,2637.2 295.8,2637.2 298.3,2637.2 300.8,2637.2 303.3,2637.2 305.8,2637.2 308.3,2637.2 310.8,2637.2 313.3,2637.2 315.8,2637.2 318.3,2637.1 320.8,2637.1 323.3,2637.1 325.8,2637.1 328.3,2637.1 330.8,2637.0 333.3,2636.9 335.8,2636.4 338.3,2635.1 340.8,2632.9 343.3,2629.9 345.8,2626.6 348.3,2623.3 350.8,2620.1 353.3,2617.0 355.8,2614.0 358.3,2610.8 360.8,2607.6 363.3,2604.4 365.8,2601.1 368.3,2597.7 370.8,2594.3 373.3,2591.0 375.8,2587.9 378.3,2585.1 380.8,2582.5 383.3,2580.1 385.8,2578.0 388.3,2576.2 390.8,2574.6 393.3,2573.4 395.8,2572.5 398.3,2571.9 400.8,2571.7 403.3,2571.9 405.8,2572.4 408.3,2573.1 410.8,2574.0 413.3,2575.1 415.8,2576.5 418.3,2578.0 420.8,2579.8 423.3,2581.7 425.8,2583.9 428.3,2586.3 430.8,2588.9 433.3,2591.8 435.8,2594.9 438.3,2598.1 440.8,2601.0 443.3,2603.6 445.8,2605.9 448.3,2607.9 450.8,2609.7 453.3,2611.4 455.8,2612.9 458.3,2614.2 460.8,2615.3 463.3,2616.2 465.8,2616.9 468.3,2617.5 470.8,2618.0 473.3,2618.4 475.8,2618.8 478.3,2619.1 480.8,2619.3 483.3,2619.5 485.8,2619.7 488.3,2619.8 490.8,2619.9 493.3,2620.0 495.8,2620.0 498.3,2619.9 500.8,2619.8 503.3,2619.7 505.8,2619.6 508.3,2619.4 510.8,2619.1 513.3,2618.8 515.8,2618.4 518.3,2617.8 520.8,2617.1 523.3,2616.3 525.8,2615.5 528.3,2614.7 530.8,2613.9 533.3,2613.0 535.8,2612.1 538.3,2611.3 540.8,2610.5 543.3,2609.8 545.8,2609.2 548.3,2608.7 550.8,2608.2 553.3,2607.8 555.8,2607.4 558.3,2607.1 560.8,2606.9 563.3,2606.7 565.8,2606.6 568.3,2606.6 570.8,2606.7 573.3,2606.8 575.8,2607.1 578.3,2607.3 580.8,2607.6 583.3,2607.9 585.8,2608.2 588.3,2608.5 590.8,2608.7 593.3,2608.9 595.8,2609.0 598.3,2608.9 600.8,2608.8 603.3,2608.7 605.8,2608.6 608.3,2608.5 610.8,2608.5 613.3,2608.5 615.8,2608.5 618.3,2608.5 620.8,2608.5 623.3,2608.6 625.8,2608.7 628.3,2609.0 630.8,2609.3 633.3,2609.7 635.8,2610.2 638.3,2610.9 640.8,2611.6 643.3,2612.4 645.8,2613.3 648.3,2614.0 650.8,2614.6 653.3,2615.2 655.8,2615.6 658.3,2616.1 660.8,2616.5 663.3,2616.8 665.8,2617.0 668.3,2617.2 670.8,2617.4 673.3,2617.6 675.8,2617.7 678.3,2617.9 680.8,2618.1 683.3,2618.4 685.8,2618.7 688.3,2619.0 690.8,2619.4 693.3,2619.7 695.8,2620.1 698.3,2620.5 700.8,2621.0 703.3,2621.4 705.8,2621.9 708.3,2622.3 710.8,2622.8 713.3,2623.2 715.8,2623.6 718.3,2624.0 720.8,2624.4 723.3,2624.8 725.8,2625.2 728.3,2625.6 730.8,2625.9 733.3,2626.3 735.8,2626.6 738.3,2626.8 740.8,2627.1 743.3,2627.3 745.8,2627.5 748.3,2627.7 750.8,2627.9 753.3,2628.1 755.8,2628.2 758.3,2628.3 760.8,2628.4 763.3,2628.5 765.8,2628.4 768.3,2628.3 770.8,2628.1 773.3,2627.8 775.8,2627.4 778.3,2627.1 780.8,2626.7 783.3,2626.3 785.8,2625.9 788.3,2625.5 790.8,2625.1 793.3,2624.6 795.8,2624.2 798.3,2623.8 800.8,2623.5 803.3,2623.2 805.8,2623.0 808.3,2622.8 810.8,2622.6 813.3,2622.4 815.8,2622.3 818.3,2622.2 820.8,2622.1 823.3,2622.0 825.8,2622.0 828.3,2622.1 830.8,2622.3 833.3,2622.5 835.8,2622.7 838.3,2622.9 840.8,2623.2 843.3,2623.4 845.8,2623.5 848.3,2623.7 850.8,2623.9 853.3,2624.0 855.8,2624.2 858.3,2624.3 860.8,2624.4 863.3,2624.5 865.8,2624.5 868.3,2624.4 870.8,2624.3 873.3,2624.1 875.8,2623.9 878.3,2623.6 880.8,2623.4 883.3,2623.2 885.8,2622.9 888.3,2622.7 890.8,2622.5 893.3,2622.2 895.8,2621.9 898.3,2621.7 900.8,2621.4 903.3,2621.1 905.8,2620.7 908.3,2620.3 910.8,2620.0 913.3,2619.6 915.8,2619.4 918.3,2619.1 920.8,2619.0 923.3,2618.9 925.8,2618.8 928.3,2618.7 930.8,2618.7 933.3,2618.6 935.8,2618.6 938.3,2618.5 940.8,2618.5 943.3,2618.4 945.8,2618.4 948.3,2618.3 950.8,2618.3 953.3,2618.2 955.8,2618.2 958.3,2618.0 960.8,2617.9 963.3,2617.6 965.8,2617.2 968.3,2616.7 970.8,2616.1 973.3,2615.4 975.8,2614.7 978.3,2613.9 980.8,2613.0 983.3,2612.1 985.8,2611.1 988.3,2610.1 990.8,2609.2 993.3,2608.4 995.8,2607.5 998.3,2606.7 1000.8,2606.0 1003.3,2605.4 1005.8,2604.9 1008.3,2604.5 1010.8,2604.2 1013.3,2603.9 1015.8,2603.7 1018.3,2603.6 1020.8,2603.5 1023.3,2603.6 1025.8,2603.6 1028.3,2603.7 1030.8,2603.8 1033.3,2603.9 1035.8,2603.9 1038.3,2604.0 1040.8,2604.0 1043.3,2603.9 1045.8,2603.8 1048.3,2603.7 1050.8,2603.5 1053.3,2603.4 1055.8,2603.2 1058.3,2603.1 1060.8,2603.0 1063.3,2602.9 1065.8,2602.8 1068.3,2602.7 1070.8,2602.6 1073.3,2602.5 1075.8,2602.6 1078.3,2602.7 1080.8,2602.9 1083.3,2603.1 1085.8,2603.3 1088.3,2603.4 1090.8,2603.5 1093.3,2603.5 1095.8,2603.5 1098.3,2603.5 1100.8,2603.5 1103.3,2603.5 1105.8,2603.5 1108.3,2603.3 1110.8,2603.2 1113.3,2602.9 1115.8,2602.6 1118.3,2602.2 1120.8,2601.9 1123.3,2601.4 1125.8,2600.9 1128.3,2600.3 1130.8,2599.7 1133.3,2599.0 1135.8,2598.2 1138.3,2597.2 1140.8,2596.2 1143.3,2595.0 1145.8,2593.9 1148.3,2592.7 1150.8,2591.7 1153.3,2590.6 1155.8,2589.6 1158.3,2588.7 1160.8,2588.0 1163.3,2587.4 1165.8,2587.0 1168.3,2586.7 1170.8,2586.4 1173.3,2586.2 1175.8,2585.9 1178.3,2585.7 1180.8,2585.5 1183.3,2585.3 1185.8,2585.1 1188.3,2585.1 1190.8,2585.0 1193.3,2585.0 1195.8,2585.0 1198.3,2585.0 1200.8,2585.0 1203.3,2585.0 1205.8,2585.1 1208.3,2585.2 1210.8,2585.5 1213.3,2585.9 1215.8,2586.3 1218.3,2586.7 1220.8,2587.1 1223.3,2587.6 1225.8,2588.1 1228.3,2588.6 1230.8,2589.1 1233.3,2589.6 1235.8,2590.2 1238.3,2590.7 1240.8,2591.3 1243.3,2591.8 1245.8,2592.3 1248.3,2592.7 1250.8,2593.1 1253.3,2593.4 1255.8,2593.6 1258.3,2593.8 1260.8,2593.9 1263.3,2593.9 1265.8,2593.8 1268.3,2593.6 1270.8,2593.4 1273.3,2593.2 1275.8,2592.9 1278.3,2592.7 1280.8,2592.5 1283.3,2592.3 1285.8,2592.2 1288.3,2592.1 1290.8,2592.0 1293.3,2592.0 1295.8,2592.0 1298.3,2592.0 1300.8,2592.0 1303.3,2592.0 1305.8,2592.0 1308.3,2592.0 1310.8,2592.0 1313.3,2592.1 1315.8,2592.1 1318.3,2592.2 1320.8,2592.3 1323.3,2592.4 1325.8,2592.4 1328.3,2592.5 1330.8,2592.5 1333.3,2592.4 1335.8,2592.2 1338.3,2592.0 1340.8,2591.8 1343.3,2591.6 1345.8,2591.5 1348.3,2591.3 1350.8,2591.2 1353.3,2591.1 1355.8,2591.1 1358.3,2591.2 1360.8,2591.4 1363.3,2591.7 1365.8,2592.0 1368.3,2592.3 1370.8,2592.6 1373.3,2592.8 1375.8,2593.0 1378.3,2593.2 1380.8,2593.3 1383.3,2593.4 1385.8,2593.5 1388.3,2593.4 1390.8,2593.3 1393.3,2593.2 1395.8,2593.1 1398.3,2593.0 1400.8,2593.0 1403.3,2593.1 1405.8,2593.2 1408.3,2593.4 1410.8,2593.7 1413.3,2594.0 1415.8,2594.6 1418.3,2595.2 1420.8,2595.9 1423.3,2596.6 1425.8,2597.2 1428.3,2597.8 1430.8,2598.5 1433.3,2599.1 1435.8,2599.7 1438.3,2600.2 1440.8,2600.6 1443.3,2601.0 1445.8,2601.2 1448.3,2601.4 1450.8,2601.5 1453.3,2601.4 1455.8,2601.4 1458.3,2601.3 1460.8,2601.3 1463.3,2601.2 1465.8,2601.1 1468.3,2601.0 1470.8,2600.9 1473.3,2600.9 1475.8,2600.8 1478.3,2600.7 1480.8,2600.6 1483.3,2600.6 1485.8,2600.5 1488.3,2600.5 1490.8,2600.5 1493.3,2600.6 1495.8,2600.6 1498.3,2600.7 1500.8,2600.8 1503.3,2601.0 1505.8,2601.2 1508.3,2601.5 1510.8,2602.0 1513.3,2602.4 1515.8,2602.9 1518.3,2603.4 1520.8,2603.8 1523.3,2604.2 1525.8,2604.6 1528.3,2604.9 1530.8,2605.2 1533.3,2605.4 1535.8,2605.6 1538.3,2605.7 1540.8,2605.8 1543.3,2605.8 1545.8,2605.9 1548.3,2606.0 1550.8,2606.0 1553.3,2606.1 1555.8,2606.2 1558.3,2606.2 1560.8,2606.3 1563.3,2606.3 1565.8,2606.4 1568.3,2606.5 1570.8,2606.6 1573.3,2606.8 1575.8,2607.1 1578.3,2607.4 1580.8,2607.6 1583.3,2607.9 1585.8,2608.2 1588.3,2608.5 1590.8,2608.8 1593.3,2609.0 1595.8,2609.3 1598.3,2609.4 1600.8,2609.6 1603.3,2609.6 1605.8,2609.7 1608.3,2609.7 1610.8,2609.8 1613.3,2609.8 1615.8,2609.9 1618.3,2610.0 1620.8,2610.1 1623.3,2610.2 1625.8,2610.4 1628.3,2610.5 1630.8,2610.7 1633.3,2611.0 1635.8,2611.2 1638.3,2611.5 1640.8,2611.8 1643.3,2612.2 1645.8,2612.5 1648.3,2612.9 1650.8,2613.3 1653.3,2613.6 1655.8,2614.0 1658.3,2614.4 1660.8,2614.8 1663.3,2615.2 1665.8,2615.5 1668.3,2615.9 1670.8,2616.2 1673.3,2616.6 1675.8,2616.9 1678.3,2617.2 1680.8,2617.5 1683.3,2617.8 1685.8,2618.1 1688.3,2618.4 1690.8,2618.7 1693.3,2619.0 1695.8,2619.2 1698.3,2619.5 1700.8,2619.8 1703.3,2620.0 1705.8,2620.2 1708.3,2620.4 1710.8,2620.6 1713.3,2620.8 1715.8,2621.0 1718.3,2621.1 1720.8,2621.3 1723.3,2621.4 1725.8,2621.6 1728.3,2621.7 1730.8,2621.8 1733.3,2622.0 1735.8,2622.1 1738.3,2622.2 1740.8,2622.3 1743.3,2622.4 1745.8,2622.5 1748.3,2622.5 1750.8,2622.6 1753.3,2622.7 1755.8,2622.8 1758.3,2623.0 1760.8,2623.1 1763.3,2623.3 1765.8,2623.4 1768.3,2623.6 1770.8,2623.8 1773.3,2624.0 1775.8,2624.3 1778.3,2624.5 1780.8,2624.7 1783.3,2624.9 1785.8,2625.2 1788.3,2625.4 1790.8,2625.7 1793.3,2625.9 1795.8,2626.2 1798.3,2626.5 1800.8,2626.7 1803.3,2627.0 1805.8,2627.2 1808.3,2627.4 1810.8,2627.6 1813.3,2627.8 1815.8,2628.0 1818.3,2628.2 1820.8,2628.3 1823.3,2628.5 1825.8,2628.6 1828.3,2628.8 1830.8,2628.9 1833.3,2629.0 1835.8,2629.0 1838.3,2629.1 1840.8,2629.2 1843.3,2629.2 1845.8,2629.3 1848.3,2629.3 1850.8,2629.4 1853.3,2629.4 1855.8,2629.4 1858.3,2629.5 1860.8,2629.5 1863.3,2629.6 1865.8,2629.6 1868.3,2629.7 1870.8,2629.7 1873.3,2629.7 1875.8,2629.8 1878.3,2629.8 1880.8,2629.8 1883.3,2629.9 1885.8,2629.9 1888.3,2630.0 1890.8,2630.0 1893.3,2630.1 1895.8,2630.2 1898.3,2630.2 1900.8,2630.3 1903.3,2630.4 1905.8,2630.4 1908.3,2630.5 1910.8,2630.6 1913.3,2630.6 1915.8,2630.7 1918.3,2630.8 1920.8,2630.9 1923.3,2631.0 1925.8,2631.1 1928.3,2631.1 1930.8,2631.2 1933.3,2631.3 1935.8,2631.4 1938.3,2631.5 1940.8,2631.6 1943.3,2631.7 1945.8,2631.8 1948.3,2631.9 1950.8,2632.1 1953.3,2632.2 1955.8,2632.3 1958.3,2632.5 1960.8,2632.7 1963.3,2632.9 1965.8,2633.1 1968.3,2633.4 1970.8,2633.8 1973.3,2634.1 1975.8,2634.5 1978.3,2634.9 1980.8,2635.3 1983.3,2635.6 1985.8,2635.9 1988.3,2636.2 1990.8,2636.5 1993.3,2636.7 1995.8,2636.9 1998.3,2637.0 2000.8,2637.0 2003.3,2637.0 2005.8,2637.1 2008.3,2637.1 2010.8,2637.1 2013.3,2637.1 2015.8,2637.1 2018.3,2637.1 2020.8,2637.2 2023.3,2637.2 2025.8,2637.2 2028.3,2637.2 2030.8,2637.2 2033.3,2637.2 2035.8,2637.2 2038.3,2637.2 2040.8,2637.2 2043.3,2637.2 2045.8,2637.2 2048.3,2637.2 2050.8,2637.2"/>
<path class="c" stroke="#ff3b3b" stroke-width="9.0" d="M243.3,2637.2 245.8,2637.2 248.3,2637.2 250.8,2637.2 253.3,2637.2 255.8,2637.2 258.3,2637.2 260.8,2637.2 263.3,2637.2 265.8,2637.2 268.3,2637.2 270.8,2637.2 273.3,2637.2 275.8,2637.2 278.3,2637.2 280.8,2637.2 283.3,2637.2 285.8,2637.2 288.3,2637.2 290.8,2637.2 293.3,2637.2 295.8,2637.2 298.3,2637.2 300.8,2637.2 303.3,2637.2 305.8,2637.2 308.3,2637.2 310.8,2637.2 313.3,2637.1 315.8,2637.1 318.3,2637.1 320.8,2637.1 323.3,2637.1 325.8,2637.0 328.3,2637.0 330.8,2636.7 333.3,2636.0 335.8,2634.9 338.3,2633.2 340.8,2631.2 343.3,2628.9 345.8,2626.4 348.3,2623.4 350.8,2619.8 353.3,2615.5 355.8,2610.6 358.3,2605.2 360.8,2599.1 363.3,2592.2 365.8,2584.6 368.3,2576.5 370.8,2568.2 373.3,2559.6 375.8,2550.7 378.3,2541.5 380.8,2532.1 383.3,2523.0 385.8,2515.4 388.3,2509.8 390.8,2505.9 393.3,2503.3 395.8,2501.6 398.3,2500.6 400.8,2500.1 403.3,2500.0 405.8,2500.0 408.3,2500.0 410.8,2500.1 413.3,2500.2 415.8,2500.5 418.3,2500.7 420.8,2500.9 423.3,2500.9 425.8,2500.8 428.3,2500.6 430.8,2500.2 433.3,2499.6 435.8,2498.5 438.3,2497.0 440.8,2494.9 443.3,2492.1 445.8,2488.5 448.3,2484.1 450.8,2478.8 453.3,2472.7 455.8,2466.0 458.3,2458.8 460.8,2451.2 463.3,2443.5 465.8,2435.8 468.3,2428.5 470.8,2421.9 473.3,2416.2 475.8,2411.6 478.3,2408.1 480.8,2405.7 483.3,2404.2 485.8,2403.5 488.3,2403.7 490.8,2404.8 493.3,2406.6 495.8,2409.0 498.3,2411.9 500.8,2414.9 503.3,2417.8 505.8,2420.5 508.3,2422.8 510.8,2424.6 513.3,2425.8 515.8,2426.4 518.3,2426.2 520.8,2424.8 523.3,2422.2 525.8,2418.2 528.3,2412.8 530.8,2406.1 533.3,2398.4 535.8,2389.9 538.3,2381.0 540.8,2372.0 543.3,2363.1 545.8,2354.4 548.3,2346.1 550.8,2338.4 553.3,2331.6 555.8,2326.1 558.3,2322.0 560.8,2318.9 563.3,2316.9 565.8,2315.8 568.3,2315.9 570.8,2317.2 573.3,2319.5 575.8,2322.3 578.3,2325.5 580.8,2328.8 583.3,2331.6 585.8,2334.0 588.3,2335.8 590.8,2336.8 593.3,2336.9 595.8,2335.7 598.3,2333.0 600.8,2329.0 603.3,2323.8 605.8,2317.8 608.3,2311.3 610.8,2304.6 613.3,2298.0 615.8,2291.8 618.3,2286.0 620.8,2280.9 623.3,2276.6 625.8,2273.1 628.3,2270.3 630.8,2268.3 633.3,2266.9 635.8,2266.1 638.3,2266.0 640.8,2266.7 643.3,2268.3 645.8,2270.4 648.3,2272.9 650.8,2275.6 653.3,2278.3 655.8,2280.9 658.3,2283.3 660.8,2285.5 663.3,2287.3 665.8,2288.9 668.3,2290.3 670.8,2291.5 673.3,2292.8 675.8,2294.4 678.3,2296.5 680.8,2299.2 683.3,2302.3 685.8,2305.7 688.3,2309.4 690.8,2313.0 693.3,2316.4 695.8,2319.6 698.3,2322.6 700.8,2325.2 703.3,2327.6 705.8,2329.6 708.3,2331.3 710.8,2332.7 713.3,2333.9 715.8,2335.2 718.3,2336.6 720.8,2338.1 723.3,2339.9 725.8,2342.1 728.3,2345.0 730.8,2348.8 733.3,2353.3 735.8,2358.3 738.3,2363.5 740.8,2369.1 743.3,2375.1 745.8,2381.9 748.3,2389.6 750.8,2398.0 753.3,2406.7 755.8,2415.3 758.3,2423.7 760.8,2432.1 763.3,2440.3 765.8,2448.5 768.3,2456.6 770.8,2464.7 773.3,2472.7 775.8,2480.5 778.3,2488.0 780.8,2494.7 783.3,2500.7 785.8,2505.9 788.3,2510.5 790.8,2514.4 793.3,2517.8 795.8,2520.6 798.3,2523.0 800.8,2524.9 803.3,2526.5 805.8,2528.0 808.3,2529.2 810.8,2530.2 813.3,2531.0 815.8,2531.8 818.3,2532.5 820.8,2533.3 823.3,2534.2 825.8,2535.1 828.3,2536.3 830.8,2537.7 833.3,2539.6 835.8,2541.8 838.3,2544.3 840.8,2547.0 843.3,2550.0 845.8,2553.2 848.3,2556.4 850.8,2559.4 853.3,2562.3 855.8,2565.0 858.3,2567.1 860.8,2568.6 863.3,2569.6 865.8,2570.3 868.3,2570.7 870.8,2570.9 873.3,2570.8 875.8,2570.6 878.3,2570.4 880.8,2570.2 883.3,2570.0 885.8,2569.8 888.3,2569.7 890.8,2569.6 893.3,2569.9 895.8,2570.5 898.3,2571.3 900.8,2572.1 903.3,2572.7 905.8,2573.1 908.3,2573.6 910.8,2573.9 913.3,2574.3 915.8,2574.6 918.3,2574.8 920.8,2575.1 923.3,2575.3 925.8,2575.5 928.3,2575.8 930.8,2576.2 933.3,2576.7 935.8,2577.4 938.3,2578.1 940.8,2578.9 943.3,2579.9 945.8,2580.9 948.3,2582.0 950.8,2583.1 953.3,2584.3 955.8,2585.3 958.3,2586.4 960.8,2587.3 963.3,2588.0 965.8,2588.5 968.3,2588.8 970.8,2588.9 973.3,2588.7 975.8,2588.1 978.3,2587.1 980.8,2585.9 983.3,2584.2 985.8,2582.3 988.3,2580.0 990.8,2577.4 993.3,2574.7 995.8,2571.8 998.3,2568.7 1000.8,2565.4 1003.3,2562.0 1005.8,2558.6 1008.3,2555.0 1010.8,2551.6 1013.3,2548.2 1015.8,2544.9 1018.3,2541.9 1020.8,2539.0 1023.3,2536.4 1025.8,2534.0 1028.3,2532.0 1030.8,2530.3 1033.3,2529.1 1035.8,2528.1 1038.3,2527.3 1040.8,2526.5 1043.3,2525.8 1045.8,2525.1 1048.3,2524.4 1050.8,2523.7 1053.3,2523.0 1055.8,2522.2 1058.3,2521.5 1060.8,2520.6 1063.3,2519.8 1065.8,2519.0 1068.3,2518.3 1070.8,2517.5 1073.3,2516.7 1075.8,2516.0 1078.3,2515.4 1080.8,2514.9 1083.3,2514.4 1085.8,2513.9 1088.3,2513.7 1090.8,2513.5 1093.3,2513.5 1095.8,2513.5 1098.3,2513.6 1100.8,2513.7 1103.3,2514.1 1105.8,2514.6 1108.3,2515.4 1110.8,2516.3 1113.3,2517.4 1115.8,2518.7 1118.3,2519.9 1120.8,2521.0 1123.3,2522.2 1125.8,2523.3 1128.3,2524.3 1130.8,2525.2 1133.3,2526.0 1135.8,2526.6 1138.3,2527.0 1140.8,2527.2 1143.3,2527.4 1145.8,2527.4 1148.3,2527.5 1150.8,2527.4 1153.3,2527.3 1155.8,2527.2 1158.3,2527.1 1160.8,2527.1 1163.3,2527.1 1165.8,2527.2 1168.3,2527.3 1170.8,2527.4 1173.3,2527.5 1175.8,2527.5 1178.3,2527.5 1180.8,2527.5 1183.3,2527.3 1185.8,2526.9 1188.3,2526.3 1190.8,2525.5 1193.3,2524.8 1195.8,2524.0 1198.3,2523.2 1200.8,2522.4 1203.3,2521.6 1205.8,2520.8 1208.3,2520.0 1210.8,2519.2 1213.3,2518.4 1215.8,2517.6 1218.3,2516.7 1220.8,2515.8 1223.3,2514.8 1225.8,2513.8 1228.3,2512.7 1230.8,2511.6 1233.3,2510.5 1235.8,2509.2 1238.3,2507.9 1240.8,2506.5 1243.3,2504.9 1245.8,2503.2 1248.3,2501.3 1250.8,2499.1 1253.3,2496.6 1255.8,2493.7 1258.3,2490.6 1260.8,2487.2 1263.3,2483.6 1265.8,2479.8 1268.3,2476.0 1270.8,2472.6 1273.3,2469.4 1275.8,2466.4 1278.3,2463.8 1280.8,2461.4 1283.3,2459.3 1285.8,2457.5 1288.3,2456.0 1290.8,2454.9 1293.3,2454.0 1295.8,2453.4 1298.3,2452.8 1300.8,2452.3 1303.3,2451.9 1305.8,2451.4 1308.3,2451.0 1310.8,2450.6 1313.3,2450.2 1315.8,2449.8 1318.3,2449.3 1320.8,2448.7 1323.3,2448.0 1325.8,2447.3 1328.3,2446.5 1330.8,2445.6 1333.3,2444.6 1335.8,2443.5 1338.3,2442.5 1340.8,2441.6 1343.3,2440.9 1345.8,2440.3 1348.3,2439.9 1350.8,2439.7 1353.3,2439.7 1355.8,2439.9 1358.3,2440.2 1360.8,2440.7 1363.3,2441.2 1365.8,2441.7 1368.3,2442.2 1370.8,2442.7 1373.3,2443.2 1375.8,2443.6 1378.3,2443.9 1380.8,2444.2 1383.3,2444.4 1385.8,2444.3 1388.3,2444.0 1390.8,2443.5 1393.3,2442.9 1395.8,2442.4 1398.3,2441.9 1400.8,2441.6 1403.3,2441.4 1405.8,2441.2 1408.3,2441.1 1410.8,2441.3 1413.3,2441.6 1415.8,2442.3 1418.3,2443.0 1420.8,2443.9 1423.3,2444.9 1425.8,2446.1 1428.3,2447.3 1430.8,2448.6 1433.3,2449.8 1435.8,2451.0 1438.3,2452.1 1440.8,2453.2 1443.3,2454.4 1445.8,2455.5 1448.3,2456.7 1450.8,2457.7 1453.3,2458.7 1455.8,2459.6 1458.3,2460.4 1460.8,2461.1 1463.3,2461.8 1465.8,2462.4 1468.3,2462.9 1470.8,2463.4 1473.3,2463.7 1475.8,2463.9 1478.3,2464.0 1480.8,2464.0 1483.3,2464.0 1485.8,2464.0 1488.3,2464.0 1490.8,2464.1 1493.3,2464.2 1495.8,2464.6 1498.3,2465.2 1500.8,2466.0 1503.3,2466.8 1505.8,2467.8 1508.3,2468.9 1510.8,2470.1 1513.3,2471.5 1515.8,2472.8 1518.3,2474.1 1520.8,2475.3 1523.3,2476.5 1525.8,2477.6 1528.3,2478.7 1530.8,2479.7 1533.3,2480.7 1535.8,2481.7 1538.3,2482.6 1540.8,2483.5 1543.3,2484.3 1545.8,2485.1 1548.3,2485.8 1550.8,2486.4 1553.3,2486.9 1555.8,2487.4 1558.3,2487.9 1560.8,2488.3 1563.3,2488.9 1565.8,2489.5 1568.3,2490.1 1570.8,2490.8 1573.3,2491.5 1575.8,2492.3 1578.3,2493.2 1580.8,2494.1 1583.3,2495.1 1585.8,2496.0 1588.3,2496.7 1590.8,2497.4 1593.3,2497.9 1595.8,2498.2 1598.3,2498.3 1600.8,2497.9 1603.3,2497.4 1605.8,2496.7 1608.3,2496.2 1610.8,2495.8 1613.3,2495.5 1615.8,2495.3 1618.3,2495.1 1620.8,2495.1 1623.3,2495.4 1625.8,2496.1 1628.3,2497.1 1630.8,2498.2 1633.3,2499.4 1635.8,2500.8 1638.3,2502.3 1640.8,2503.9 1643.3,2505.5 1645.8,2507.0 1648.3,2508.5 1650.8,2510.0 1653.3,2511.4 1655.8,2512.9 1658.3,2514.3 1660.8,2515.6 1663.3,2516.9 1665.8,2518.2 1668.3,2519.5 1670.8,2520.8 1673.3,2522.0 1675.8,2523.1 1678.3,2524.2 1680.8,2525.2 1683.3,2526.1 1685.8,2527.0 1688.3,2527.9 1690.8,2528.7 1693.3,2529.5 1695.8,2530.2 1698.3,2530.8 1700.8,2531.4 1703.3,2531.9 1705.8,2532.3 1708.3,2532.8 1710.8,2533.2 1713.3,2533.6 1715.8,2534.0 1718.3,2534.4 1720.8,2534.8 1723.3,2535.2 1725.8,2535.6 1728.3,2536.0 1730.8,2536.3 1733.3,2536.7 1735.8,2537.1 1738.3,2537.4 1740.8,2537.7 1743.3,2538.0 1745.8,2538.3 1748.3,2538.6 1750.8,2538.9 1753.3,2539.2 1755.8,2539.5 1758.3,2539.9 1760.8,2540.3 1763.3,2540.8 1765.8,2541.4 1768.3,2542.0 1770.8,2542.6 1773.3,2543.3 1775.8,2544.2 1778.3,2545.1 1780.8,2546.1 1783.3,2547.2 1785.8,2548.2 1788.3,2549.2 1790.8,2550.1 1793.3,2550.9 1795.8,2551.7 1798.3,2552.5 1800.8,2553.3 1803.3,2554.0 1805.8,2554.8 1808.3,2555.5 1810.8,2556.3 1813.3,2557.1 1815.8,2557.8 1818.3,2558.5 1820.8,2559.2 1823.3,2559.8 1825.8,2560.4 1828.3,2561.1 1830.8,2561.6 1833.3,2562.2 1835.8,2562.6 1838.3,2562.9 1840.8,2563.1 1843.3,2563.2 1845.8,2563.3 1848.3,2563.3 1850.8,2563.4 1853.3,2563.5 1855.8,2563.6 1858.3,2563.7 1860.8,2563.9 1863.3,2564.0 1865.8,2564.2 1868.3,2564.5 1870.8,2564.8 1873.3,2565.4 1875.8,2566.0 1878.3,2566.7 1880.8,2567.5 1883.3,2568.3 1885.8,2569.1 1888.3,2569.9 1890.8,2570.7 1893.3,2571.6 1895.8,2572.4 1898.3,2573.2 1900.8,2573.8 1903.3,2574.3 1905.8,2574.7 1908.3,2575.0 1910.8,2575.3 1913.3,2575.5 1915.8,2575.7 1918.3,2575.9 1920.8,2576.1 1923.3,2576.4 1925.8,2576.8 1928.3,2577.2 1930.8,2577.7 1933.3,2578.3 1935.8,2578.9 1938.3,2579.5 1940.8,2580.1 1943.3,2580.8 1945.8,2581.5 1948.3,2582.2 1950.8,2582.9 1953.3,2583.8 1955.8,2584.7 1958.3,2585.8 1960.8,2587.1 1963.3,2588.8 1965.8,2590.8 1968.3,2593.0 1970.8,2595.6 1973.3,2598.6 1975.8,2601.8 1978.3,2605.0 1980.8,2608.2 1983.3,2611.4 1985.8,2614.5 1988.3,2617.7 1990.8,2620.9 1993.3,2624.3 1995.8,2627.4 1998.3,2630.1 2000.8,2632.4 2003.3,2634.3 2005.8,2635.7 2008.3,2636.6 2010.8,2637.0 2013.3,2637.0 2015.8,2637.1 2018.3,2637.1 2020.8,2637.1 2023.3,2637.1 2025.8,2637.1 2028.3,2637.2 2030.8,2637.2 2033.3,2637.2 2035.8,2637.2 2038.3,2637.2 2040.8,2637.2 2043.3,2637.2 2045.8,2637.2 2048.3,2637.2 2050.8,2637.2"/>
<path class="c" stroke="#0066e6" stroke-width="9.0" d="M243.3,2637.2 245.8,2637.2 248.3,2637.2 250.8,2637.2 253.3,2637.2 255.8,2637.2 258.3,2637.2 260.8,2637.2 263.3,2637.2 265.8,2637.2 268.3,2637.2 270.8,2637.2 273.3,2637.2 275.8,2637.2 278.3,2637.2 280.8,2637.2 283.3,2637.2 285.8,2637.2 288.3,2637.2 290.8,2637.2 293.3,2637.2 295.8,2637.2 298.3,2637.2 300.8,2637.2 303.3,2637.2 305.8,2637.2 308.3,2637.2 310.8,2637.2 313.3,2637.2 315.8,2637.2 318.3,2637.2 320.8,2637.2 323.3,2637.2 325.8,2637.2 328.3,2637.2 330.8,2637.2 333.3,2637.2 335.8,2637.1 338.3,2637.1 340.8,2637.1 343.3,2637.1 345.8,2637.1 348.3,2637.0 350.8,2637.0 353.3,2636.8 355.8,2636.3 358.3,2635.4 360.8,2634.3 363.3,2633.0 365.8,2631.6 368.3,2630.4 370.8,2629.2 373.3,2628.1 375.8,2627.0 378.3,2626.0 380.8,2625.0 383.3,2624.1 385.8,2623.3 388.3,2622.6 390.8,2621.9 393.3,2621.2 395.8,2620.7 398.3,2620.3 400.8,2619.9 403.3,2619.7 405.8,2619.5 408.3,2619.3 410.8,2619.1 413.3,2619.0 415.8,2619.0 418.3,2619.0 420.8,2619.0 423.3,2619.0 425.8,2619.0 428.3,2619.0 430.8,2619.0 433.3,2619.0 435.8,2619.0 438.3,2618.8 440.8,2618.7 443.3,2618.4 445.8,2618.1 448.3,2617.7 450.8,2617.3 453.3,2616.8 455.8,2616.2 458.3,2615.5 460.8,2614.7 463.3,2614.0 465.8,2613.3 468.3,2612.5 470.8,2611.8 473.3,2611.1 475.8,2610.4 478.3,2609.9 480.8,2609.4 483.3,2609.1 485.8,2608.8 488.3,2608.6 490.8,2608.3 493.3,2608.1 495.8,2608.0 498.3,2607.8 500.8,2607.7 503.3,2607.5 505.8,2607.4 508.3,2607.1 510.8,2606.7 513.3,2606.1 515.8,2605.3 518.3,2604.2 520.8,2602.9 523.3,2601.3 525.8,2599.5 528.3,2597.4 530.8,2595.2 533.3,2592.9 535.8,2590.4 538.3,2587.8 540.8,2585.2 543.3,2582.6 545.8,2580.0 548.3,2577.4 550.8,2574.8 553.3,2572.5 555.8,2570.5 558.3,2568.6 560.8,2567.1 563.3,2565.8 565.8,2565.0 568.3,2564.4 570.8,2564.0 573.3,2563.7 575.8,2563.5 578.3,2563.3 580.8,2563.1 583.3,2563.0 585.8,2562.9 588.3,2562.6 590.8,2562.0 593.3,2561.0 595.8,2559.5 598.3,2557.7 600.8,2555.5 603.3,2553.0 605.8,2550.3 608.3,2547.6 610.8,2545.0 613.3,2542.4 615.8,2540.1 618.3,2538.1 620.8,2536.5 623.3,2535.2 625.8,2534.1 628.3,2533.4 630.8,2533.0 633.3,2532.7 635.8,2532.8 638.3,2533.4 640.8,2534.3 643.3,2535.4 645.8,2536.7 648.3,2537.9 650.8,2539.2 653.3,2540.2 655.8,2541.1 658.3,2541.9 660.8,2542.6 663.3,2543.1 665.8,2543.6 668.3,2543.9 670.8,2544.1 673.3,2544.3 675.8,2544.6 678.3,2544.8 680.8,2545.2 683.3,2545.6 685.8,2546.1 688.3,2546.6 690.8,2547.2 693.3,2547.7 695.8,2548.1 698.3,2548.5 700.8,2548.9 703.3,2549.2 705.8,2549.4 708.3,2549.4 710.8,2549.3 713.3,2549.1 715.8,2548.9 718.3,2548.7 720.8,2548.5 723.3,2548.3 725.8,2548.2 728.3,2548.1 730.8,2548.1 733.3,2548.1 735.8,2548.3 738.3,2548.6 740.8,2549.1 743.3,2549.7 745.8,2550.3 748.3,2551.1 750.8,2552.1 753.3,2552.9 755.8,2553.6 758.3,2554.1 760.8,2554.2 763.3,2553.7 765.8,2552.5 768.3,2550.4 770.8,2547.2 773.3,2543.0 775.8,2538.0 778.3,2532.4 780.8,2526.1 783.3,2518.9 785.8,2510.6 788.3,2501.1 790.8,2491.0 793.3,2480.8 795.8,2470.8 798.3,2460.7 800.8,2450.7 803.3,2441.0 805.8,2432.3 808.3,2425.1 810.8,2419.4 813.3,2415.5 815.8,2413.0 818.3,2411.3 820.8,2410.3 823.3,2409.7 825.8,2409.6 828.3,2410.0 830.8,2411.3 833.3,2414.0 835.8,2418.4 838.3,2424.1 840.8,2430.3 843.3,2436.4 845.8,2442.1 848.3,2447.3 850.8,2452.0 853.3,2455.9 855.8,2458.9 858.3,2461.2 860.8,2462.6 863.3,2463.3 865.8,2463.4 868.3,2463.1 870.8,2462.2 873.3,2460.9 875.8,2459.4 878.3,2457.6 880.8,2456.1 883.3,2455.0 885.8,2454.3 888.3,2453.7 890.8,2453.3 893.3,2453.0 895.8,2452.7 898.3,2452.6 900.8,2452.7 903.3,2452.9 905.8,2453.2 908.3,2453.0 910.8,2452.3 913.3,2450.9 915.8,2449.1 918.3,2446.9 920.8,2444.3 923.3,2441.8 925.8,2439.6 928.3,2437.8 930.8,2436.4 933.3,2435.6 935.8,2435.7 938.3,2436.8 940.8,2438.8 943.3,2441.9 945.8,2445.9 948.3,2450.4 950.8,2454.7 953.3,2458.7 955.8,2462.6 958.3,2466.1 960.8,2469.3 963.3,2472.2 965.8,2474.5 968.3,2476.0 970.8,2476.9 973.3,2476.9 975.8,2476.1 978.3,2474.5 980.8,2472.0 983.3,2468.4 985.8,2463.8 988.3,2458.5 990.8,2452.6 993.3,2446.1 995.8,2439.0 998.3,2431.3 1000.8,2423.1 1003.3,2414.3 1005.8,2405.4 1008.3,2396.5 1010.8,2387.8 1013.3,2378.9 1015.8,2369.8 1018.3,2361.2 1020.8,2353.9 1023.3,2348.3 1025.8,2344.5 1028.3,2342.1 1030.8,2340.8 1033.3,2340.0 1035.8,2339.7 1038.3,2339.8 1040.8,2340.4 1043.3,2341.3 1045.8,2342.3 1048.3,2343.5 1050.8,2344.7 1053.3,2346.1 1055.8,2347.7 1058.3,2349.6 1060.8,2351.9 1063.3,2354.3 1065.8,2357.0 1068.3,2359.9 1070.8,2363.0 1073.3,2366.3 1075.8,2369.6 1078.3,2373.0 1080.8,2376.5 1083.3,2379.7 1085.8,2382.7 1088.3,2385.3 1090.8,2387.8 1093.3,2390.3 1095.8,2393.0 1098.3,2395.8 1100.8,2398.8 1103.3,2402.1 1105.8,2405.6 1108.3,2409.5 1110.8,2413.7 1113.3,2418.3 1115.8,2423.2 1118.3,2428.4 1120.8,2434.0 1123.3,2439.9 1125.8,2446.3 1128.3,2452.9 1130.8,2459.9 1133.3,2467.4 1135.8,2474.9 1138.3,2482.3 1140.8,2489.4 1143.3,2496.0 1145.8,2502.2 1148.3,2508.1 1150.8,2513.5 1153.3,2518.6 1155.8,2523.3 1158.3,2527.8 1160.8,2532.2 1163.3,2536.4 1165.8,2540.5 1168.3,2544.6 1170.8,2548.7 1173.3,2552.9 1175.8,2557.0 1178.3,2560.9 1180.8,2564.7 1183.3,2568.4 1185.8,2572.0 1188.3,2575.2 1190.8,2578.2 1193.3,2580.9 1195.8,2583.3 1198.3,2585.6 1200.8,2587.7 1203.3,2589.7 1205.8,2591.5 1208.3,2593.2 1210.8,2594.9 1213.3,2596.4 1215.8,2597.8 1218.3,2599.1 1220.8,2600.3 1223.3,2601.5 1225.8,2602.6 1228.3,2603.6 1230.8,2604.5 1233.3,2605.4 1235.8,2606.2 1238.3,2607.0 1240.8,2607.8 1243.3,2608.5 1245.8,2609.1 1248.3,2609.6 1250.8,2610.1 1253.3,2610.5 1255.8,2610.9 1258.3,2611.2 1260.8,2611.5 1263.3,2611.8 1265.8,2612.1 1268.3,2612.3 1270.8,2612.6 1273.3,2612.8 1275.8,2613.0 1278.3,2613.2 1280.8,2613.3 1283.3,2613.5 1285.8,2613.7 1288.3,2613.9 1290.8,2614.1 1293.3,2614.3 1295.8,2614.5 1298.3,2614.7 1300.8,2614.9 1303.3,2615.1 1305.8,2615.3 1308.3,2615.5 1310.8,2615.7 1313.3,2615.9 1315.8,2616.1 1318.3,2616.2 1320.8,2616.4 1323.3,2616.5 1325.8,2616.7 1328.3,2616.9 1330.8,2617.0 1333.3,2617.1 1335.8,2617.3 1338.3,2617.4 1340.8,2617.5 1343.3,2617.7 1345.8,2617.8 1348.3,2617.9 1350.8,2618.0 1353.3,2618.1 1355.8,2618.2 1358.3,2618.3 1360.8,2618.4 1363.3,2618.4 1365.8,2618.5 1368.3,2618.6 1370.8,2618.6 1373.3,2618.7 1375.8,2618.7 1378.3,2618.8 1380.8,2618.8 1383.3,2618.9 1385.8,2618.9 1388.3,2619.0 1390.8,2619.0 1393.3,2619.1 1395.8,2619.1 1398.3,2619.1 1400.8,2619.2 1403.3,2619.2 1405.8,2619.3 1408.3,2619.3 1410.8,2619.4 1413.3,2619.5 1415.8,2619.5 1418.3,2619.7 1420.8,2619.8 1423.3,2620.0 1425.8,2620.2 1428.3,2620.4 1430.8,2620.6 1433.3,2620.8 1435.8,2620.9 1438.3,2620.9 1440.8,2620.9 1443.3,2620.8 1445.8,2620.7 1448.3,2620.6 1450.8,2620.5 1453.3,2620.6 1455.8,2620.6 1458.3,2620.7 1460.8,2620.8 1463.3,2621.0 1465.8,2621.1 1468.3,2621.2 1470.8,2621.4 1473.3,2621.5 1475.8,2621.6 1478.3,2621.7 1480.8,2621.8 1483.3,2621.8 1485.8,2621.9 1488.3,2622.0 1490.8,2622.1 1493.3,2622.2 1495.8,2622.3 1498.3,2622.5 1500.8,2622.6 1503.3,2622.8 1505.8,2623.0 1508.3,2623.2 1510.8,2623.4 1513.3,2623.6 1515.8,2623.8 1518.3,2624.0 1520.8,2624.2 1523.3,2624.4 1525.8,2624.6 1528.3,2624.9 1530.8,2625.1 1533.3,2625.3 1535.8,2625.5 1538.3,2625.7 1540.8,2625.9 1543.3,2626.1 1545.8,2626.3 1548.3,2626.4 1550.8,2626.6 1553.3,2626.8 1555.8,2627.0 1558.3,2627.1 1560.8,2627.3 1563.3,2627.4 1565.8,2627.6 1568.3,2627.7 1570.8,2627.8 1573.3,2628.0 1575.8,2628.1 1578.3,2628.2 1580.8,2628.3 1583.3,2628.4 1585.8,2628.5 1588.3,2628.6 1590.8,2628.7 1593.3,2628.8 1595.8,2628.9 1598.3,2629.0 1600.8,2629.0 1603.3,2629.1 1605.8,2629.2 1608.3,2629.2 1610.8,2629.3 1613.3,2629.3 1615.8,2629.4 1618.3,2629.4 1620.8,2629.5 1623.3,2629.5 1625.8,2629.6 1628.3,2629.6 1630.8,2629.7 1633.3,2629.7 1635.8,2629.8 1638.3,2629.8 1640.8,2629.8 1643.3,2629.9 1645.8,2629.9 1648.3,2630.0 1650.8,2630.0 1653.3,2630.1 1655.8,2630.1 1658.3,2630.2 1660.8,2630.2 1663.3,2630.3 1665.8,2630.3 1668.3,2630.4 1670.8,2630.4 1673.3,2630.5 1675.8,2630.5 1678.3,2630.6 1680.8,2630.6 1683.3,2630.7 1685.8,2630.7 1688.3,2630.8 1690.8,2630.8 1693.3,2630.9 1695.8,2630.9 1698.3,2631.0 1700.8,2631.0 1703.3,2631.1 1705.8,2631.1 1708.3,2631.2 1710.8,2631.2 1713.3,2631.3 1715.8,2631.3 1718.3,2631.4 1720.8,2631.4 1723.3,2631.5 1725.8,2631.5 1728.3,2631.6 1730.8,2631.6 1733.3,2631.7 1735.8,2631.7 1738.3,2631.8 1740.8,2631.8 1743.3,2631.9 1745.8,2631.9 1748.3,2632.0 1750.8,2632.0 1753.3,2632.1 1755.8,2632.1 1758.3,2632.2 1760.8,2632.2 1763.3,2632.3 1765.8,2632.3 1768.3,2632.4 1770.8,2632.4 1773.3,2632.5 1775.8,2632.5 1778.3,2632.6 1780.8,2632.6 1783.3,2632.7 1785.8,2632.7 1788.3,2632.8 1790.8,2632.8 1793.3,2632.9 1795.8,2632.9 1798.3,2633.0 1800.8,2633.0 1803.3,2633.1 1805.8,2633.1 1808.3,2633.2 1810.8,2633.2 1813.3,2633.3 1815.8,2633.3 1818.3,2633.4 1820.8,2633.4 1823.3,2633.5 1825.8,2633.5 1828.3,2633.6 1830.8,2633.6 1833.3,2633.7 1835.8,2633.7 1838.3,2633.8 1840.8,2633.8 1843.3,2633.9 1845.8,2633.9 1848.3,2634.0 1850.8,2634.0 1853.3,2634.1 1855.8,2634.2 1858.3,2634.2 1860.8,2634.3 1863.3,2634.4 1865.8,2634.5 1868.3,2634.5 1870.8,2634.6 1873.3,2634.7 1875.8,2634.8 1878.3,2634.8 1880.8,2634.9 1883.3,2635.0 1885.8,2635.1 1888.3,2635.2 1890.8,2635.2 1893.3,2635.3 1895.8,2635.4 1898.3,2635.5 1900.8,2635.6 1903.3,2635.6 1905.8,2635.7 1908.3,2635.8 1910.8,2635.9 1913.3,2636.0 1915.8,2636.1 1918.3,2636.2 1920.8,2636.3 1923.3,2636.4 1925.8,2636.4 1928.3,2636.5 1930.8,2636.6 1933.3,2636.7 1935.8,2636.7 1938.3,2636.8 1940.8,2636.9 1943.3,2636.9 1945.8,2637.0 1948.3,2637.0 1950.8,2637.0 1953.3,2637.0 1955.8,2637.1 1958.3,2637.1 1960.8,2637.1 1963.3,2637.1 1965.8,2637.1 1968.3,2637.1 1970.8,2637.2 1973.3,2637.2 1975.8,2637.2 1978.3,2637.2 1980.8,2637.2 1983.3,2637.2 1985.8,2637.2 1988.3,2637.2 1990.8,2637.2 1993.3,2637.2 1995.8,2637.2 1998.3,2637.2 2000.8,2637.2 2003.3,2637.2 2005.8,2637.2 2008.3,2637.2 2010.8,2637.2 2013.3,2637.2 2015.8,2637.2 2018.3,2637.2 2020.8,2637.2 2023.3,2637.2 2025.8,2637.2 2028.3,2637.2 2030.8,2637.2 2033.3,2637.2 2035.8,2637.2 2038.3,2637.2 2040.8,2637.2 2043.3,2637.2 2045.8,2637.2 2048.3,2637.2 2050.8,2637.2"/>
<path class="c" stroke="#00bf84" stroke-width="9.0" d="M243.3,2637.2 245.8,2637.2 248.3,2637.2 250.8,2637.2 253.3,2637.2 255.8,2637.2 258.3,2637.2 260.8,2637.2 263.3,2637.2 265.8,2637.2 268.3,2637.2 270.8,2637.2 273.3,2637.2 275.8,2637.2 278.3,2637.2 280.8,2637.2 283.3,2637.2 285.8,2637.2 288.3,2637.2 290.8,2637.2 293.3,2637.2 295.8,2637.2 298.3,2637.2 300.8,2637.2 303.3,2637.1 305.8,2637.1 308.3,2637.1 310.8,2637.1 313.3,2637.1 315.8,2637.0 318.3,2637.0 320.8,2636.8 323.3,2636.3 325.8,2635.3 328.3,2634.1 330.8,2632.5 333.3,2630.7 335.8,2628.7 338.3,2626.3 340.8,2623.4 343.3,2619.8 345.8,2615.8 348.3,2611.2 350.8,2605.9 353.3,2599.8 355.8,2592.8 358.3,2584.9 360.8,2575.9 363.3,2565.4 365.8,2553.3 368.3,2540.3 370.8,2527.3 373.3,2514.4 375.8,2501.8 378.3,2489.3 380.8,2476.9 383.3,2464.7 385.8,2453.1 388.3,2443.0 390.8,2434.7 393.3,2428.5 395.8,2424.3 398.3,2421.6 400.8,2420.1 403.3,2419.4 405.8,2419.3 408.3,2419.6 410.8,2420.3 413.3,2421.3 415.8,2422.4 418.3,2423.7 420.8,2425.1 423.3,2426.5 425.8,2427.9 428.3,2429.3 430.8,2430.6 433.3,2431.7 435.8,2432.7 438.3,2433.5 440.8,2434.0 443.3,2433.9 445.8,2433.0 448.3,2431.2 450.8,2428.4 453.3,2424.6 455.8,2419.5 458.3,2413.4 460.8,2406.4 463.3,2398.8 465.8,2391.4 468.3,2384.3 470.8,2377.9 473.3,2372.1 475.8,2367.2 478.3,2363.5 480.8,2360.9 483.3,2359.5 485.8,2359.1 488.3,2359.8 490.8,2361.0 493.3,2362.7 495.8,2364.8 498.3,2367.1 500.8,2369.4 503.3,2371.7 505.8,2373.9 508.3,2375.9 510.8,2377.5 513.3,2378.5 515.8,2379.0 518.3,2378.9 520.8,2377.7 523.3,2375.2 525.8,2371.0 528.3,2364.9 530.8,2356.6 533.3,2346.4 535.8,2334.2 538.3,2320.6 540.8,2306.8 543.3,2293.1 545.8,2280.0 548.3,2267.5 550.8,2255.9 553.3,2245.5 555.8,2236.7 558.3,2229.5 560.8,2223.7 563.3,2219.5 565.8,2216.8 568.3,2215.4 570.8,2215.3 573.3,2216.5 575.8,2218.8 578.3,2222.1 580.8,2225.9 583.3,2229.6 585.8,2232.6 588.3,2234.7 590.8,2235.6 593.3,2235.4 595.8,2233.8 598.3,2230.7 600.8,2225.9 603.3,2219.5 605.8,2211.6 608.3,2203.0 610.8,2193.9 613.3,2184.8 615.8,2176.2 618.3,2168.2 620.8,2160.9 623.3,2154.2 625.8,2148.4 628.3,2143.8 630.8,2140.7 633.3,2138.8 635.8,2138.0 638.3,2138.2 640.8,2139.5 643.3,2141.7 645.8,2144.8 648.3,2148.8 650.8,2153.1 653.3,2157.5 655.8,2161.8 658.3,2165.7 660.8,2169.2 663.3,2172.1 665.8,2174.5 668.3,2176.3 670.8,2177.7 673.3,2179.2 675.8,2181.1 678.3,2183.3 680.8,2186.3 683.3,2190.1 685.8,2194.7 688.3,2199.5 690.8,2204.3 693.3,2208.8 695.8,2213.1 698.3,2217.1 700.8,2220.7 703.3,2223.9 705.8,2226.4 708.3,2228.3 710.8,2229.9 713.3,2231.5 715.8,2233.1 718.3,2234.7 720.8,2236.5 723.3,2238.7 725.8,2241.3 728.3,2244.7 730.8,2248.8 733.3,2253.3 735.8,2258.2 738.3,2263.5 740.8,2269.4 743.3,2276.1 745.8,2283.8 748.3,2292.4 750.8,2301.5 753.3,2310.6 755.8,2319.8 758.3,2329.3 760.8,2339.3 763.3,2349.2 765.8,2357.7 768.3,2364.2 770.8,2368.5 773.3,2371.2 775.8,2372.6 778.3,2372.8 780.8,2371.8 783.3,2369.8 785.8,2367.0 788.3,2363.1 790.8,2358.4 793.3,2352.9 795.8,2346.9 798.3,2340.4 800.8,2333.9 803.3,2327.4 805.8,2321.2 808.3,2315.6 810.8,2310.6 813.3,2306.3 815.8,2302.8 818.3,2300.0 820.8,2298.1 823.3,2297.2 825.8,2297.4 828.3,2298.8 830.8,2301.6 833.3,2305.9 835.8,2311.8 838.3,2318.8 840.8,2326.7 843.3,2335.1 845.8,2343.8 848.3,2352.4 850.8,2360.5 853.3,2367.5 855.8,2373.4 858.3,2378.0 860.8,2381.3 863.3,2383.4 865.8,2384.3 868.3,2384.1 870.8,2382.9 873.3,2381.3 875.8,2379.1 878.3,2376.8 880.8,2374.8 883.3,2373.8 885.8,2373.6 888.3,2373.6 890.8,2373.7 893.3,2373.7 895.8,2373.8 898.3,2373.9 900.8,2374.1 903.3,2374.2 905.8,2374.3 908.3,2373.9 910.8,2372.9 913.3,2371.2 915.8,2369.1 918.3,2366.7 920.8,2364.1 923.3,2361.8 925.8,2360.0 928.3,2358.7 930.8,2357.8 933.3,2357.4 935.8,2357.7 938.3,2359.0 940.8,2361.4 943.3,2364.9 945.8,2369.4 948.3,2374.5 950.8,2379.8 953.3,2385.0 955.8,2390.1 958.3,2394.8 960.8,2399.1 963.3,2402.6 965.8,2405.1 968.3,2406.5 970.8,2407.0 973.3,2406.5 975.8,2405.0 978.3,2402.7 980.8,2399.1 983.3,2394.2 985.8,2388.2 988.3,2381.3 990.8,2373.4 993.3,2364.3 995.8,2353.7 998.3,2341.6 1000.8,2328.2 1003.3,2314.6 1005.8,2301.0 1008.3,2287.7 1010.8,2274.5 1013.3,2261.7 1015.8,2249.2 1018.3,2237.2 1020.8,2226.3 1023.3,2217.3 1025.8,2210.7 1028.3,2206.3 1030.8,2203.5 1033.3,2201.9 1035.8,2200.9 1038.3,2200.4 1040.8,2200.2 1043.3,2200.4 1045.8,2200.7 1048.3,2201.1 1050.8,2201.6 1053.3,2202.2 1055.8,2202.9 1058.3,2203.9 1060.8,2205.1 1063.3,2206.7 1065.8,2208.5 1068.3,2210.6 1070.8,2212.9 1073.3,2215.4 1075.8,2218.1 1078.3,2220.9 1080.8,2223.8 1083.3,2226.6 1085.8,2229.1 1088.3,2231.4 1090.8,2233.6 1093.3,2235.9 1095.8,2238.6 1098.3,2241.5 1100.8,2244.7 1103.3,2248.2 1105.8,2252.0 1108.3,2256.1 1110.8,2260.5 1113.3,2265.4 1115.8,2270.6 1118.3,2276.4 1120.8,2282.8 1123.3,2289.8 1125.8,2297.3 1128.3,2305.3 1130.8,2313.6 1133.3,2321.6 1135.8,2329.2 1138.3,2336.2 1140.8,2342.8 1143.3,2348.7 1145.8,2354.2 1148.3,2359.1 1150.8,2363.4 1153.3,2367.2 1155.8,2370.6 1158.3,2373.9 1160.8,2377.2 1163.3,2380.8 1165.8,2384.4 1168.3,2387.9 1170.8,2391.2 1173.3,2394.3 1175.8,2397.2 1178.3,2399.8 1180.8,2402.3 1183.3,2404.5 1185.8,2406.5 1188.3,2408.2 1190.8,2409.8 1193.3,2411.3 1195.8,2412.7 1198.3,2414.1 1200.8,2415.4 1203.3,2416.8 1205.8,2418.1 1208.3,2419.4 1210.8,2420.7 1213.3,2421.8 1215.8,2422.8 1218.3,2423.8 1220.8,2424.7 1223.3,2425.5 1225.8,2426.2 1228.3,2426.7 1230.8,2427.0 1233.3,2427.2 1235.8,2427.3 1238.3,2427.4 1240.8,2427.4 1243.3,2427.3 1245.8,2427.0 1248.3,2426.4 1250.8,2425.3 1253.3,2423.7 1255.8,2421.5 1258.3,2419.0 1260.8,2416.2 1263.3,2413.1 1265.8,2410.0 1268.3,2406.7 1270.8,2403.5 1273.3,2400.5 1275.8,2397.8 1278.3,2395.3 1280.8,2393.1 1283.3,2391.2 1285.8,2389.7 1288.3,2388.4 1290.8,2387.3 1293.3,2386.5 1295.8,2386.0 1298.3,2385.7 1300.8,2385.5 1303.3,2385.3 1305.8,2385.2 1308.3,2385.1 1310.8,2385.0 1313.3,2384.9 1315.8,2384.8 1318.3,2384.8 1320.8,2384.7 1323.3,2384.5 1325.8,2384.2 1328.3,2383.6 1330.8,2382.7 1333.3,2381.7 1335.8,2380.6 1338.3,2379.6 1340.8,2378.5 1343.3,2377.6 1345.8,2376.9 1348.3,2376.5 1350.8,2376.2 1353.3,2376.4 1355.8,2376.9 1358.3,2377.8 1360.8,2378.8 1363.3,2379.9 1365.8,2380.9 1368.3,2381.9 1370.8,2382.7 1373.3,2383.4 1375.8,2383.9 1378.3,2384.3 1380.8,2384.4 1383.3,2384.3 1385.8,2384.0 1388.3,2383.7 1390.8,2383.3 1393.3,2382.8 1395.8,2382.3 1398.3,2381.8 1400.8,2381.5 1403.3,2381.2 1405.8,2381.1 1408.3,2381.3 1410.8,2381.8 1413.3,2382.6 1415.8,2383.7 1418.3,2385.0 1420.8,2386.6 1423.3,2388.4 1425.8,2390.3 1428.3,2392.2 1430.8,2394.0 1433.3,2395.7 1435.8,2397.4 1438.3,2398.9 1440.8,2400.4 1443.3,2401.8 1445.8,2403.1 1448.3,2404.4 1450.8,2405.5 1453.3,2406.7 1455.8,2407.8 1458.3,2408.8 1460.8,2409.7 1463.3,2410.6 1465.8,2411.5 1468.3,2412.3 1470.8,2412.9 1473.3,2413.3 1475.8,2413.5 1478.3,2413.7 1480.8,2413.7 1483.3,2413.8 1485.8,2413.9 1488.3,2414.0 1490.8,2414.3 1493.3,2414.6 1495.8,2415.2 1498.3,2415.9 1500.8,2416.9 1503.3,2418.1 1505.8,2419.7 1508.3,2421.3 1510.8,2423.0 1513.3,2424.7 1515.8,2426.4 1518.3,2428.1 1520.8,2429.8 1523.3,2431.4 1525.8,2433.0 1528.3,2434.6 1530.8,2436.1 1533.3,2437.6 1535.8,2439.1 1538.3,2440.4 1540.8,2441.6 1543.3,2442.7 1545.8,2443.7 1548.3,2444.7 1550.8,2445.6 1553.3,2446.4 1555.8,2447.3 1558.3,2448.0 1560.8,2448.8 1563.3,2449.5 1565.8,2450.2 1568.3,2450.9 1570.8,2451.8 1573.3,2452.9 1575.8,2454.1 1578.3,2455.4 1580.8,2456.8 1583.3,2458.1 1585.8,2459.5 1588.3,2460.9 1590.8,2462.1 1593.3,2463.1 1595.8,2463.8 1598.3,2464.2 1600.8,2464.2 1603.3,2463.9 1605.8,2463.5 1608.3,2463.2 1610.8,2462.9 1613.3,2462.7 1615.8,2462.6 1618.3,2462.6 1620.8,2462.9 1623.3,2463.6 1625.8,2464.6 1628.3,2465.7 1630.8,2466.9 1633.3,2468.3 1635.8,2469.7 1638.3,2471.3 1640.8,2472.9 1643.3,2474.6 1645.8,2476.2 1648.3,2477.9 1650.8,2479.6 1653.3,2481.3 1655.8,2482.9 1658.3,2484.5 1660.8,2486.1 1663.3,2487.5 1665.8,2488.9 1668.3,2490.3 1670.8,2491.7 1673.3,2493.1 1675.8,2494.6 1678.3,2496.0 1680.8,2497.5 1683.3,2498.9 1685.8,2500.3 1688.3,2501.6 1690.8,2502.9 1693.3,2504.0 1695.8,2505.2 1698.3,2506.2 1700.8,2507.2 1703.3,2508.1 1705.8,2508.9 1708.3,2509.6 1710.8,2510.3 1713.3,2511.0 1715.8,2511.7 1718.3,2512.3 1720.8,2513.0 1723.3,2513.6 1725.8,2514.3 1728.3,2514.9 1730.8,2515.6 1733.3,2516.2 1735.8,2516.8 1738.3,2517.4 1740.8,2518.0 1743.3,2518.6 1745.8,2519.1 1748.3,2519.7 1750.8,2520.2 1753.3,2520.8 1755.8,2521.4 1758.3,2522.0 1760.8,2522.7 1763.3,2523.3 1765.8,2524.0 1768.3,2524.8 1770.8,2525.7 1773.3,2526.8 1775.8,2527.9 1778.3,2529.1 1780.8,2530.4 1783.3,2531.7 1785.8,2532.9 1788.3,2534.2 1790.8,2535.5 1793.3,2536.8 1795.8,2538.0 1798.3,2539.1 1800.8,2540.2 1803.3,2541.2 1805.8,2542.1 1808.3,2543.0 1810.8,2543.9 1813.3,2544.8 1815.8,2545.7 1818.3,2546.6 1820.8,2547.5 1823.3,2548.4 1825.8,2549.1 1828.3,2549.8 1830.8,2550.3 1833.3,2550.7 1835.8,2551.1 1838.3,2551.4 1840.8,2551.7 1843.3,2551.9 1845.8,2552.1 1848.3,2552.3 1850.8,2552.4 1853.3,2552.6 1855.8,2552.8 1858.3,2553.0 1860.8,2553.2 1863.3,2553.5 1865.8,2553.9 1868.3,2554.4 1870.8,2554.9 1873.3,2555.5 1875.8,2556.2 1878.3,2557.0 1880.8,2557.9 1883.3,2558.8 1885.8,2559.7 1888.3,2560.6 1890.8,2561.5 1893.3,2562.4 1895.8,2563.3 1898.3,2564.2 1900.8,2565.0 1903.3,2565.8 1905.8,2566.5 1908.3,2567.2 1910.8,2567.8 1913.3,2568.4 1915.8,2569.0 1918.3,2569.6 1920.8,2570.2 1923.3,2570.8 1925.8,2571.4 1928.3,2572.0 1930.8,2572.6 1933.3,2573.2 1935.8,2573.9 1938.3,2574.5 1940.8,2575.1 1943.3,2575.8 1945.8,2576.5 1948.3,2577.2 1950.8,2578.0 1953.3,2578.8 1955.8,2579.7 1958.3,2580.8 1960.8,2582.1 1963.3,2583.8 1965.8,2585.8 1968.3,2588.0 1970.8,2590.6 1973.3,2593.5 1975.8,2596.7 1978.3,2600.1 1980.8,2603.7 1983.3,2607.4 1985.8,2611.2 1988.3,2614.9 1990.8,2618.4 1993.3,2621.8 1995.8,2624.9 1998.3,2627.7 2000.8,2630.1 2003.3,2632.3 2005.8,2634.3 2008.3,2635.8 2010.8,2636.6 2013.3,2637.0 2015.8,2637.0 2018.3,2637.1 2020.8,2637.1 2023.3,2637.1 2025.8,2637.1 2028.3,2637.1 2030.8,2637.2 2033.3,2637.2 2035.8,2637.2 2038.3,2637.2 2040.8,2637.2 2043.3,2637.2 2045.8,2637.2 2048.3,2637.2 2050.8,2637.2"/>
</g>
<g clip-path="url(#cp4)">
<path class="c" stroke="#4d4d4d" stroke-width="9.0" d="M243.3,3287.7 245.8,3287.7 248.3,3287.7 250.8,3287.7 253.3,3287.7 255.8,3287.7 258.3,3287.7 260.8,3287.7 263.3,3287.7 265.8,3287.7 268.3,3287.7 270.8,3287.7 273.3,3287.7 275.8,3287.7 278.3,3287.7 280.8,3287.7 283.3,3287.7 285.8,3287.7 288.3,3287.7 290.8,3287.7 293.3,3287.7 295.8,3287.7 298.3,3287.7 300.8,3287.7 303.3,3287.7 305.8,3287.6 308.3,3287.6 310.8,3287.6 313.3,3287.6 315.8,3287.4 318.3,3287.1 320.8,3286.1 323.3,3284.5 325.8,3282.3 328.3,3279.8 330.8,3277.2 333.3,3274.5 335.8,3271.9 338.3,3269.1 340.8,3266.1 343.3,3262.9 345.8,3259.6 348.3,3256.0 350.8,3252.2 353.3,3248.0 355.8,3243.7 358.3,3239.3 360.8,3234.9 363.3,3230.5 365.8,3226.1 368.3,3221.6 370.8,3217.0 373.3,3212.2 375.8,3207.0 378.3,3201.8 380.8,3196.8 383.3,3192.6 385.8,3189.0 388.3,3186.2 390.8,3184.2 393.3,3182.8 395.8,3182.1 398.3,3181.8 400.8,3182.1 403.3,3183.0 405.8,3184.5 408.3,3186.5 410.8,3189.3 413.3,3192.8 415.8,3196.9 418.3,3201.7 420.8,3207.3 423.3,3213.7 425.8,3220.7 428.3,3228.5 430.8,3237.0 433.3,3246.0 435.8,3254.8 438.3,3261.6 440.8,3266.0 443.3,3268.7 445.8,3270.7 448.3,3272.2 450.8,3273.4 453.3,3274.3 455.8,3275.0 458.3,3275.6 460.8,3276.0 463.3,3276.3 465.8,3276.6 468.3,3276.8 470.8,3276.9 473.3,3277.0 475.8,3277.0 478.3,3277.0 480.8,3277.0 483.3,3277.0 485.8,3276.8 488.3,3276.4 490.8,3275.6 493.3,3274.7 495.8,3273.7 498.3,3272.7 500.8,3271.6 503.3,3270.6 505.8,3269.5 508.3,3268.6 510.8,3267.8 513.3,3267.2 515.8,3266.6 518.3,3266.1 520.8,3265.7 523.3,3265.5 525.8,3265.3 528.3,3265.2 530.8,3265.1 533.3,3265.0 535.8,3265.1 538.3,3265.2 540.8,3265.3 543.3,3265.4 545.8,3265.5 548.3,3265.4 550.8,3265.3 553.3,3265.1 555.8,3264.7 558.3,3264.0 560.8,3263.0 563.3,3261.8 565.8,3260.5 568.3,3259.0 570.8,3257.6 573.3,3256.5 575.8,3255.6 578.3,3255.1 580.8,3254.7 583.3,3254.7 585.8,3255.0 588.3,3255.6 590.8,3256.4 593.3,3257.5 595.8,3258.7 598.3,3260.1 600.8,3261.4 603.3,3262.7 605.8,3264.0 608.3,3265.2 610.8,3266.3 613.3,3267.2 615.8,3268.0 618.3,3268.6 620.8,3269.3 623.3,3269.8 625.8,3270.2 628.3,3270.6 630.8,3270.9 633.3,3271.1 635.8,3271.4 638.3,3271.6 640.8,3271.8 643.3,3271.9 645.8,3272.0 648.3,3272.1 650.8,3272.2 653.3,3272.2 655.8,3272.3 658.3,3272.3 660.8,3272.4 663.3,3272.5 665.8,3272.5 668.3,3272.7 670.8,3272.8 673.3,3273.0 675.8,3273.2 678.3,3273.4 680.8,3273.6 683.3,3273.8 685.8,3274.1 688.3,3274.4 690.8,3274.8 693.3,3275.3 695.8,3275.7 698.3,3276.2 700.8,3276.7 703.3,3277.2 705.8,3277.7 708.3,3278.2 710.8,3278.7 713.3,3279.3 715.8,3279.8 718.3,3280.3 720.8,3280.7 723.3,3280.9 725.8,3281.0 728.3,3281.0 730.8,3281.0 733.3,3281.0 735.8,3281.0 738.3,3281.0 740.8,3280.9 743.3,3280.6 745.8,3280.0 748.3,3279.3 750.8,3278.5 753.3,3277.6 755.8,3276.7 758.3,3275.7 760.8,3274.7 763.3,3273.6 765.8,3272.6 768.3,3271.8 770.8,3271.0 773.3,3270.4 775.8,3269.8 778.3,3269.5 780.8,3269.2 783.3,3269.1 785.8,3269.1 788.3,3269.2 790.8,3269.5 793.3,3269.8 795.8,3270.2 798.3,3270.6 800.8,3271.1 803.3,3271.7 805.8,3272.2 808.3,3272.7 810.8,3273.1 813.3,3273.4 815.8,3273.8 818.3,3274.1 820.8,3274.3 823.3,3274.4 825.8,3274.4 828.3,3274.4 830.8,3274.2 833.3,3274.0 835.8,3273.7 838.3,3273.2 840.8,3272.5 843.3,3271.5 845.8,3270.3 848.3,3268.9 850.8,3267.4 853.3,3265.6 855.8,3263.8 858.3,3262.1 860.8,3260.6 863.3,3259.3 865.8,3258.0 868.3,3257.0 870.8,3256.2 873.3,3255.6 875.8,3255.1 878.3,3254.7 880.8,3254.3 883.3,3253.8 885.8,3253.3 888.3,3252.8 890.8,3252.3 893.3,3251.6 895.8,3250.7 898.3,3249.5 900.8,3248.2 903.3,3246.9 905.8,3245.6 908.3,3244.2 910.8,3242.8 913.3,3241.5 915.8,3240.3 918.3,3239.3 920.8,3238.4 923.3,3237.6 925.8,3236.9 928.3,3236.4 930.8,3236.0 933.3,3235.7 935.8,3235.7 938.3,3235.9 940.8,3236.6 943.3,3237.9 945.8,3239.7 948.3,3241.7 950.8,3243.8 953.3,3246.0 955.8,3248.1 958.3,3250.0 960.8,3251.8 963.3,3253.4 965.8,3254.7 968.3,3255.6 970.8,3256.2 973.3,3256.7 975.8,3257.1 978.3,3257.3 980.8,3257.5 983.3,3257.6 985.8,3257.7 988.3,3257.8 990.8,3257.9 993.3,3257.9 995.8,3258.0 998.3,3258.0 1000.8,3258.0 1003.3,3258.0 1005.8,3258.0 1008.3,3258.0 1010.8,3258.0 1013.3,3258.0 1015.8,3258.0 1018.3,3258.0 1020.8,3258.0 1023.3,3257.9 1025.8,3257.8 1028.3,3257.6 1030.8,3257.4 1033.3,3257.2 1035.8,3257.0 1038.3,3256.7 1040.8,3256.3 1043.3,3255.9 1045.8,3255.4 1048.3,3254.9 1050.8,3254.3 1053.3,3253.8 1055.8,3253.4 1058.3,3253.1 1060.8,3252.8 1063.3,3252.6 1065.8,3252.6 1068.3,3252.8 1070.8,3253.0 1073.3,3253.3 1075.8,3253.5 1078.3,3253.7 1080.8,3253.8 1083.3,3253.9 1085.8,3253.8 1088.3,3253.4 1090.8,3252.7 1093.3,3251.6 1095.8,3250.3 1098.3,3248.4 1100.8,3246.1 1103.3,3243.7 1105.8,3241.3 1108.3,3239.0 1110.8,3236.8 1113.3,3234.8 1115.8,3233.1 1118.3,3231.6 1120.8,3230.3 1123.3,3229.2 1125.8,3228.3 1128.3,3227.6 1130.8,3227.1 1133.3,3226.7 1135.8,3226.5 1138.3,3226.5 1140.8,3226.5 1143.3,3226.5 1145.8,3226.5 1148.3,3226.5 1150.8,3226.4 1153.3,3226.2 1155.8,3226.0 1158.3,3225.7 1160.8,3225.3 1163.3,3224.8 1165.8,3224.2 1168.3,3223.5 1170.8,3222.6 1173.3,3221.6 1175.8,3220.3 1178.3,3218.9 1180.8,3217.3 1183.3,3215.6 1185.8,3213.9 1188.3,3211.9 1190.8,3209.9 1193.3,3207.8 1195.8,3205.8 1198.3,3203.9 1200.8,3202.1 1203.3,3200.4 1205.8,3199.0 1208.3,3197.8 1210.8,3197.0 1213.3,3196.4 1215.8,3196.0 1218.3,3195.7 1220.8,3195.8 1223.3,3196.2 1225.8,3197.0 1228.3,3197.9 1230.8,3199.2 1233.3,3200.7 1235.8,3202.3 1238.3,3204.2 1240.8,3206.2 1243.3,3208.3 1245.8,3210.6 1248.3,3212.9 1250.8,3215.3 1253.3,3217.8 1255.8,3220.4 1258.3,3222.9 1260.8,3225.3 1263.3,3227.7 1265.8,3229.8 1268.3,3231.9 1270.8,3233.9 1273.3,3235.8 1275.8,3237.5 1278.3,3239.1 1280.8,3240.6 1283.3,3242.1 1285.8,3243.4 1288.3,3244.7 1290.8,3245.8 1293.3,3246.9 1295.8,3248.0 1298.3,3248.9 1300.8,3249.8 1303.3,3250.5 1305.8,3251.1 1308.3,3251.7 1310.8,3252.2 1313.3,3252.6 1315.8,3253.0 1318.3,3253.3 1320.8,3253.5 1323.3,3253.7 1325.8,3253.9 1328.3,3254.0 1330.8,3254.1 1333.3,3254.3 1335.8,3254.4 1338.3,3254.4 1340.8,3254.5 1343.3,3254.6 1345.8,3254.7 1348.3,3254.7 1350.8,3254.8 1353.3,3254.8 1355.8,3254.9 1358.3,3255.0 1360.8,3255.0 1363.3,3255.1 1365.8,3255.2 1368.3,3255.3 1370.8,3255.3 1373.3,3255.4 1375.8,3255.4 1378.3,3255.5 1380.8,3255.5 1383.3,3255.5 1385.8,3255.4 1388.3,3255.3 1390.8,3255.2 1393.3,3255.1 1395.8,3254.8 1398.3,3254.5 1400.8,3253.9 1403.3,3253.3 1405.8,3252.5 1408.3,3251.6 1410.8,3250.7 1413.3,3249.6 1415.8,3248.5 1418.3,3247.6 1420.8,3246.9 1423.3,3246.3 1425.8,3245.9 1428.3,3245.7 1430.8,3245.6 1433.3,3245.8 1435.8,3246.0 1438.3,3246.3 1440.8,3246.6 1443.3,3246.8 1445.8,3246.9 1448.3,3246.7 1450.8,3246.3 1453.3,3245.7 1455.8,3245.0 1458.3,3244.3 1460.8,3243.7 1463.3,3243.2 1465.8,3242.9 1468.3,3242.7 1470.8,3242.6 1473.3,3242.8 1475.8,3243.3 1478.3,3244.0 1480.8,3244.8 1483.3,3245.6 1485.8,3246.5 1488.3,3247.4 1490.8,3248.3 1493.3,3249.2 1495.8,3250.1 1498.3,3250.9 1500.8,3251.7 1503.3,3252.4 1505.8,3253.1 1508.3,3253.8 1510.8,3254.4 1513.3,3255.0 1515.8,3255.5 1518.3,3256.0 1520.8,3256.4 1523.3,3256.9 1525.8,3257.3 1528.3,3257.7 1530.8,3258.2 1533.3,3258.5 1535.8,3258.8 1538.3,3258.9 1540.8,3259.0 1543.3,3259.0 1545.8,3259.0 1548.3,3259.0 1550.8,3258.9 1553.3,3258.6 1555.8,3258.3 1558.3,3258.0 1560.8,3257.6 1563.3,3257.3 1565.8,3257.0 1568.3,3256.7 1570.8,3256.6 1573.3,3256.7 1575.8,3257.0 1578.3,3257.4 1580.8,3257.9 1583.3,3258.5 1585.8,3259.2 1588.3,3259.9 1590.8,3260.6 1593.3,3261.3 1595.8,3261.8 1598.3,3262.3 1600.8,3262.7 1603.3,3263.1 1605.8,3263.4 1608.3,3263.6 1610.8,3263.8 1613.3,3264.0 1615.8,3264.2 1618.3,3264.5 1620.8,3264.8 1623.3,3265.3 1625.8,3265.9 1628.3,3266.5 1630.8,3267.2 1633.3,3267.8 1635.8,3268.5 1638.3,3269.1 1640.8,3269.7 1643.3,3270.3 1645.8,3270.9 1648.3,3271.4 1650.8,3271.7 1653.3,3272.1 1655.8,3272.4 1658.3,3272.7 1660.8,3272.9 1663.3,3273.0 1665.8,3273.0 1668.3,3273.0 1670.8,3273.0 1673.3,3273.0 1675.8,3272.9 1678.3,3272.7 1680.8,3272.5 1683.3,3272.2 1685.8,3271.9 1688.3,3271.6 1690.8,3271.3 1693.3,3271.1 1695.8,3270.9 1698.3,3270.7 1700.8,3270.6 1703.3,3270.5 1705.8,3270.5 1708.3,3270.5 1710.8,3270.5 1713.3,3270.5 1715.8,3270.5 1718.3,3270.5 1720.8,3270.6 1723.3,3270.7 1725.8,3271.0 1728.3,3271.3 1730.8,3271.6 1733.3,3271.9 1735.8,3272.3 1738.3,3272.7 1740.8,3273.1 1743.3,3273.5 1745.8,3274.0 1748.3,3274.4 1750.8,3274.8 1753.3,3275.1 1755.8,3275.5 1758.3,3275.8 1760.8,3276.1 1763.3,3276.4 1765.8,3276.7 1768.3,3276.9 1770.8,3277.1 1773.3,3277.3 1775.8,3277.5 1778.3,3277.7 1780.8,3277.9 1783.3,3278.0 1785.8,3278.1 1788.3,3278.1 1790.8,3278.2 1793.3,3278.3 1795.8,3278.3 1798.3,3278.4 1800.8,3278.4 1803.3,3278.5 1805.8,3278.5 1808.3,3278.5 1810.8,3278.5 1813.3,3278.5 1815.8,3278.5 1818.3,3278.5 1820.8,3278.5 1823.3,3278.5 1825.8,3278.5 1828.3,3278.5 1830.8,3278.5 1833.3,3278.5 1835.8,3278.5 1838.3,3278.5 1840.8,3278.5 1843.3,3278.5 1845.8,3278.5 1848.3,3278.5 1850.8,3278.5 1853.3,3278.5 1855.8,3278.6 1858.3,3278.7 1860.8,3278.8 1863.3,3279.0 1865.8,3279.3 1868.3,3279.5 1870.8,3279.7 1873.3,3279.9 1875.8,3280.1 1878.3,3280.3 1880.8,3280.4 1883.3,3280.6 1885.8,3280.8 1888.3,3280.9 1890.8,3281.1 1893.3,3281.2 1895.8,3281.3 1898.3,3281.5 1900.8,3281.6 1903.3,3281.7 1905.8,3281.8 1908.3,3281.9 1910.8,3282.0 1913.3,3282.1 1915.8,3282.2 1918.3,3282.3 1920.8,3282.4 1923.3,3282.5 1925.8,3282.6 1928.3,3282.7 1930.8,3282.8 1933.3,3282.9 1935.8,3282.9 1938.3,3283.0 1940.8,3283.1 1943.3,3283.2 1945.8,3283.4 1948.3,3283.5 1950.8,3283.6 1953.3,3283.7 1955.8,3283.9 1958.3,3284.0 1960.8,3284.2 1963.3,3284.3 1965.8,3284.5 1968.3,3284.6 1970.8,3284.8 1973.3,3285.0 1975.8,3285.1 1978.3,3285.3 1980.8,3285.5 1983.3,3285.7 1985.8,3286.0 1988.3,3286.2 1990.8,3286.4 1993.3,3286.6 1995.8,3286.8 1998.3,3287.0 2000.8,3287.2 2003.3,3287.3 2005.8,3287.4 2008.3,3287.5 2010.8,3287.5 2013.3,3287.6 2015.8,3287.6 2018.3,3287.6 2020.8,3287.6 2023.3,3287.7 2025.8,3287.7 2028.3,3287.7 2030.8,3287.7 2033.3,3287.7 2035.8,3287.7 2038.3,3287.7 2040.8,3287.7 2043.3,3287.7 2045.8,3287.7 2048.3,3287.7 2050.8,3287.7"/>
<path class="c" stroke="#ff3b3b" stroke-width="9.0" d="M243.3,3287.7 245.8,3287.7 248.3,3287.7 250.8,3287.7 253.3,3287.7 255.8,3287.7 258.3,3287.7 260.8,3287.7 263.3,3287.7 265.8,3287.7 268.3,3287.7 270.8,3287.7 273.3,3287.7 275.8,3287.7 278.3,3287.7 280.8,3287.7 283.3,3287.7 285.8,3287.7 288.3,3287.7 290.8,3287.7 293.3,3287.7 295.8,3287.7 298.3,3287.6 300.8,3287.6 303.3,3287.6 305.8,3287.6 308.3,3287.5 310.8,3287.2 313.3,3286.5 315.8,3285.3 318.3,3283.7 320.8,3281.7 323.3,3279.4 325.8,3277.0 328.3,3274.1 330.8,3270.8 333.3,3266.8 335.8,3262.4 338.3,3257.4 340.8,3251.9 343.3,3245.5 345.8,3238.1 348.3,3229.8 350.8,3220.8 353.3,3211.4 355.8,3201.5 358.3,3190.9 360.8,3179.8 363.3,3168.5 365.8,3157.4 368.3,3146.8 370.8,3136.6 373.3,3126.6 375.8,3116.7 378.3,3107.0 380.8,3097.4 383.3,3087.9 385.8,3078.2 388.3,3068.4 390.8,3059.0 393.3,3050.8 395.8,3044.3 398.3,3039.1 400.8,3035.3 403.3,3032.6 405.8,3030.7 408.3,3029.5 410.8,3029.0 413.3,3029.1 415.8,3030.0 418.3,3031.7 420.8,3034.0 423.3,3036.8 425.8,3039.8 428.3,3042.7 430.8,3045.4 433.3,3047.9 435.8,3050.3 438.3,3052.6 440.8,3054.7 443.3,3057.0 445.8,3059.8 448.3,3063.6 450.8,3068.6 453.3,3074.9 455.8,3082.5 458.3,3091.1 460.8,3100.2 463.3,3109.6 465.8,3118.4 468.3,3125.8 470.8,3131.8 473.3,3136.5 475.8,3139.9 478.3,3142.1 480.8,3143.1 483.3,3142.8 485.8,3141.1 488.3,3137.9 490.8,3133.1 493.3,3126.5 495.8,3118.2 498.3,3107.7 500.8,3094.7 503.3,3079.5 505.8,3063.2 508.3,3046.6 510.8,3029.9 513.3,3013.6 515.8,2998.3 518.3,2985.3 520.8,2975.7 523.3,2969.4 525.8,2965.9 528.3,2964.6 530.8,2965.2 533.3,2967.8 535.8,2972.2 538.3,2978.6 540.8,2986.4 543.3,2994.4 545.8,3002.3 548.3,3009.6 550.8,3015.7 553.3,3020.3 555.8,3022.9 558.3,3023.3 560.8,3021.5 563.3,3017.4 565.8,3010.9 568.3,3002.4 570.8,2992.7 573.3,2982.5 575.8,2972.2 578.3,2962.6 580.8,2954.0 583.3,2946.6 585.8,2940.7 588.3,2936.2 590.8,2933.0 593.3,2931.1 595.8,2930.0 598.3,2929.7 600.8,2930.0 603.3,2930.9 605.8,2932.4 608.3,2934.4 610.8,2936.7 613.3,2939.5 615.8,2942.5 618.3,2945.5 620.8,2948.7 623.3,2951.9 625.8,2955.0 628.3,2957.7 630.8,2960.2 633.3,2962.3 635.8,2963.9 638.3,2965.0 640.8,2965.6 643.3,2965.6 645.8,2965.1 648.3,2964.2 650.8,2963.1 653.3,2961.9 655.8,2960.6 658.3,2959.3 660.8,2958.2 663.3,2957.3 665.8,2956.5 668.3,2956.0 670.8,2955.7 673.3,2955.7 675.8,2956.2 678.3,2957.2 680.8,2958.9 683.3,2961.4 685.8,2964.9 688.3,2969.4 690.8,2974.7 693.3,2980.6 695.8,2987.3 698.3,2994.9 700.8,3003.2 703.3,3012.2 705.8,3021.9 708.3,3032.2 710.8,3042.7 713.3,3052.6 715.8,3060.8 718.3,3066.9 720.8,3071.1 723.3,3073.9 725.8,3075.8 728.3,3077.1 730.8,3078.1 733.3,3079.0 735.8,3080.0 738.3,3081.2 740.8,3082.8 743.3,3084.9 745.8,3087.6 748.3,3091.1 750.8,3095.2 753.3,3099.8 755.8,3104.9 758.3,3110.5 760.8,3116.6 763.3,3123.1 765.8,3130.1 768.3,3137.5 770.8,3144.8 773.3,3151.7 775.8,3158.2 778.3,3164.4 780.8,3170.2 783.3,3175.8 785.8,3181.0 788.3,3186.0 790.8,3190.9 793.3,3195.7 795.8,3200.4 798.3,3205.1 800.8,3209.6 803.3,3213.8 805.8,3217.6 808.3,3221.1 810.8,3224.2 813.3,3227.1 815.8,3229.7 818.3,3232.0 820.8,3234.2 823.3,3236.2 825.8,3237.9 828.3,3239.5 830.8,3240.8 833.3,3242.0 835.8,3243.1 838.3,3243.9 840.8,3244.6 843.3,3245.2 845.8,3245.6 848.3,3245.8 850.8,3245.7 853.3,3245.1 855.8,3244.1 858.3,3242.9 860.8,3241.5 863.3,3240.0 865.8,3238.5 868.3,3237.0 870.8,3235.7 873.3,3234.5 875.8,3233.5 878.3,3232.6 880.8,3231.8 883.3,3231.2 885.8,3230.7 888.3,3230.2 890.8,3229.7 893.3,3229.3 895.8,3228.9 898.3,3228.4 900.8,3227.9 903.3,3227.4 905.8,3226.7 908.3,3226.0 910.8,3225.2 913.3,3224.4 915.8,3223.6 918.3,3222.8 920.8,3222.0 923.3,3221.3 925.8,3220.6 928.3,3219.9 930.8,3219.3 933.3,3218.7 935.8,3218.0 938.3,3217.5 940.8,3217.2 943.3,3217.1 945.8,3217.2 948.3,3217.4 950.8,3217.6 953.3,3217.8 955.8,3218.0 958.3,3218.2 960.8,3218.3 963.3,3218.4 965.8,3218.4 968.3,3218.3 970.8,3218.0 973.3,3217.4 975.8,3216.4 978.3,3215.1 980.8,3213.3 983.3,3211.0 985.8,3208.2 988.3,3205.1 990.8,3201.8 993.3,3198.5 995.8,3195.2 998.3,3192.0 1000.8,3189.0 1003.3,3186.4 1005.8,3184.1 1008.3,3182.2 1010.8,3180.8 1013.3,3179.8 1015.8,3179.2 1018.3,3179.1 1020.8,3179.3 1023.3,3179.7 1025.8,3180.5 1028.3,3181.3 1030.8,3182.1 1033.3,3182.9 1035.8,3183.5 1038.3,3184.1 1040.8,3184.4 1043.3,3184.7 1045.8,3184.9 1048.3,3184.9 1050.8,3184.7 1053.3,3184.4 1055.8,3184.2 1058.3,3184.1 1060.8,3184.2 1063.3,3184.4 1065.8,3185.1 1068.3,3186.4 1070.8,3188.2 1073.3,3190.3 1075.8,3192.7 1078.3,3195.3 1080.8,3197.8 1083.3,3200.1 1085.8,3202.3 1088.3,3204.2 1090.8,3205.9 1093.3,3207.3 1095.8,3208.3 1098.3,3209.1 1100.8,3209.4 1103.3,3209.4 1105.8,3209.1 1108.3,3208.2 1110.8,3207.0 1113.3,3205.5 1115.8,3203.9 1118.3,3202.2 1120.8,3200.6 1123.3,3199.2 1125.8,3198.0 1128.3,3196.9 1130.8,3196.1 1133.3,3195.5 1135.8,3195.0 1138.3,3194.8 1140.8,3194.5 1143.3,3194.2 1145.8,3193.9 1148.3,3193.5 1150.8,3193.0 1153.3,3192.4 1155.8,3191.6 1158.3,3190.4 1160.8,3189.0 1163.3,3187.2 1165.8,3185.1 1168.3,3182.6 1170.8,3179.8 1173.3,3176.7 1175.8,3173.3 1178.3,3169.8 1180.8,3166.1 1183.3,3162.2 1185.8,3158.0 1188.3,3153.7 1190.8,3149.2 1193.3,3144.9 1195.8,3140.9 1198.3,3137.1 1200.8,3133.7 1203.3,3130.6 1205.8,3128.0 1208.3,3125.8 1210.8,3123.9 1213.3,3122.2 1215.8,3120.5 1218.3,3118.8 1220.8,3117.2 1223.3,3115.6 1225.8,3113.9 1228.3,3112.1 1230.8,3110.2 1233.3,3108.3 1235.8,3106.4 1238.3,3104.4 1240.8,3102.5 1243.3,3100.7 1245.8,3099.1 1248.3,3097.7 1250.8,3096.7 1253.3,3096.1 1255.8,3095.7 1258.3,3095.6 1260.8,3095.7 1263.3,3096.2 1265.8,3096.8 1268.3,3097.5 1270.8,3098.0 1273.3,3098.4 1275.8,3098.7 1278.3,3098.9 1280.8,3098.8 1283.3,3098.3 1285.8,3097.5 1288.3,3096.4 1290.8,3095.0 1293.3,3093.1 1295.8,3091.0 1298.3,3088.5 1300.8,3085.7 1303.3,3082.6 1305.8,3079.3 1308.3,3075.8 1310.8,3072.1 1313.3,3068.4 1315.8,3064.6 1318.3,3060.8 1320.8,3057.1 1323.3,3053.5 1325.8,3050.2 1328.3,3047.4 1330.8,3044.9 1333.3,3042.8 1335.8,3040.8 1338.3,3039.1 1340.8,3037.5 1343.3,3036.1 1345.8,3034.6 1348.3,3033.0 1350.8,3031.2 1353.3,3028.9 1355.8,3026.5 1358.3,3023.8 1360.8,3021.1 1363.3,3018.3 1365.8,3015.5 1368.3,3012.8 1370.8,3010.3 1373.3,3008.0 1375.8,3006.2 1378.3,3005.2 1380.8,3004.9 1383.3,3005.6 1385.8,3007.3 1388.3,3009.8 1390.8,3013.1 1393.3,3016.8 1395.8,3020.5 1398.3,3023.9 1400.8,3027.1 1403.3,3030.0 1405.8,3032.5 1408.3,3034.6 1410.8,3036.5 1413.3,3038.3 1415.8,3040.2 1418.3,3042.2 1420.8,3044.5 1423.3,3047.6 1425.8,3051.5 1428.3,3056.4 1430.8,3062.3 1433.3,3069.1 1435.8,3075.6 1438.3,3080.3 1440.8,3083.7 1443.3,3088.0 1445.8,3093.9 1448.3,3099.7 1450.8,3104.2 1453.3,3107.7 1455.8,3110.8 1458.3,3113.7 1460.8,3116.6 1463.3,3119.4 1465.8,3122.3 1468.3,3125.3 1470.8,3128.4 1473.3,3131.8 1475.8,3135.2 1478.3,3138.5 1480.8,3141.8 1483.3,3144.9 1485.8,3147.7 1488.3,3150.2 1490.8,3152.3 1493.3,3153.9 1495.8,3155.0 1498.3,3155.6 1500.8,3155.7 1503.3,3155.2 1505.8,3154.0 1508.3,3152.4 1510.8,3150.5 1513.3,3148.3 1515.8,3146.1 1518.3,3144.2 1520.8,3142.6 1523.3,3141.3 1525.8,3140.4 1528.3,3139.9 1530.8,3139.8 1533.3,3140.1 1535.8,3140.6 1538.3,3141.3 1540.8,3142.0 1543.3,3142.8 1545.8,3143.4 1548.3,3144.0 1550.8,3144.2 1553.3,3144.2 1555.8,3143.8 1558.3,3143.1 1560.8,3142.3 1563.3,3141.6 1565.8,3141.0 1568.3,3140.7 1570.8,3140.7 1573.3,3141.2 1575.8,3142.3 1578.3,3144.1 1580.8,3146.4 1583.3,3149.0 1585.8,3151.7 1588.3,3154.2 1590.8,3156.4 1593.3,3158.2 1595.8,3159.6 1598.3,3160.6 1600.8,3161.3 1603.3,3161.7 1605.8,3161.9 1608.3,3161.9 1610.8,3161.8 1613.3,3161.7 1615.8,3161.7 1618.3,3162.0 1620.8,3162.7 1623.3,3163.8 1625.8,3165.2 1628.3,3166.9 1630.8,3168.7 1633.3,3170.4 1635.8,3172.0 1638.3,3173.4 1640.8,3174.6 1643.3,3175.6 1645.8,3176.4 1648.3,3177.0 1650.8,3177.5 1653.3,3177.9 1655.8,3178.1 1658.3,3178.3 1660.8,3178.4 1663.3,3178.2 1665.8,3177.8 1668.3,3177.1 1670.8,3176.1 1673.3,3174.8 1675.8,3173.1 1678.3,3171.1 1680.8,3169.1 1683.3,3167.2 1685.8,3165.4 1688.3,3163.8 1690.8,3162.5 1693.3,3161.5 1695.8,3160.7 1698.3,3160.1 1700.8,3159.7 1703.3,3159.3 1705.8,3159.2 1708.3,3159.3 1710.8,3159.6 1713.3,3160.2 1715.8,3160.8 1718.3,3161.6 1720.8,3162.4 1723.3,3163.3 1725.8,3164.2 1728.3,3165.2 1730.8,3166.2 1733.3,3167.3 1735.8,3168.4 1738.3,3169.5 1740.8,3170.6 1743.3,3171.7 1745.8,3172.8 1748.3,3173.8 1750.8,3174.9 1753.3,3176.0 1755.8,3177.1 1758.3,3178.2 1760.8,3179.4 1763.3,3180.6 1765.8,3181.9 1768.3,3183.2 1770.8,3184.5 1773.3,3185.7 1775.8,3186.8 1778.3,3187.9 1780.8,3189.0 1783.3,3189.9 1785.8,3190.7 1788.3,3191.4 1790.8,3192.0 1793.3,3192.5 1795.8,3192.9 1798.3,3193.1 1800.8,3193.3 1803.3,3193.4 1805.8,3193.3 1808.3,3193.1 1810.8,3192.6 1813.3,3192.1 1815.8,3191.4 1818.3,3190.6 1820.8,3189.7 1823.3,3188.8 1825.8,3187.9 1828.3,3187.1 1830.8,3186.3 1833.3,3185.7 1835.8,3185.3 1838.3,3184.9 1840.8,3184.7 1843.3,3184.7 1845.8,3185.0 1848.3,3185.7 1850.8,3186.8 1853.3,3188.2 1855.8,3189.9 1858.3,3191.9 1860.8,3193.9 1863.3,3196.1 1865.8,3198.4 1868.3,3200.6 1870.8,3202.7 1873.3,3204.6 1875.8,3206.3 1878.3,3207.7 1880.8,3208.8 1883.3,3209.3 1885.8,3209.5 1888.3,3209.5 1890.8,3209.5 1893.3,3209.5 1895.8,3209.6 1898.3,3209.8 1900.8,3210.2 1903.3,3210.8 1905.8,3211.7 1908.3,3213.1 1910.8,3214.6 1913.3,3216.1 1915.8,3217.7 1918.3,3219.3 1920.8,3221.0 1923.3,3222.5 1925.8,3224.1 1928.3,3225.6 1930.8,3227.1 1933.3,3228.5 1935.8,3229.6 1938.3,3230.5 1940.8,3231.3 1943.3,3232.0 1945.8,3232.6 1948.3,3233.3 1950.8,3234.0 1953.3,3234.8 1955.8,3235.5 1958.3,3236.3 1960.8,3237.3 1963.3,3238.4 1965.8,3239.8 1968.3,3241.3 1970.8,3243.1 1973.3,3245.2 1975.8,3247.7 1978.3,3250.4 1980.8,3253.2 1983.3,3256.1 1985.8,3259.1 1988.3,3262.2 1990.8,3265.2 1993.3,3268.1 1995.8,3271.0 1998.3,3273.7 2000.8,3276.2 2003.3,3278.5 2005.8,3280.5 2008.3,3282.2 2010.8,3283.5 2013.3,3284.6 2015.8,3285.4 2018.3,3286.1 2020.8,3286.7 2023.3,3287.2 2025.8,3287.4 2028.3,3287.5 2030.8,3287.6 2033.3,3287.6 2035.8,3287.6 2038.3,3287.6 2040.8,3287.7 2043.3,3287.7 2045.8,3287.7 2048.3,3287.7 2050.8,3287.7"/>
<path class="c" stroke="#0066e6" stroke-width="9.0" d="M243.3,3287.7 245.8,3287.7 248.3,3287.7 250.8,3287.7 253.3,3287.7 255.8,3287.7 258.3,3287.7 260.8,3287.7 263.3,3287.7 265.8,3287.7 268.3,3287.7 270.8,3287.7 273.3,3287.7 275.8,3287.7 278.3,3287.7 280.8,3287.7 283.3,3287.7 285.8,3287.7 288.3,3287.7 290.8,3287.7 293.3,3287.7 295.8,3287.7 298.3,3287.7 300.8,3287.7 303.3,3287.7 305.8,3287.7 308.3,3287.7 310.8,3287.7 313.3,3287.7 315.8,3287.7 318.3,3287.7 320.8,3287.6 323.3,3287.6 325.8,3287.6 328.3,3287.6 330.8,3287.5 333.3,3287.3 335.8,3286.8 338.3,3286.1 340.8,3285.0 343.3,3283.8 345.8,3282.6 348.3,3281.3 350.8,3280.2 353.3,3279.0 355.8,3277.9 358.3,3276.7 360.8,3275.5 363.3,3274.3 365.8,3273.1 368.3,3271.8 370.8,3270.5 373.3,3269.2 375.8,3268.0 378.3,3266.8 380.8,3265.7 383.3,3264.6 385.8,3263.6 388.3,3262.7 390.8,3261.8 393.3,3261.0 395.8,3260.3 398.3,3259.7 400.8,3259.2 403.3,3258.8 405.8,3258.5 408.3,3258.2 410.8,3258.1 413.3,3258.1 415.8,3258.3 418.3,3258.7 420.8,3259.2 423.3,3259.6 425.8,3260.1 428.3,3260.6 430.8,3261.1 433.3,3261.6 435.8,3262.2 438.3,3262.7 440.8,3263.3 443.3,3263.9 445.8,3264.5 448.3,3265.1 450.8,3265.7 453.3,3266.3 455.8,3267.0 458.3,3267.7 460.8,3268.4 463.3,3269.0 465.8,3269.8 468.3,3270.5 470.8,3271.3 473.3,3272.0 475.8,3272.6 478.3,3273.0 480.8,3273.3 483.3,3273.2 485.8,3272.6 488.3,3271.3 490.8,3269.6 493.3,3267.5 495.8,3265.0 498.3,3262.2 500.8,3259.1 503.3,3255.9 505.8,3252.5 508.3,3248.9 510.8,3245.3 513.3,3241.7 515.8,3238.2 518.3,3235.4 520.8,3233.3 523.3,3232.0 525.8,3231.4 528.3,3231.3 530.8,3231.8 533.3,3232.9 535.8,3234.3 538.3,3235.8 540.8,3237.3 543.3,3238.6 545.8,3239.8 548.3,3240.8 550.8,3241.5 553.3,3241.9 555.8,3241.8 558.3,3241.2 560.8,3240.1 563.3,3238.4 565.8,3236.3 568.3,3234.0 570.8,3231.3 573.3,3228.5 575.8,3225.6 578.3,3222.6 580.8,3219.8 583.3,3217.5 585.8,3215.5 588.3,3214.0 590.8,3213.0 593.3,3212.4 595.8,3212.1 598.3,3212.1 600.8,3212.2 603.3,3212.5 605.8,3213.2 608.3,3214.0 610.8,3214.9 613.3,3216.0 615.8,3217.2 618.3,3218.5 620.8,3219.7 623.3,3220.8 625.8,3221.7 628.3,3222.5 630.8,3223.1 633.3,3223.5 635.8,3223.8 638.3,3223.9 640.8,3223.8 643.3,3223.5 645.8,3223.0 648.3,3222.4 650.8,3221.8 653.3,3221.2 655.8,3220.5 658.3,3219.9 660.8,3219.4 663.3,3218.9 665.8,3218.5 668.3,3218.2 670.8,3218.1 673.3,3218.2 675.8,3218.4 678.3,3218.9 680.8,3219.8 683.3,3221.1 685.8,3222.6 688.3,3224.3 690.8,3226.2 693.3,3228.2 695.8,3230.0 698.3,3231.8 700.8,3233.5 703.3,3235.0 705.8,3236.3 708.3,3237.3 710.8,3238.0 713.3,3238.4 715.8,3238.4 718.3,3238.1 720.8,3237.4 723.3,3236.1 725.8,3234.4 728.3,3232.2 730.8,3229.5 733.3,3226.2 735.8,3222.5 738.3,3218.4 740.8,3213.7 743.3,3208.4 745.8,3202.3 748.3,3195.2 750.8,3187.4 753.3,3178.6 755.8,3169.1 758.3,3159.0 760.8,3148.9 763.3,3138.8 765.8,3128.8 768.3,3118.8 770.8,3108.8 773.3,3098.4 775.8,3087.6 778.3,3077.1 780.8,3068.7 783.3,3063.1 785.8,3059.8 788.3,3058.0 790.8,3057.3 793.3,3057.5 795.8,3058.6 798.3,3060.6 800.8,3063.6 803.3,3067.3 805.8,3071.6 808.3,3075.9 810.8,3080.4 813.3,3084.9 815.8,3089.1 818.3,3092.9 820.8,3096.2 823.3,3099.3 825.8,3102.4 828.3,3105.8 830.8,3109.3 833.3,3113.1 835.8,3116.9 838.3,3120.8 840.8,3124.7 843.3,3128.3 845.8,3131.5 848.3,3134.1 850.8,3135.8 853.3,3136.7 855.8,3136.5 858.3,3135.5 860.8,3133.5 863.3,3131.0 865.8,3128.2 868.3,3125.2 870.8,3122.4 873.3,3119.8 875.8,3117.4 878.3,3115.2 880.8,3113.1 883.3,3111.2 885.8,3109.3 888.3,3107.5 890.8,3105.6 893.3,3103.4 895.8,3101.0 898.3,3098.2 900.8,3095.1 903.3,3091.8 905.8,3088.3 908.3,3084.6 910.8,3080.8 913.3,3077.0 915.8,3073.5 918.3,3070.1 920.8,3066.9 923.3,3063.9 925.8,3061.3 928.3,3059.0 930.8,3057.2 933.3,3055.9 935.8,3055.2 938.3,3054.9 940.8,3055.3 943.3,3056.4 945.8,3058.0 948.3,3060.0 950.8,3062.2 953.3,3064.3 955.8,3066.2 958.3,3067.7 960.8,3068.7 963.3,3069.2 965.8,3069.3 968.3,3069.0 970.8,3068.0 973.3,3066.2 975.8,3063.4 978.3,3059.4 980.8,3054.3 983.3,3048.0 985.8,3040.4 988.3,3031.5 990.8,3021.3 993.3,3009.9 995.8,2998.1 998.3,2986.3 1000.8,2974.8 1003.3,2964.0 1005.8,2953.9 1008.3,2944.9 1010.8,2937.1 1013.3,2931.1 1015.8,2927.3 1018.3,2925.3 1020.8,2924.6 1023.3,2925.2 1025.8,2926.8 1028.3,2929.3 1030.8,2932.7 1033.3,2936.7 1035.8,2940.9 1038.3,2945.1 1040.8,2949.2 1043.3,2952.8 1045.8,2956.0 1048.3,2959.0 1050.8,2962.2 1053.3,2965.7 1055.8,2969.4 1058.3,2973.2 1060.8,2977.0 1063.3,2981.1 1065.8,2985.5 1068.3,2990.8 1070.8,2997.1 1073.3,3004.4 1075.8,3012.4 1078.3,3021.0 1080.8,3030.2 1083.3,3039.9 1085.8,3050.1 1088.3,3060.7 1090.8,3071.8 1093.3,3083.2 1095.8,3094.8 1098.3,3106.3 1100.8,3117.2 1103.3,3127.5 1105.8,3137.3 1108.3,3146.5 1110.8,3155.2 1113.3,3163.0 1115.8,3169.8 1118.3,3175.6 1120.8,3180.8 1123.3,3185.6 1125.8,3190.1 1128.3,3194.2 1130.8,3198.1 1133.3,3201.5 1135.8,3204.5 1138.3,3207.2 1140.8,3209.8 1143.3,3212.3 1145.8,3214.9 1148.3,3217.5 1150.8,3220.2 1153.3,3223.0 1155.8,3226.0 1158.3,3229.1 1160.8,3232.0 1163.3,3234.9 1165.8,3237.6 1168.3,3240.1 1170.8,3242.3 1173.3,3244.1 1175.8,3245.6 1178.3,3246.9 1180.8,3247.8 1183.3,3248.5 1185.8,3249.1 1188.3,3249.6 1190.8,3249.8 1193.3,3249.9 1195.8,3249.9 1198.3,3249.8 1200.8,3249.7 1203.3,3249.6 1205.8,3249.5 1208.3,3249.4 1210.8,3249.3 1213.3,3249.2 1215.8,3249.1 1218.3,3249.0 1220.8,3249.1 1223.3,3249.2 1225.8,3249.5 1228.3,3249.8 1230.8,3250.3 1233.3,3250.7 1235.8,3251.2 1238.3,3251.6 1240.8,3252.2 1243.3,3252.8 1245.8,3253.4 1248.3,3254.1 1250.8,3254.8 1253.3,3255.6 1255.8,3256.4 1258.3,3257.3 1260.8,3258.1 1263.3,3259.0 1265.8,3259.7 1268.3,3260.4 1270.8,3261.0 1273.3,3261.6 1275.8,3262.2 1278.3,3262.7 1280.8,3263.1 1283.3,3263.5 1285.8,3263.9 1288.3,3264.3 1290.8,3264.6 1293.3,3264.8 1295.8,3265.0 1298.3,3265.2 1300.8,3265.4 1303.3,3265.6 1305.8,3265.7 1308.3,3265.8 1310.8,3265.9 1313.3,3266.0 1315.8,3266.0 1318.3,3266.0 1320.8,3266.0 1323.3,3266.0 1325.8,3266.0 1328.3,3266.0 1330.8,3266.0 1333.3,3266.0 1335.8,3266.0 1338.3,3265.9 1340.8,3265.9 1343.3,3265.7 1345.8,3265.6 1348.3,3265.4 1350.8,3265.3 1353.3,3265.1 1355.8,3264.9 1358.3,3264.7 1360.8,3264.5 1363.3,3264.3 1365.8,3264.0 1368.3,3263.8 1370.8,3263.7 1373.3,3263.6 1375.8,3263.5 1378.3,3263.5 1380.8,3263.5 1383.3,3263.5 1385.8,3263.5 1388.3,3263.5 1390.8,3263.5 1393.3,3263.6 1395.8,3263.7 1398.3,3263.9 1400.8,3264.1 1403.3,3264.4 1405.8,3264.6 1408.3,3264.8 1410.8,3265.1 1413.3,3265.4 1415.8,3265.7 1418.3,3266.0 1420.8,3266.3 1423.3,3266.6 1425.8,3266.8 1428.3,3266.9 1430.8,3267.0 1433.3,3267.1 1435.8,3267.3 1438.3,3267.9 1440.8,3268.7 1443.3,3269.7 1445.8,3270.8 1448.3,3271.7 1450.8,3272.5 1453.3,3273.3 1455.8,3274.0 1458.3,3274.6 1460.8,3275.3 1463.3,3275.8 1465.8,3276.3 1468.3,3276.8 1470.8,3277.2 1473.3,3277.6 1475.8,3278.0 1478.3,3278.4 1480.8,3278.8 1483.3,3279.1 1485.8,3279.5 1488.3,3279.8 1490.8,3280.2 1493.3,3280.5 1495.8,3280.7 1498.3,3280.9 1500.8,3281.1 1503.3,3281.3 1505.8,3281.4 1508.3,3281.5 1510.8,3281.7 1513.3,3281.8 1515.8,3281.8 1518.3,3281.9 1520.8,3282.0 1523.3,3282.0 1525.8,3282.0 1528.3,3282.0 1530.8,3282.0 1533.3,3282.0 1535.8,3282.0 1538.3,3282.0 1540.8,3282.0 1543.3,3282.0 1545.8,3282.0 1548.3,3282.0 1550.8,3282.0 1553.3,3282.0 1555.8,3282.1 1558.3,3282.1 1560.8,3282.2 1563.3,3282.2 1565.8,3282.3 1568.3,3282.4 1570.8,3282.4 1573.3,3282.5 1575.8,3282.5 1578.3,3282.6 1580.8,3282.6 1583.3,3282.7 1585.8,3282.7 1588.3,3282.8 1590.8,3282.8 1593.3,3282.9 1595.8,3282.9 1598.3,3283.0 1600.8,3283.0 1603.3,3283.1 1605.8,3283.1 1608.3,3283.2 1610.8,3283.2 1613.3,3283.3 1615.8,3283.3 1618.3,3283.4 1620.8,3283.4 1623.3,3283.5 1625.8,3283.5 1628.3,3283.6 1630.8,3283.7 1633.3,3283.7 1635.8,3283.8 1638.3,3283.9 1640.8,3283.9 1643.3,3283.9 1645.8,3284.0 1648.3,3284.0 1650.8,3284.0 1653.3,3284.0 1655.8,3283.9 1658.3,3283.8 1660.8,3283.8 1663.3,3283.7 1665.8,3283.6 1668.3,3283.6 1670.8,3283.5 1673.3,3283.5 1675.8,3283.5 1678.3,3283.5 1680.8,3283.5 1683.3,3283.5 1685.8,3283.5 1688.3,3283.5 1690.8,3283.5 1693.3,3283.5 1695.8,3283.5 1698.3,3283.5 1700.8,3283.5 1703.3,3283.5 1705.8,3283.6 1708.3,3283.6 1710.8,3283.7 1713.3,3283.7 1715.8,3283.8 1718.3,3283.9 1720.8,3283.9 1723.3,3284.0 1725.8,3284.0 1728.3,3284.1 1730.8,3284.1 1733.3,3284.2 1735.8,3284.2 1738.3,3284.3 1740.8,3284.3 1743.3,3284.4 1745.8,3284.4 1748.3,3284.5 1750.8,3284.5 1753.3,3284.6 1755.8,3284.6 1758.3,3284.7 1760.8,3284.7 1763.3,3284.8 1765.8,3284.8 1768.3,3284.9 1770.8,3284.9 1773.3,3285.0 1775.8,3285.0 1778.3,3285.1 1780.8,3285.1 1783.3,3285.2 1785.8,3285.2 1788.3,3285.3 1790.8,3285.3 1793.3,3285.4 1795.8,3285.4 1798.3,3285.5 1800.8,3285.5 1803.3,3285.6 1805.8,3285.6 1808.3,3285.7 1810.8,3285.8 1813.3,3285.8 1815.8,3285.9 1818.3,3285.9 1820.8,3286.0 1823.3,3286.0 1825.8,3286.1 1828.3,3286.1 1830.8,3286.2 1833.3,3286.2 1835.8,3286.3 1838.3,3286.3 1840.8,3286.4 1843.3,3286.4 1845.8,3286.5 1848.3,3286.5 1850.8,3286.5 1853.3,3286.6 1855.8,3286.6 1858.3,3286.6 1860.8,3286.6 1863.3,3286.7 1865.8,3286.7 1868.3,3286.7 1870.8,3286.7 1873.3,3286.8 1875.8,3286.8 1878.3,3286.8 1880.8,3286.8 1883.3,3286.9 1885.8,3286.9 1888.3,3286.9 1890.8,3286.9 1893.3,3286.9 1895.8,3287.0 1898.3,3287.0 1900.8,3287.0 1903.3,3287.0 1905.8,3287.1 1908.3,3287.1 1910.8,3287.1 1913.3,3287.1 1915.8,3287.2 1918.3,3287.2 1920.8,3287.2 1923.3,3287.3 1925.8,3287.3 1928.3,3287.3 1930.8,3287.3 1933.3,3287.4 1935.8,3287.4 1938.3,3287.4 1940.8,3287.4 1943.3,3287.4 1945.8,3287.5 1948.3,3287.5 1950.8,3287.5 1953.3,3287.5 1955.8,3287.6 1958.3,3287.6 1960.8,3287.6 1963.3,3287.6 1965.8,3287.7 1968.3,3287.7 1970.8,3287.7 1973.3,3287.7 1975.8,3287.7 1978.3,3287.7 1980.8,3287.7 1983.3,3287.7 1985.8,3287.7 1988.3,3287.7 1990.8,3287.7 1993.3,3287.7 1995.8,3287.7 1998.3,3287.7 2000.8,3287.7 2003.3,3287.7 2005.8,3287.7 2008.3,3287.7 2010.8,3287.7 2013.3,3287.7 2015.8,3287.7 2018.3,3287.7 2020.8,3287.7 2023.3,3287.7 2025.8,3287.7 2028.3,3287.7 2030.8,3287.7 2033.3,3287.7 2035.8,3287.7 2038.3,3287.7 2040.8,3287.7 2043.3,3287.7 2045.8,3287.7 2048.3,3287.7 2050.8,3287.7"/>
<path class="c" stroke="#00bf84" stroke-width="9.0" d="M243.3,3287.7 245.8,3287.7 248.3,3287.7 250.8,3287.7 253.3,3287.7 255.8,3287.7 258.3,3287.7 260.8,3287.7 263.3,3287.7 265.8,3287.7 268.3,3287.7 270.8,3287.7 273.3,3287.7 275.8,3287.7 278.3,3287.7 280.8,3287.7 283.3,3287.7 285.8,3287.6 288.3,3287.6 290.8,3287.6 293.3,3287.6 295.8,3287.5 298.3,3287.3 300.8,3286.9 303.3,3286.2 305.8,3285.1 308.3,3283.8 310.8,3282.3 313.3,3280.6 315.8,3278.5 318.3,3275.7 320.8,3272.2 323.3,3268.1 325.8,3263.4 328.3,3258.5 330.8,3253.2 333.3,3247.5 335.8,3241.2 338.3,3234.2 340.8,3226.1 343.3,3216.6 345.8,3204.9 348.3,3190.8 350.8,3174.9 353.3,3157.9 355.8,3140.0 358.3,3121.3 360.8,3102.3 363.3,3083.9 365.8,3066.4 368.3,3049.6 370.8,3033.7 373.3,3019.0 375.8,3005.7 378.3,2993.3 380.8,2980.7 383.3,2966.3 385.8,2950.0 388.3,2934.9 390.8,2923.6 393.3,2915.9 395.8,2910.5 398.3,2906.5 400.8,2903.8 403.3,2902.1 405.8,2901.6 408.3,2902.2 410.8,2904.1 413.3,2907.5 415.8,2912.7 418.3,2919.8 420.8,2928.2 423.3,2937.7 425.8,2948.0 428.3,2958.5 430.8,2968.6 433.3,2978.1 435.8,2986.6 438.3,2993.8 440.8,3000.0 443.3,3005.7 445.8,3011.3 448.3,3017.1 450.8,3023.0 453.3,3029.4 455.8,3036.5 458.3,3044.3 460.8,3052.9 463.3,3062.4 465.8,3072.6 468.3,3083.0 470.8,3093.1 473.3,3101.8 475.8,3108.6 478.3,3113.1 480.8,3115.5 483.3,3115.8 485.8,3114.2 488.3,3110.8 490.8,3105.2 493.3,3097.1 495.8,3086.5 498.3,3072.9 500.8,3055.9 503.3,3036.6 505.8,3016.5 508.3,2996.2 510.8,2975.8 513.3,2955.8 515.8,2936.7 518.3,2919.7 520.8,2906.1 523.3,2896.6 525.8,2891.1 528.3,2888.6 530.8,2888.6 533.3,2891.2 535.8,2896.5 538.3,2904.3 540.8,2914.0 543.3,2924.4 545.8,2934.8 548.3,2944.0 550.8,2951.1 553.3,2955.3 555.8,2956.8 558.3,2955.6 560.8,2951.8 563.3,2944.8 565.8,2934.2 568.3,2920.6 570.8,2905.2 573.3,2889.3 575.8,2874.2 578.3,2860.7 580.8,2849.5 583.3,2840.8 585.8,2834.5 588.3,2830.2 590.8,2827.5 593.3,2826.2 595.8,2826.0 598.3,2827.0 600.8,2829.0 603.3,2832.1 605.8,2836.2 608.3,2841.0 610.8,2846.3 613.3,2851.8 615.8,2857.4 618.3,2862.9 620.8,2868.1 623.3,2873.1 625.8,2877.5 628.3,2881.3 630.8,2884.5 633.3,2886.9 635.8,2888.6 638.3,2889.6 640.8,2890.0 643.3,2889.5 645.8,2888.3 648.3,2886.5 650.8,2884.6 653.3,2882.7 655.8,2880.8 658.3,2879.1 660.8,2877.5 663.3,2876.3 665.8,2875.5 668.3,2875.0 670.8,2874.8 673.3,2875.0 675.8,2876.0 678.3,2877.9 680.8,2880.8 683.3,2884.8 685.8,2889.7 688.3,2895.1 690.8,2900.9 693.3,2907.4 695.8,2914.6 698.3,2923.0 700.8,2932.8 703.3,2944.1 705.8,2956.3 708.3,2968.9 710.8,2981.4 713.3,2992.5 715.8,3001.4 718.3,3008.2 720.8,3012.8 723.3,3015.7 725.8,3017.2 728.3,3017.4 730.8,3016.6 733.3,3014.7 735.8,3012.2 738.3,3009.6 740.8,3006.8 743.3,3004.0 745.8,3001.1 748.3,2998.1 750.8,2995.1 753.3,2991.7 755.8,2987.8 758.3,2983.3 760.8,2978.3 763.3,2973.1 765.8,2967.9 768.3,2962.9 770.8,2958.0 773.3,2953.4 775.8,2949.2 778.3,2945.5 780.8,2942.7 783.3,2941.0 785.8,2940.5 788.3,2941.8 790.8,2945.0 793.3,2949.7 795.8,2955.8 798.3,2962.5 800.8,2969.3 803.3,2976.2 805.8,2983.1 808.3,2990.1 810.8,2997.0 813.3,3004.0 815.8,3010.9 818.3,3017.5 820.8,3023.7 823.3,3029.6 825.8,3035.2 828.3,3040.8 830.8,3046.5 833.3,3052.3 835.8,3058.0 838.3,3063.4 840.8,3068.2 843.3,3072.2 845.8,3075.1 848.3,3076.8 850.8,3077.2 853.3,3076.2 855.8,3073.7 858.3,3069.9 860.8,3064.8 863.3,3058.8 865.8,3052.6 868.3,3046.5 870.8,3040.9 873.3,3036.2 875.8,3032.4 878.3,3029.1 880.8,3026.0 883.3,3023.0 885.8,3020.0 888.3,3017.1 890.8,3014.2 893.3,3011.2 895.8,3007.9 898.3,3004.4 900.8,3000.4 903.3,2995.9 905.8,2990.9 908.3,2985.6 910.8,2980.1 913.3,2974.5 915.8,2968.8 918.3,2963.3 920.8,2958.0 923.3,2953.0 925.8,2948.4 928.3,2944.3 930.8,2940.8 933.3,2937.9 935.8,2936.0 938.3,2935.3 940.8,2936.0 943.3,2937.9 945.8,2941.0 948.3,2944.8 950.8,2949.0 953.3,2953.3 955.8,2957.3 958.3,2960.7 960.8,2963.2 963.3,2964.8 965.8,2965.3 968.3,2964.8 970.8,2963.1 973.3,2960.4 975.8,2956.3 978.3,2950.7 980.8,2943.6 983.3,2934.8 985.8,2924.3 988.3,2912.6 990.8,2899.8 993.3,2886.3 995.8,2872.7 998.3,2859.2 1000.8,2846.0 1003.3,2833.2 1005.8,2821.2 1008.3,2810.7 1010.8,2802.3 1013.3,2796.0 1015.8,2791.8 1018.3,2789.5 1020.8,2789.0 1023.3,2790.2 1025.8,2792.8 1028.3,2796.8 1030.8,2801.6 1033.3,2806.5 1035.8,2811.2 1038.3,2815.4 1040.8,2819.1 1043.3,2822.3 1045.8,2825.2 1048.3,2827.8 1050.8,2830.3 1053.3,2832.9 1055.8,2835.8 1058.3,2839.1 1060.8,2843.4 1063.3,2849.1 1065.8,2856.1 1068.3,2863.9 1070.8,2872.2 1073.3,2881.0 1075.8,2890.0 1078.3,2899.2 1080.8,2908.6 1083.3,2918.3 1085.8,2928.1 1088.3,2938.2 1090.8,2948.3 1093.3,2958.4 1095.8,2968.3 1098.3,2977.8 1100.8,2986.6 1103.3,2994.9 1105.8,3002.6 1108.3,3009.8 1110.8,3016.4 1113.3,3022.4 1115.8,3027.9 1118.3,3032.9 1120.8,3037.3 1123.3,3041.2 1125.8,3044.6 1128.3,3047.5 1130.8,3050.0 1133.3,3052.1 1135.8,3054.0 1138.3,3055.8 1140.8,3057.8 1143.3,3060.0 1145.8,3062.3 1148.3,3064.5 1150.8,3066.6 1153.3,3068.7 1155.8,3070.5 1158.3,3072.0 1160.8,3073.1 1163.3,3073.8 1165.8,3074.2 1168.3,3074.1 1170.8,3073.3 1173.3,3071.9 1175.8,3069.7 1178.3,3066.5 1180.8,3062.4 1183.3,3057.6 1185.8,3052.1 1188.3,3046.1 1190.8,3039.8 1193.3,3033.2 1195.8,3026.6 1198.3,3020.1 1200.8,3013.9 1203.3,3008.3 1205.8,3003.5 1208.3,2999.6 1210.8,2996.5 1213.3,2994.2 1215.8,2992.5 1218.3,2991.3 1220.8,2990.4 1223.3,2989.9 1225.8,2989.5 1228.3,2989.2 1230.8,2988.9 1233.3,2988.6 1235.8,2988.3 1238.3,2988.1 1240.8,2988.0 1243.3,2988.0 1245.8,2988.1 1248.3,2988.6 1250.8,2989.7 1253.3,2991.7 1255.8,2994.3 1258.3,2997.8 1260.8,3001.7 1263.3,3005.8 1265.8,3009.8 1268.3,3013.7 1270.8,3017.2 1273.3,3020.1 1275.8,3022.6 1278.3,3024.6 1280.8,3026.1 1283.3,3027.0 1285.8,3027.5 1288.3,3027.7 1290.8,3027.9 1293.3,3027.8 1295.8,3027.3 1298.3,3026.4 1300.8,3025.3 1303.3,3023.7 1305.8,3021.7 1308.3,3019.3 1310.8,3016.4 1313.3,3013.4 1315.8,3010.2 1318.3,3006.7 1320.8,3003.3 1323.3,3000.1 1325.8,2997.0 1328.3,2994.0 1330.8,2991.3 1333.3,2988.9 1335.8,2986.8 1338.3,2984.9 1340.8,2983.2 1343.3,2981.6 1345.8,2980.1 1348.3,2978.6 1350.8,2977.0 1353.3,2975.0 1355.8,2972.5 1358.3,2969.6 1360.8,2966.6 1363.3,2963.5 1365.8,2960.5 1368.3,2957.5 1370.8,2954.8 1373.3,2952.5 1375.8,2950.7 1378.3,2949.7 1380.8,2949.5 1383.3,2950.2 1385.8,2951.8 1388.3,2954.0 1390.8,2956.7 1393.3,2959.8 1395.8,2963.2 1398.3,2966.7 1400.8,2969.8 1403.3,2972.2 1405.8,2973.9 1408.3,2975.2 1410.8,2976.1 1413.3,2976.9 1415.8,2977.6 1418.3,2978.5 1420.8,2979.9 1423.3,2981.9 1425.8,2984.9 1428.3,2989.2 1430.8,2994.5 1433.3,3000.8 1435.8,3007.7 1438.3,3014.8 1440.8,3021.4 1443.3,3027.8 1445.8,3033.9 1448.3,3039.9 1450.8,3045.2 1453.3,3049.8 1455.8,3053.7 1458.3,3057.2 1460.8,3060.3 1463.3,3063.1 1465.8,3065.9 1468.3,3068.9 1470.8,3072.5 1473.3,3076.7 1475.8,3081.2 1478.3,3085.7 1480.8,3090.1 1483.3,3094.3 1485.8,3098.3 1488.3,3101.9 1490.8,3104.9 1493.3,3107.5 1495.8,3109.5 1498.3,3110.8 1500.8,3111.5 1503.3,3111.7 1505.8,3111.3 1508.3,3110.3 1510.8,3108.9 1513.3,3107.3 1515.8,3105.6 1518.3,3104.1 1520.8,3102.9 1523.3,3102.0 1525.8,3101.4 1528.3,3101.2 1530.8,3101.5 1533.3,3102.1 1535.8,3102.9 1538.3,3103.9 1540.8,3105.1 1543.3,3106.2 1545.8,3107.0 1548.3,3107.6 1550.8,3107.7 1553.3,3107.2 1555.8,3106.2 1558.3,3104.9 1560.8,3103.7 1563.3,3102.6 1565.8,3101.8 1568.3,3101.4 1570.8,3101.3 1573.3,3101.8 1575.8,3103.2 1578.3,3105.3 1580.8,3108.2 1583.3,3111.9 1585.8,3115.8 1588.3,3119.5 1590.8,3122.9 1593.3,3126.0 1595.8,3128.5 1598.3,3130.5 1600.8,3131.9 1603.3,3132.8 1605.8,3133.2 1608.3,3133.4 1610.8,3133.5 1613.3,3133.5 1615.8,3133.6 1618.3,3133.8 1620.8,3134.6 1623.3,3135.9 1625.8,3137.6 1628.3,3139.5 1630.8,3141.7 1633.3,3144.0 1635.8,3146.3 1638.3,3148.5 1640.8,3150.5 1643.3,3152.3 1645.8,3154.0 1648.3,3155.3 1650.8,3156.5 1653.3,3157.5 1655.8,3158.2 1658.3,3158.8 1660.8,3159.2 1663.3,3159.3 1665.8,3159.1 1668.3,3158.6 1670.8,3157.8 1673.3,3156.7 1675.8,3155.2 1678.3,3153.3 1680.8,3151.3 1683.3,3149.3 1685.8,3147.4 1688.3,3145.5 1690.8,3143.9 1693.3,3142.5 1695.8,3141.4 1698.3,3140.6 1700.8,3140.0 1703.3,3139.5 1705.8,3139.2 1708.3,3139.1 1710.8,3139.2 1713.3,3139.6 1715.8,3140.2 1718.3,3140.9 1720.8,3141.7 1723.3,3142.8 1725.8,3144.0 1728.3,3145.3 1730.8,3146.6 1733.3,3147.9 1735.8,3149.2 1738.3,3150.6 1740.8,3151.9 1743.3,3153.3 1745.8,3154.6 1748.3,3156.0 1750.8,3157.4 1753.3,3158.8 1755.8,3160.2 1758.3,3161.7 1760.8,3163.1 1763.3,3164.5 1765.8,3166.0 1768.3,3167.4 1770.8,3168.8 1773.3,3170.2 1775.8,3171.6 1778.3,3173.0 1780.8,3174.4 1783.3,3175.8 1785.8,3177.1 1788.3,3178.1 1790.8,3179.0 1793.3,3179.8 1795.8,3180.4 1798.3,3180.8 1800.8,3181.1 1803.3,3181.3 1805.8,3181.4 1808.3,3181.3 1810.8,3181.0 1813.3,3180.6 1815.8,3180.1 1818.3,3179.5 1820.8,3178.8 1823.3,3178.0 1825.8,3177.2 1828.3,3176.5 1830.8,3175.8 1833.3,3175.2 1835.8,3174.7 1838.3,3174.4 1840.8,3174.2 1843.3,3174.1 1845.8,3174.4 1848.3,3175.0 1850.8,3175.9 1853.3,3177.1 1855.8,3178.7 1858.3,3180.5 1860.8,3182.4 1863.3,3184.4 1865.8,3186.4 1868.3,3188.5 1870.8,3190.5 1873.3,3192.5 1875.8,3194.4 1878.3,3196.2 1880.8,3197.8 1883.3,3199.0 1885.8,3199.8 1888.3,3200.3 1890.8,3200.6 1893.3,3200.9 1895.8,3201.2 1898.3,3201.4 1900.8,3201.8 1903.3,3202.3 1905.8,3203.4 1908.3,3204.8 1910.8,3206.5 1913.3,3208.3 1915.8,3210.1 1918.3,3211.9 1920.8,3213.7 1923.3,3215.5 1925.8,3217.2 1928.3,3218.9 1930.8,3220.4 1933.3,3221.9 1935.8,3223.1 1938.3,3224.0 1940.8,3224.8 1943.3,3225.5 1945.8,3226.2 1948.3,3226.8 1950.8,3227.5 1953.3,3228.3 1955.8,3229.0 1958.3,3229.8 1960.8,3230.8 1963.3,3231.9 1965.8,3233.3 1968.3,3234.8 1970.8,3236.6 1973.3,3238.8 1975.8,3241.3 1978.3,3244.2 1980.8,3247.2 1983.3,3250.3 1985.8,3253.5 1988.3,3256.8 1990.8,3260.1 1993.3,3263.3 1995.8,3266.4 1998.3,3269.4 2000.8,3272.1 2003.3,3274.6 2005.8,3276.8 2008.3,3278.8 2010.8,3280.5 2013.3,3282.0 2015.8,3283.5 2018.3,3284.8 2020.8,3286.0 2023.3,3286.8 2025.8,3287.3 2028.3,3287.5 2030.8,3287.6 2033.3,3287.6 2035.8,3287.6 2038.3,3287.6 2040.8,3287.7 2043.3,3287.7 2045.8,3287.7 2048.3,3287.7 2050.8,3287.7"/>
</g>
<line x1="966.8" y1="37.66" x2="966.8" y2="3292" stroke="#808080" stroke-width="7.9" stroke-dasharray="39.0 35.644"/>
<line x1="1792.2" y1="142.4" x2="1916.2" y2="142.4" stroke="#4d4d4d" stroke-width="9.0" stroke-linecap="round"/>
<text class="lb" x="1930.5" y="160.6">s</text>
<line x1="1792.2" y1="212.2" x2="1916.2" y2="212.2" stroke="#ff3b3b" stroke-width="9.0" stroke-linecap="round"/>
<text class="lb" x="1930.5" y="230.4">p</text>
<line x1="1792.2" y1="282.0" x2="1916.2" y2="282.0" stroke="#0066e6" stroke-width="9.0" stroke-linecap="round"/>
<text class="lb" x="1930.5" y="300.2">d</text>
<line x1="1792.2" y1="351.8" x2="1916.2" y2="351.8" stroke="#00bf84" stroke-width="9.0" stroke-linecap="round"/>
<text class="lb" x="1930.5" y="370.0">T</text>
<line x1="1792.2" y1="794.2" x2="1916.2" y2="794.2" stroke="#4d4d4d" stroke-width="9.0" stroke-linecap="round"/>
<text class="lb" x="1930.5" y="812.4">s</text>
<line x1="1792.2" y1="864.0" x2="1916.2" y2="864.0" stroke="#ff3b3b" stroke-width="9.0" stroke-linecap="round"/>
<text class="lb" x="1930.5" y="882.2">p</text>
<line x1="1792.2" y1="933.8" x2="1916.2" y2="933.8" stroke="#0066e6" stroke-width="9.0" stroke-linecap="round"/>
<text class="lb" x="1930.5" y="952.0">d</text>
<line x1="1792.2" y1="1003.6" x2="1916.2" y2="1003.6" stroke="#00bf84" stroke-width="9.0" stroke-linecap="round"/>
<text class="lb" x="1930.5" y="1021.8">T</text>
<line x1="1792.2" y1="1442.7" x2="1916.2" y2="1442.7" stroke="#4d4d4d" stroke-width="9.0" stroke-linecap="round"/>
<text class="lb" x="1930.5" y="1460.9">s</text>
<line x1="1792.2" y1="1512.5" x2="1916.2" y2="1512.5" stroke="#ff3b3b" stroke-width="9.0" stroke-linecap="round"/>
<text class="lb" x="1930.5" y="1530.7">p</text>
<line x1="1792.2" y1="1582.3" x2="1916.2" y2="1582.3" stroke="#0066e6" stroke-width="9.0" stroke-linecap="round"/>
<text class="lb" x="1930.5" y="1600.5">d</text>
<line x1="1792.2" y1="1652.1" x2="1916.2" y2="1652.1" stroke="#00bf84" stroke-width="9.0" stroke-linecap="round"/>
<text class="lb" x="1930.5" y="1670.3">T</text>
<line x1="1792.2" y1="2094.6" x2="1916.2" y2="2094.6" stroke="#4d4d4d" stroke-width="9.0" stroke-linecap="round"/>
<text class="lb" x="1930.5" y="2112.8">s</text>
<line x1="1792.2" y1="2164.4" x2="1916.2" y2="2164.4" stroke="#ff3b3b" stroke-width="9.0" stroke-linecap="round"/>
<text class="lb" x="1930.5" y="2182.6">p</text>
<line x1="1792.2" y1="2234.2" x2="1916.2" y2="2234.2" stroke="#0066e6" stroke-width="9.0" stroke-linecap="round"/>
<text class="lb" x="1930.5" y="2252.4">d</text>
<line x1="1792.2" y1="2304.0" x2="1916.2" y2="2304.0" stroke="#00bf84" stroke-width="9.0" stroke-linecap="round"/>
<text class="lb" x="1930.5" y="2322.2">T</text>
<line x1="1792.2" y1="2743.8" x2="1916.2" y2="2743.8" stroke="#4d4d4d" stroke-width="9.0" stroke-linecap="round"/>
<text class="lb" x="1930.5" y="2762.0">s</text>
<line x1="1792.2" y1="2813.6" x2="1916.2" y2="2813.6" stroke="#ff3b3b" stroke-width="9.0" stroke-linecap="round"/>
<text class="lb" x="1930.5" y="2831.8">p</text>
<line x1="1792.2" y1="2883.4" x2="1916.2" y2="2883.4" stroke="#0066e6" stroke-width="9.0" stroke-linecap="round"/>
<text class="lb" x="1930.5" y="2901.6">d</text>
<line x1="1792.2" y1="2953.2" x2="1916.2" y2="2953.2" stroke="#00bf84" stroke-width="9.0" stroke-linecap="round"/>
<text class="lb" x="1930.5" y="2971.4">T</text>
<text class="lb" x="321.0" y="130.0">MoS<tspan class="sub" dy="14.4">2</tspan></text>
<text class="lb" x="321.0" y="778.3">3 Al in MoS<tspan class="sub" dy="14.4">2</tspan></text>
<text class="lb" x="321.0" y="1427.5">6 Al in MoS<tspan class="sub" dy="14.4">2</tspan></text>
<text class="lb" x="321.0" y="2086.0">9 Al in MoS<tspan class="sub" dy="14.4">2</tspan></text>
<text class="lb" x="321.0" y="2724.5">12 Al in MoS<tspan class="sub" dy="14.4">2</tspan></text>
<rect x="248.3" y="35.0" width="1799.6" height="3252.7" fill="none" stroke="#000" stroke-width="9.4"/>
<line x1="248.3" y1="685.5" x2="2047.9" y2="685.5" stroke="#000" stroke-width="9.4"/>
<line x1="248.3" y1="1336.1" x2="2047.9" y2="1336.1" stroke="#000" stroke-width="9.4"/>
<line x1="248.3" y1="1986.6" x2="2047.9" y2="1986.6" stroke="#000" stroke-width="9.4"/>
<line x1="248.3" y1="2637.2" x2="2047.9" y2="2637.2" stroke="#000" stroke-width="9.4"/>
<g stroke="#000" stroke-width="9.5">
<line x1="224.5" y1="685.5" x2="248.3" y2="685.5"/>
<line x1="236.7" y1="617.8" x2="248.3" y2="617.8"/>
<line x1="224.5" y1="550.0" x2="248.3" y2="550.0"/>
<line x1="236.7" y1="482.2" x2="248.3" y2="482.2"/>
<line x1="224.5" y1="414.5" x2="248.3" y2="414.5"/>
<line x1="236.7" y1="346.7" x2="248.3" y2="346.7"/>
<line x1="224.5" y1="279.0" x2="248.3" y2="279.0"/>
<line x1="236.7" y1="211.2" x2="248.3" y2="211.2"/>
<line x1="224.5" y1="143.4" x2="248.3" y2="143.4"/>
<line x1="236.7" y1="75.7" x2="248.3" y2="75.7"/>
<line x1="224.5" y1="1336.1" x2="248.3" y2="1336.1"/>
<line x1="236.7" y1="1268.3" x2="248.3" y2="1268.3"/>
<line x1="224.5" y1="1200.6" x2="248.3" y2="1200.6"/>
<line x1="236.7" y1="1132.8" x2="248.3" y2="1132.8"/>
<line x1="224.5" y1="1065.0" x2="248.3" y2="1065.0"/>
<line x1="236.7" y1="997.3" x2="248.3" y2="997.3"/>
<line x1="224.5" y1="929.5" x2="248.3" y2="929.5"/>
<line x1="236.7" y1="861.7" x2="248.3" y2="861.7"/>
<line x1="224.5" y1="794.0" x2="248.3" y2="794.0"/>
<line x1="236.7" y1="726.2" x2="248.3" y2="726.2"/>
<line x1="224.5" y1="1986.6" x2="248.3" y2="1986.6"/>
<line x1="236.7" y1="1918.9" x2="248.3" y2="1918.9"/>
<line x1="224.5" y1="1851.1" x2="248.3" y2="1851.1"/>
<line x1="236.7" y1="1783.3" x2="248.3" y2="1783.3"/>
<line x1="224.5" y1="1715.6" x2="248.3" y2="1715.6"/>
<line x1="236.7" y1="1647.8" x2="248.3" y2="1647.8"/>
<line x1="224.5" y1="1580.0" x2="248.3" y2="1580.0"/>
<line x1="236.7" y1="1512.3" x2="248.3" y2="1512.3"/>
<line x1="224.5" y1="1444.5" x2="248.3" y2="1444.5"/>
<line x1="236.7" y1="1376.7" x2="248.3" y2="1376.7"/>
<line x1="224.5" y1="2637.2" x2="248.3" y2="2637.2"/>
<line x1="236.7" y1="2569.4" x2="248.3" y2="2569.4"/>
<line x1="224.5" y1="2501.6" x2="248.3" y2="2501.6"/>
<line x1="236.7" y1="2433.9" x2="248.3" y2="2433.9"/>
<line x1="224.5" y1="2366.1" x2="248.3" y2="2366.1"/>
<line x1="236.7" y1="2298.3" x2="248.3" y2="2298.3"/>
<line x1="224.5" y1="2230.6" x2="248.3" y2="2230.6"/>
<line x1="236.7" y1="2162.8" x2="248.3" y2="2162.8"/>
<line x1="224.5" y1="2095.0" x2="248.3" y2="2095.0"/>
<line x1="236.7" y1="2027.3" x2="248.3" y2="2027.3"/>
<line x1="224.5" y1="3287.7" x2="248.3" y2="3287.7"/>
<line x1="236.7" y1="3219.9" x2="248.3" y2="3219.9"/>
<line x1="224.5" y1="3152.2" x2="248.3" y2="3152.2"/>
<line x1="236.7" y1="3084.4" x2="248.3" y2="3084.4"/>
<line x1="224.5" y1="3016.6" x2="248.3" y2="3016.6"/>
<line x1="236.7" y1="2948.9" x2="248.3" y2="2948.9"/>
<line x1="224.5" y1="2881.1" x2="248.3" y2="2881.1"/>
<line x1="236.7" y1="2813.3" x2="248.3" y2="2813.3"/>
<line x1="224.5" y1="2745.6" x2="248.3" y2="2745.6"/>
<line x1="236.7" y1="2677.8" x2="248.3" y2="2677.8"/>
<line x1="248.3" y1="3287.7" x2="248.3" y2="3311.5"/>
<line x1="428.3" y1="3287.7" x2="428.3" y2="3299.3"/>
<line x1="608.2" y1="3287.7" x2="608.2" y2="3311.5"/>
<line x1="788.2" y1="3287.7" x2="788.2" y2="3299.3"/>
<line x1="968.1" y1="3287.7" x2="968.1" y2="3311.5"/>
<line x1="1148.1" y1="3287.7" x2="1148.1" y2="3299.3"/>
<line x1="1328.1" y1="3287.7" x2="1328.1" y2="3311.5"/>
<line x1="1508.0" y1="3287.7" x2="1508.0" y2="3299.3"/>
<line x1="1688.0" y1="3287.7" x2="1688.0" y2="3311.5"/>
<line x1="1867.9" y1="3287.7" x2="1867.9" y2="3299.3"/>
<line x1="2047.9" y1="3287.7" x2="2047.9" y2="3311.5"/>
</g>
<text class="tk" text-anchor="end" x="208.7" y="702.0">0</text>
<text class="tk" text-anchor="end" x="208.7" y="566.5">10</text>
<text class="tk" text-anchor="end" x="208.7" y="431.0">20</text>
<text class="tk" text-anchor="end" x="208.7" y="295.5">30</text>
<text class="tk" text-anchor="end" x="208.7" y="159.9">40</text>
<text class="tk" text-anchor="end" x="208.7" y="1352.6">0</text>
<text class="tk" text-anchor="end" x="208.7" y="1217.1">10</text>
<text class="tk" text-anchor="end" x="208.7" y="1081.5">20</text>
<text class="tk" text-anchor="end" x="208.7" y="946.0">30</text>
<text class="tk" text-anchor="end" x="208.7" y="810.5">40</text>
<text class="tk" text-anchor="end" x="208.7" y="2003.1">0</text>
<text class="tk" text-anchor="end" x="208.7" y="1867.6">10</text>
<text class="tk" text-anchor="end" x="208.7" y="1732.1">20</text>
<text class="tk" text-anchor="end" x="208.7" y="1596.5">30</text>
<text class="tk" text-anchor="end" x="208.7" y="1461.0">40</text>
<text class="tk" text-anchor="end" x="208.7" y="2653.7">0</text>
<text class="tk" text-anchor="end" x="208.7" y="2518.1">10</text>
<text class="tk" text-anchor="end" x="208.7" y="2382.6">20</text>
<text class="tk" text-anchor="end" x="208.7" y="2247.1">30</text>
<text class="tk" text-anchor="end" x="208.7" y="2111.5">40</text>
<text class="tk" text-anchor="end" x="208.7" y="3304.2">0</text>
<text class="tk" text-anchor="end" x="208.7" y="3168.7">10</text>
<text class="tk" text-anchor="end" x="208.7" y="3033.1">20</text>
<text class="tk" text-anchor="end" x="208.7" y="2897.6">30</text>
<text class="tk" text-anchor="end" x="208.7" y="2762.1">40</text>
<text class="tk" text-anchor="middle" x="248.3" y="3370.3">−10</text>
<text class="tk" text-anchor="middle" x="608.2" y="3370.3">−5</text>
<text class="tk" text-anchor="middle" x="968.1" y="3370.3">0</text>
<text class="tk" text-anchor="middle" x="1328.1" y="3370.3">5</text>
<text class="tk" text-anchor="middle" x="1688.0" y="3370.3">10</text>
<text class="tk" text-anchor="middle" x="2047.9" y="3370.3">15</text>
<text class="ax" x="932.0" y="3485.5">E</text>
<text class="ax cjk" transform="translate(1003.75,3482.3) scale(1.03,0.829)">（</text>
<text class="ax" x="1105.9" y="3485.5">eV)</text>
<text class="ax" transform="translate(82.0,1910.5) rotate(-90)">DOS (electrons/eV)</text>
</svg>
</body>
</html>
